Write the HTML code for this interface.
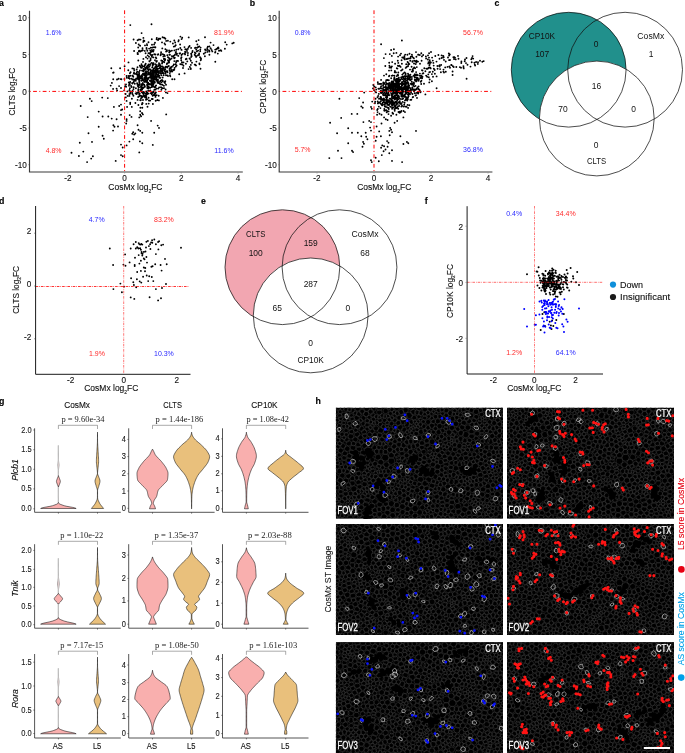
<!DOCTYPE html>
<html lang="en"><head><meta charset="utf-8"><title>Figure</title>
<style>html,body{margin:0;padding:0;background:#fff}svg{display:block}text{font-family:"Liberation Sans", Arial, Helvetica, sans-serif}text.sf{font-family:"Liberation Serif", "Times New Roman", serif}</style>
</head><body>
<svg width="685" height="753" viewBox="0 0 685 753">
<rect width="685" height="753" fill="#fff"/>
<path d="M149.1 87.3h0M166 75.2h0M164.3 70h0M142.2 89.6h0M144.9 82.1h0M142 70.6h0M156 65.1h0M148 68h0M158.2 72.9h0M125.1 86.2h0M168.7 61h0M147.5 79.9h0M157.4 70.8h0M147 66.4h0M143.9 81.1h0M154.6 79.4h0M159.2 73h0M146.1 72.5h0M146.7 73.3h0M157.4 72.3h0M137.6 75.7h0M129.4 95.9h0M153.7 81.7h0M140.1 78.1h0M138.3 90.8h0M142.7 88.3h0M133.5 89.1h0M129.7 84.4h0M149.2 84.6h0M160.1 70.7h0M145.7 63.8h0M139.2 80.9h0M153.6 64.5h0M157.8 71.1h0M144.9 86.8h0M155.6 76.2h0M162 80h0M146.1 71.2h0M138.3 89.3h0M153.1 64.3h0M151.9 70.8h0M162.7 88.1h0M132.3 75.7h0M140.3 66.8h0M138 86.5h0M126.6 76h0M150.3 90.5h0M155.4 72.2h0M139.3 93.1h0M166.4 66.6h0M159.2 87.4h0M156.7 95.1h0M153.8 71.6h0M160.9 53.9h0M131.7 87h0M156.5 67.1h0M156.4 73h0M126.1 86.7h0M153.1 70h0M145.5 64.3h0M158.7 83.1h0M143.1 73.8h0M148.5 73.8h0M153.1 86.5h0M137.5 67.2h0M156.3 58.2h0M147.4 84.7h0M155 60.3h0M142 78.3h0M162.6 73.1h0M156.4 61.7h0M146.4 75.4h0M156.8 71.2h0M164.8 58.8h0M171.5 58.4h0M128.6 76h0M160 84h0M154.6 87.2h0M147.5 67.8h0M135.9 88.3h0M164.7 69.9h0M132.6 90.6h0M155.9 75.5h0M165.3 81.2h0M128.3 70.2h0M144.8 86h0M132 83.1h0M151.8 77h0M168 60.2h0M174.5 79.3h0M126 84.4h0M141.4 80.7h0M157.7 69.2h0M168.8 65.9h0M154.1 78.4h0M139.2 77.8h0M152.5 78.3h0M148.5 72.8h0M146.1 78.2h0M139.3 85h0M153.6 75.1h0M152.6 72.2h0M147.5 58.6h0M145.9 81.4h0M132.3 79.5h0M142.5 66.8h0M164.1 88.1h0M146.3 91.4h0M130.3 92.3h0M165.7 71.7h0M155.5 54.5h0M175.6 64.3h0M149.5 66.5h0M142.8 80.3h0M130.2 102.6h0M165.6 89.5h0M181.5 57.2h0M138.2 78.5h0M140.4 89.8h0M156.3 64.9h0M138.1 92.5h0M145.2 68.5h0M144.2 66.3h0M151.1 81.9h0M162.7 80.8h0M149 69.6h0M160.4 81.4h0M143.3 71.3h0M152.9 84.8h0M121.4 79.2h0M130.2 82h0M158.9 76.6h0M141.2 86.3h0M156.1 72.1h0M155.6 89.5h0M165.6 73h0M159.1 76.2h0M161.7 66.6h0M147.3 87.1h0M139.8 65.6h0M139.4 82.2h0M142.5 87.8h0M134.3 70.2h0M141.7 65.4h0M147.5 78.4h0M151.9 82.6h0M144.4 77.8h0M124.2 90.4h0M147.8 79.3h0M151.6 62.9h0M162.5 68.7h0M156.1 72.8h0M140.5 76.5h0M139.5 80.1h0M174.3 61.1h0M158.4 66.1h0M172.1 71.6h0M175.9 66.5h0M138.3 60.5h0M153.6 71.4h0M154.5 76h0M155.8 57.5h0M155.6 74.1h0M151.3 84.5h0M150.9 70.3h0M129.5 90.2h0M146.6 81.2h0M139.2 77.1h0M150.3 77h0M142.7 84.7h0M156.6 78.3h0M159.1 77.8h0M152.6 65.7h0M152.7 81h0M149.9 80.7h0M143 61.9h0M146.6 81.7h0M142.4 66.6h0M153.6 64.2h0M148.9 77.7h0M156.1 85.5h0M131.7 78.6h0M160 67.2h0M139 72h0M139.3 79.1h0M146.2 67.6h0M141.5 67.7h0M152.4 83.8h0M141.4 67.4h0M135.1 79.7h0M137.9 84.7h0M165.4 73.4h0M149.3 61.1h0M133.8 73.6h0M148.8 90.9h0M128.8 82.5h0M171.5 69.9h0M129.2 84.5h0M154.8 78.6h0M155.6 85.9h0M130.2 75.8h0M152.5 82.8h0M161.4 75.2h0M154.7 79.4h0M152 81.3h0M160.8 66.4h0M150.8 72.7h0M153 80.5h0M147.1 84.7h0M156.8 77.6h0M136.7 72.7h0M158.8 72.1h0M142.3 76.8h0M134.8 83.8h0M153.4 77h0M170.3 67.5h0M161 87.3h0M142.1 65.7h0M157.6 79.9h0M142.9 83h0M147.1 66.2h0M149.8 74.3h0M119.1 86.1h0M151.1 80.4h0M135.6 93.5h0M139.8 78h0M129.9 73.2h0M129.4 90.3h0M136.7 69.5h0M159.2 82.1h0M170 75.3h0M148.4 72.5h0M162.6 71.8h0M145.3 72h0M150.6 84.2h0M154.4 89.7h0M143.2 88.1h0M152.6 83.9h0M156 85.6h0M137.7 77.7h0M129.9 88.2h0M145.9 93.5h0M146 57.3h0M144.2 84.8h0M161.3 82.4h0M170.7 59.1h0M143.4 68.9h0M157.6 82.8h0M160.7 84.4h0M157.8 81.5h0M162.1 62.9h0M143.7 80.7h0M158.1 79.9h0M174.5 68h0M159 63.3h0M140.8 90.4h0M156.5 77h0M164.8 82.3h0M153.4 57.4h0M141.5 64.2h0M168.4 62.2h0M132.8 83h0M155.1 69h0M148.5 93.6h0M133.5 79.4h0M164.3 82.1h0M153.1 85.7h0M133.8 87.2h0M156.4 76.7h0M143.2 73.7h0M124.4 79h0M139.9 77.3h0M152.1 83h0M156.8 68.3h0M150.8 76.8h0M149.3 66.8h0M154.7 81.9h0M146 99.7h0M163.7 75.3h0M150.6 58.5h0M152.4 71.4h0M155.6 75.7h0M135.2 73.9h0M139.6 75.5h0M168.2 66.2h0M153 79.2h0M145.1 77.1h0M153.1 73.4h0M142.6 83.8h0M152.3 84.3h0M140.2 78.2h0M152.2 67.5h0M128.6 78.1h0M165.7 66.8h0M142.2 74.6h0M128.5 62.4h0M145.8 75.4h0M144 69.7h0M150.6 60h0M134.1 81h0M153.8 72.7h0M194.9 52.5h0M132.4 68.4h0M153 72.5h0M144.7 74.9h0M151.2 74.9h0M125.6 94h0M134 72.4h0M154.6 76.6h0M148.2 90.6h0M169.6 70.6h0M139.7 93.5h0M150.9 83.9h0M185.9 63.8h0M138.9 87.2h0M137.2 71.7h0M148.2 88.5h0M148.1 74.5h0M159.5 68.3h0M150.4 64.1h0M139 72.2h0M151.4 73.6h0M182.4 64.4h0M164.9 71.4h0M113.2 79.2h0M146.9 82.3h0M137.5 76h0M156.6 74.5h0M146.5 75.2h0M173.4 70.2h0M160.6 55.2h0M160.1 77.9h0M151.1 73.6h0M148.2 74.4h0M153 70h0M165.2 67.2h0M155.5 70.7h0M144.2 70h0M165 83.1h0M151.1 75.5h0M147.7 86.7h0M138.6 77.9h0M141.5 88.4h0M140.6 86.9h0M113.1 88.9h0M161.7 60.7h0M155.9 69.3h0M146 74.9h0M162 60.6h0M154.3 82.2h0M153.4 91.7h0M117.1 90.5h0M145.7 79.6h0M155.5 64.1h0M169.2 52.2h0M172.2 79.2h0M166.9 50.2h0M133.9 68.7h0M120.7 79.1h0M156 71h0M149 56.7h0M161 71.6h0M147.1 80.8h0M151.5 74.3h0M129.6 93.9h0M154.4 70.6h0M143 79.2h0M153.2 72.2h0M154.6 71.5h0M147.2 85.5h0M152.7 64.4h0M148.5 84.6h0M158.4 65.9h0M155.1 87.1h0M141.7 75.7h0M141.2 85.5h0M170.9 68.5h0M147.4 82.1h0M161.4 89.8h0M153.7 83.7h0M141.5 78.2h0M139.1 74.6h0M150.2 87.7h0M152 92.5h0M156.5 80.8h0M132.5 83.5h0M141.1 84.1h0M147.5 83.3h0M169.1 62.6h0M118.6 78.7h0M154.3 68.5h0M141.8 86.3h0M154.2 73.9h0M142.4 80.1h0M153.3 86.3h0M168.7 62.5h0M153.2 74.1h0M154.2 78.4h0M153.5 63.3h0M139.1 73.4h0M155.6 67.1h0M146 67.6h0M138.3 74.1h0M148.2 86.8h0M145.8 80.5h0M158.3 65h0M148.2 82.8h0M141.9 78.4h0M167.3 66.9h0M161.3 60.5h0M164.9 60.4h0M156.4 66.5h0M147.3 78.4h0M143.4 70.8h0M145.1 73.3h0M160.8 73.6h0M150.1 64.9h0M129.8 78.8h0M148.2 82.7h0M130.6 72.2h0M150.8 77.7h0M133.3 76.8h0M132.6 94.2h0M150.2 76h0M147.7 84.4h0M127.5 91.4h0M158.2 88.6h0M176.3 49.8h0M129.8 84h0M171.9 66.7h0M139.9 70.4h0M142.4 79.5h0M146.4 73h0M130.3 93.6h0M165.3 69.2h0M155 77.7h0M139.1 75.6h0M145.2 76.2h0M129.4 94.1h0M144.3 92.9h0M160.6 80.6h0M126.8 77.8h0M143.1 74.9h0M150.6 72.5h0M162.1 88.3h0M165.9 92.4h0M142.9 83.4h0M139.3 82.3h0M154.4 79.4h0M144.1 75.1h0M144.7 79.2h0M162.5 81.4h0M170.3 76.3h0M152.1 74.2h0M146.2 76.7h0M156 74.6h0M124.6 66.3h0M148.5 78.7h0M135.2 80.1h0M179.2 74.3h0M157.9 76.3h0M150.5 71.6h0M146.2 72.7h0M116.6 88.6h0M157.8 70.2h0M169.5 69h0M139.4 94.8h0M157.4 100h0M157.9 54.7h0M128.9 76.4h0M160.6 72.9h0M166 84.7h0M151.6 85.8h0M147.9 65.8h0M158.7 95.7h0M129 85.7h0M149.9 69.1h0M162.1 70.8h0M132.8 75.7h0M161.4 73.3h0M143.4 58.9h0M147.3 88h0M136.3 78.5h0M152.8 63.6h0M133.7 82h0M162.1 63.5h0M139.3 84h0M153.2 84.6h0M141.1 67.7h0M144.6 65.2h0M163.9 59h0M151.4 79.1h0M143.7 87.5h0M132.7 91.3h0M163.5 73.3h0M158 68.6h0M144.5 73.8h0M151.8 87.1h0M135.6 79.3h0M135.8 80.7h0M138.2 79.3h0M153.2 75.2h0M152.5 76.9h0M139.2 74.9h0M158.1 72.3h0M158.7 71.3h0M150.9 81.3h0M161.9 68.8h0M145 78.7h0M147.3 94.1h0M154.7 70.6h0M148.3 78.8h0M158.8 65.6h0M132.7 83.2h0M166.9 71.1h0M138.7 78.1h0M146.6 77.3h0M131.1 86h0M156.4 88.4h0M164.9 56.1h0M162.4 84.7h0M159.3 75.7h0M128.8 77.9h0M138.7 76.8h0M142.8 73.9h0M136.8 74.3h0M163 61.5h0M151.1 73.3h0M148.4 53.1h0M154.9 82.6h0M136.6 78.8h0M137.1 83.3h0M137.5 84.7h0M155 72h0M153.1 63.2h0M156.1 79.8h0M162.5 77.6h0M175.2 42.5h0M162.6 37.3h0M162.3 48.4h0M138.7 44.5h0M154.3 54.2h0M150 53.8h0M174.4 50.4h0M147.3 50.8h0M152.4 47.6h0M151.3 51.6h0M182.2 37.7h0M142.5 48.2h0M146.6 48.9h0M140.5 39.6h0M174.3 40.5h0M143.3 41.9h0M160.3 38.7h0M178.4 41.4h0M139.2 50.6h0M164.1 37.8h0M164.3 54.9h0M151.8 39.3h0M184.5 47.1h0M165.4 49.2h0M174.8 46.4h0M198.2 47h0M181.6 39.1h0M178.7 40.2h0M148.5 42.2h0M167 51.1h0M155.3 47.6h0M162.6 54.1h0M170.3 41.6h0M152.4 55h0M149.1 48.6h0M145.6 53.2h0M158.1 40h0M159.1 38.7h0M141.2 50.8h0M137.6 40.2h0M161.1 52.2h0M162 42.4h0M140.3 51.6h0M150.8 47.7h0M154.1 44.5h0M195 48h0M209.1 50.4h0M147.1 45.2h0M167.9 40.7h0M180.4 36.6h0M210.5 48.1h0M139.8 51.4h0M150.6 54.4h0M166.1 51.6h0M151.2 55.3h0M152.4 51.2h0M135.9 43h0M138 54.1h0M146.9 44.1h0M141.8 50.7h0M153.3 51.6h0M226.7 44.6h0M146.5 48h0M152.7 47.6h0M137.6 54.1h0M140.1 45.8h0M165.4 38.8h0M167.3 55.2h0M179.5 53.5h0M165.2 44.6h0M151.9 50h0M171.9 50.6h0M143.4 37.9h0M178.3 49.3h0M133.6 39.5h0M225.2 42.2h0M147.7 55.4h0M169.1 50.4h0M158.2 54.2h0M175.7 45.2h0M139 39.5h0M163.2 54.5h0M169.4 54.7h0M169.9 54.7h0M138.8 51.2h0M196.9 51.4h0M156.8 37.9h0M198.6 40.1h0M164.9 38.1h0M145 45.4h0M144.2 41h0M155 42.7h0M134.1 51h0M164.6 43.4h0M150.3 50.5h0M173.8 46.6h0M144.4 40.9h0M151.3 51.8h0M137.6 53h0M143.6 40.4h0M155.4 47.2h0M150.2 52.7h0M142.8 50.2h0M144.8 50.9h0M156.6 39.2h0M138.2 47.5h0M205 37.2h0M154 47.1h0M188.7 37.4h0M158.9 38.7h0M180.1 44.5h0M166.2 40.9h0M186.6 49.4h0M185.7 52.6h0M152 44.7h0M173.1 56.8h0M196.5 56.1h0M205.1 49.4h0M213.5 45.1h0M220.8 50.2h0M181.5 55h0M219 50.8h0M198.1 50.6h0M205.3 52.5h0M196.2 49.6h0M218 47.6h0M187 51h0M170.4 51.3h0M217 48.8h0M207.5 49.5h0M210.6 42.6h0M177 53.8h0M181.6 49.9h0M205.4 50.1h0M212.3 51.4h0M207.4 51.9h0M203.8 53.8h0M207.1 50.1h0M178.3 55.9h0M195.5 53.2h0M188.6 47.3h0M211.7 50.1h0M199.3 46.4h0M210.8 48.6h0M209.4 46.4h0M221.3 50.9h0M218.5 48.2h0M172.9 43.5h0M207.8 46.7h0M191.1 47.9h0M175.7 52.9h0M197.1 47.8h0M217.8 53.6h0M215.1 52.6h0M176 52h0M181.4 49.8h0M209.4 51.5h0M224.9 48.8h0M174.3 55.4h0M175 54.7h0M209.4 54.7h0M204.9 56.2h0M215.9 49.5h0M181.2 60.2h0M198 55.2h0M215.4 51.9h0M191.6 56.2h0M192.6 50.9h0M171.8 56.1h0M215.2 49.6h0M195.3 55.6h0M191.4 55h0M207.1 48.1h0M218.3 47.4h0M219.1 50.7h0M190.8 64.9h0M187.8 55.3h0M145.6 80.7h0M156.9 60.9h0M196.1 56.9h0M162.7 77.6h0M167.3 67.6h0M197.4 44.5h0M150.7 77.2h0M199.5 64.3h0M181.1 58.2h0M180.1 53.3h0M144.5 66.7h0M180.2 64.1h0M191.1 57.1h0M166.8 64.1h0M148.6 64.4h0M151.9 56.8h0M148.8 72.8h0M168 57.3h0M190.8 60.7h0M147.8 68.5h0M167.5 72.2h0M167.2 71.2h0M167 63.4h0M174.3 69.7h0M174.8 57.8h0M156 73.4h0M189.5 58.4h0M173.8 64.5h0M164.4 69.2h0M199.1 54.9h0M184.5 53.4h0M153.7 49.9h0M199.4 63.5h0M177.2 60.9h0M163.7 68.4h0M157.9 75.2h0M148.3 70.3h0M158.3 74.8h0M160.8 68.7h0M164 59h0M200.5 68.7h0M178 61h0M155.3 67h0M165.5 73h0M169 62.1h0M149.2 69.6h0M171 67.2h0M173.3 56.1h0M196 65.4h0M169 61.3h0M183.5 62.4h0M183 68h0M154.4 71.4h0M176.6 65.4h0M169.9 59.8h0M153.7 80.4h0M145.8 74.3h0M200.9 58.2h0M149.6 61.4h0M194.7 64.6h0M165.2 59.7h0M149.1 83.6h0M199.1 53.5h0M181.9 62.3h0M167.4 63.6h0M192 62.8h0M184.6 73.4h0M168 76.1h0M185.1 51.7h0M186.3 58.6h0M154.2 76.1h0M185.1 54.4h0M196.4 61.6h0M183.4 65.8h0M189.8 66.9h0M200.6 47.6h0M189.6 46h0M171.1 71.3h0M176.3 61.3h0M187.9 53h0M180.3 48h0M148.5 88.2h0M147.9 71.6h0M159.9 64.3h0M190.8 68.4h0M157 66.8h0M162.5 66.4h0M191.1 53.7h0M151.8 75.1h0M160.3 65.7h0M159 72.9h0M147.1 68.8h0M186.6 58.9h0M162.6 70.2h0M167.6 75.5h0M163.3 56.6h0M148.2 65.1h0M192.3 52.3h0M152.1 75.6h0M160.6 70.7h0M185.3 49.3h0M164.2 62.3h0M173.2 70h0M163.2 67.3h0M176.2 62.4h0M162.4 69.1h0M170.3 71.5h0M144.9 65.2h0M145.3 69.4h0M173.2 65.6h0M190.8 69h0M201.1 59.1h0M190 58.9h0M174.2 58.2h0M181 64.2h0M182.5 53.9h0M185.8 59.2h0M200.7 60.3h0M163.9 85.7h0M169.8 73.1h0M188.6 69.1h0M156.7 70.6h0M149.9 69.6h0M195.4 47.8h0M145.3 73.3h0M195.1 64.8h0M196.3 41.2h0M153.8 68.4h0M187.3 61.4h0M160.8 69.9h0M159.8 77.5h0M200.2 51.2h0M194.7 54.7h0M187.8 48.9h0M169.2 58.2h0M200.3 49.6h0M176.8 54.7h0M200 57.3h0M138.2 97h0M141.9 92.3h0M141.1 96h0M139.3 96.3h0M148.7 103.6h0M142.3 107.7h0M142.7 93.1h0M155.7 100.8h0M135.4 103h0M142.6 103.2h0M137.4 92.7h0M143 100h0M130.2 104h0M145.3 95.1h0M146.4 94.5h0M130.7 91.8h0M142.8 92.3h0M152.7 95.8h0M140.9 100.1h0M146.7 92.2h0M148.6 97.7h0M140.4 107.8h0M151.8 99h0M146.2 99.2h0M133.4 95.8h0M147.5 106.7h0M150.7 93.1h0M150.2 100.6h0M136.6 93.2h0M147 99.2h0M155.5 95.7h0M144.9 97.2h0M153.8 95h0M154.9 95h0M142.4 103h0M148.9 100.5h0M140 95.4h0M152.7 99h0M141.9 104.2h0M137.6 99.9h0M142.1 96.3h0M146.4 96.1h0M147.1 92.5h0M131.9 98.8h0M136.7 94h0M146.2 97.5h0M147.3 92.5h0M143.6 93.7h0M167.5 93.1h0M153.3 91.7h0M142.1 104.3h0M155.4 93.3h0M146.3 103.9h0M126.6 100.9h0M143.8 92h0M143.4 93.9h0M162.9 97.9h0M125.8 97.4h0M141.5 91.4h0M151.7 94.2h0M140.3 100.3h0M144.7 96.3h0M153.6 92.3h0M143.8 95.4h0M152.9 92.7h0M142.3 92.2h0M139.2 94.3h0M141 98.2h0M138.4 105h0M142 97.6h0M155.9 92.5h0M132.2 92.9h0M127.6 95.9h0M143 96.5h0M158.9 100.4h0M152.9 104h0M155.5 96.9h0M154.9 93.8h0M113.6 72.5h0M120.1 68.2h0M110.7 85.6h0M113.1 72.8h0M111.3 68.3h0M111.9 82.9h0M121 88h0M117 79.5h0M89.9 98.7h0M91.7 101.1h0M102.2 97.6h0M107.8 98.1h0M80.7 106h0M113.9 106.9h0M119.2 106h0M121 104.6h0M121 110.1h0M122.2 109.5h0M98.7 111.6h0M87.7 117.1h0M102.6 116.5h0M108.3 116.5h0M111.7 118.6h0M116.6 119.2h0M121 114.8h0M98.7 126.7h0M113.4 125.3h0M114.5 126.7h0M118 126.5h0M113.1 130.6h0M88.5 133.2h0M102.6 135.8h0M103.8 138.8h0M79.8 142.8h0M92 141.9h0M121 144.6h0M122.7 147.5h0M71.5 152.8h0M83.3 151.6h0M78.9 156h0M92.9 156.3h0M91.2 158.6h0M87.1 162.1h0M115.7 160.9h0M121 155.1h0M122.7 156.3h0M127.1 106.9h0M131.8 106.9h0M129.7 115.1h0M131.5 116.9h0M126.6 119.2h0M126.6 120.9h0M126.2 123.5h0M140.2 111.3h0M142 113h0M140.2 114.8h0M141.1 116.2h0M142.9 114.4h0M139.3 117.4h0M151.1 120.9h0M166.2 114.4h0M137.6 125.3h0M138.5 129.7h0M140.2 130.9h0M142.3 132.7h0M133.2 132.3h0M134.1 134.6h0M135.3 133.5h0M132.3 133.7h0M157.7 125.6h0M159 127.9h0M154.2 132.7h0M129.4 141.6h0M133.2 139.3h0M139.9 141.4h0M142.3 143.3h0M152.8 144.9h0M126.6 145.4h0M139.3 152.4h0M130.3 25.1h0M151.5 24.3h0M141.6 33.1h0M232.3 43.4h0M233.7 42.7h0M215.3 61.8h0" stroke="#000" stroke-width="1.9" stroke-linecap="round" fill="none"/>
<line x1="124.6" y1="10.3" x2="124.6" y2="172" stroke="#ff0000" stroke-width="1" stroke-dasharray="3.8 2.4 1 2.4"/>
<line x1="29.5" y1="91.4" x2="242.8" y2="91.4" stroke="#ff0000" stroke-width="1" stroke-dasharray="3.8 2.4 1 2.4" stroke-dashoffset="6"/>
<path d="M29.5 10.7V172H242.8" fill="none" stroke="#3a3a3a" stroke-width="1.15"/>
<text font-size="9.65" text-anchor="end" fill="#111" transform="translate(26.8 21) scale(0.85 1)" stroke="#111" stroke-width="0.12">10</text>
<line x1="28" y1="17.7" x2="29" y2="17.7" stroke="#777" stroke-width="0.5" />
<text font-size="9.65" text-anchor="end" fill="#111" transform="translate(26.8 57.7) scale(0.85 1)" stroke="#111" stroke-width="0.12">5</text>
<line x1="28" y1="54.4" x2="29" y2="54.4" stroke="#777" stroke-width="0.5" />
<text font-size="9.65" text-anchor="end" fill="#111" transform="translate(26.8 94.5) scale(0.85 1)" stroke="#111" stroke-width="0.12">0</text>
<line x1="28" y1="91.2" x2="29" y2="91.2" stroke="#777" stroke-width="0.5" />
<text font-size="9.65" text-anchor="end" fill="#111" transform="translate(26.8 131.3) scale(0.85 1)" stroke="#111" stroke-width="0.12">-5</text>
<line x1="28" y1="128" x2="29" y2="128" stroke="#777" stroke-width="0.5" />
<text font-size="9.65" text-anchor="end" fill="#111" transform="translate(26.8 168) scale(0.85 1)" stroke="#111" stroke-width="0.12">-10</text>
<line x1="28" y1="164.7" x2="29" y2="164.7" stroke="#777" stroke-width="0.5" />
<text font-size="9.65" text-anchor="middle" fill="#111" transform="translate(67.9 180.5) scale(0.85 1)" stroke="#111" stroke-width="0.12">-2</text>
<line x1="67.9" y1="172.5" x2="67.9" y2="173.6" stroke="#777" stroke-width="0.5" />
<text font-size="9.65" text-anchor="middle" fill="#111" transform="translate(124.6 180.5) scale(0.85 1)" stroke="#111" stroke-width="0.12">0</text>
<line x1="124.6" y1="172.5" x2="124.6" y2="173.6" stroke="#777" stroke-width="0.5" />
<text font-size="9.65" text-anchor="middle" fill="#111" transform="translate(181.3 180.5) scale(0.85 1)" stroke="#111" stroke-width="0.12">2</text>
<line x1="181.3" y1="172.5" x2="181.3" y2="173.6" stroke="#777" stroke-width="0.5" />
<text font-size="9.65" text-anchor="middle" fill="#111" transform="translate(238 180.5) scale(0.85 1)" stroke="#111" stroke-width="0.12">4</text>
<line x1="238" y1="172.5" x2="238" y2="173.6" stroke="#777" stroke-width="0.5" />
<text font-size="9.22" text-anchor="middle" fill="#111" transform="translate(14.9 91.6) rotate(-90) scale(0.9 1)" stroke="#111" stroke-width="0.12">CLTS log<tspan font-size="58%" dy="2.3">2</tspan><tspan dy="-2.3">FC</tspan></text>
<text font-size="9.44" text-anchor="middle" fill="#111" transform="translate(135.4 190.3) scale(0.9 1)" stroke="#111" stroke-width="0.12">CosMx log<tspan font-size="58%" dy="2.3">2</tspan><tspan dy="-2.3">FC</tspan></text>
<text font-size="7.29" text-anchor="middle" fill="#2a2aff" transform="translate(53.6 35) scale(0.96 1)">1.6%</text>
<text font-size="7.29" text-anchor="middle" fill="#ff2a2a" transform="translate(224 35) scale(0.96 1)">81.9%</text>
<text font-size="7.29" text-anchor="middle" fill="#ff2a2a" transform="translate(53.6 152.9) scale(0.96 1)">4.8%</text>
<text font-size="7.29" text-anchor="middle" fill="#2a2aff" transform="translate(224 152.9) scale(0.96 1)">11.6%</text>
<path d="M404.8 86.4h0M400.8 92.1h0M397.5 103.9h0M403.4 73.4h0M409.1 91.6h0M405.5 89.7h0M408.2 84.2h0M408.1 97.2h0M401.8 83.6h0M391.8 86.9h0M394.5 90.3h0M416.3 88.9h0M391.3 95.1h0M395.5 106.9h0M389.6 87.3h0M392 96.2h0M394.6 102.5h0M401.3 89h0M394.7 86.8h0M394 88.2h0M390.8 87h0M399.3 79.6h0M382.1 99.6h0M398.8 88h0M413.9 82.4h0M389 105.2h0M397.7 80.9h0M431.9 81.3h0M386.3 91.8h0M378.8 93.9h0M393.1 98.5h0M419.9 75.8h0M422.6 73.6h0M383.7 93.4h0M405 112.1h0M398.3 78.4h0M391.2 93.6h0M374.9 103.2h0M410.5 90.8h0M387.9 102.5h0M401.8 91.9h0M399.2 84.4h0M420.6 91.8h0M412.3 83.5h0M384.4 99.6h0M395.1 93.2h0M410.6 88.9h0M382.3 92.7h0M393.5 83h0M400.9 89.1h0M378.9 88.9h0M383.4 82.4h0M377.8 109h0M401.7 82.2h0M391.5 94.7h0M409.3 87.8h0M399.6 81.3h0M405.1 89.6h0M397.2 95.6h0M407.2 76.2h0M397 81.4h0M386.5 90.3h0M412.4 61.3h0M410 94.2h0M425.4 94.4h0M396.5 92.2h0M391.3 101.7h0M380.9 92.4h0M382.6 100.1h0M404.1 87.7h0M387.6 100.4h0M405.5 93.4h0M391.1 86.2h0M393.9 89.2h0M393.1 83.6h0M396.6 76.1h0M403.9 80.4h0M377.5 97.2h0M395.5 97h0M392.1 87.9h0M411.8 71.6h0M385.8 81.9h0M417.8 75.3h0M405.5 94.1h0M417.7 78.3h0M389.8 86.6h0M407.9 76.2h0M402.6 99h0M380.3 101.6h0M395.1 89.6h0M392.8 90.5h0M386.7 98.7h0M389 88.6h0M381 98h0M392.6 82.3h0M402.2 92.5h0M388.9 91.2h0M379.5 113.7h0M410.7 83.8h0M393.8 96.8h0M398.6 83.6h0M395.4 92.1h0M391.8 81.5h0M405.4 91.8h0M391.9 104h0M398.6 87.6h0M380.9 90.6h0M378.6 102.6h0M393.6 102.2h0M421.1 75.7h0M400.4 80.1h0M421.4 75.8h0M403.6 87.1h0M403.7 87.9h0M391.2 78.3h0M398 83h0M419.7 90.2h0M412.4 94h0M390.7 87h0M392.6 85.4h0M414.2 89.5h0M392.1 98.2h0M409.2 77.9h0M387.3 96h0M405.7 80.1h0M416.5 92.9h0M408.2 94.7h0M401.1 103.1h0M399.9 89.4h0M397.2 93.4h0M397.9 103.9h0M412.3 83.7h0M412 89.5h0M403.1 89.9h0M383.2 83h0M392 83.6h0M401.8 84.4h0M398.8 92.3h0M382 105.2h0M406.2 92.6h0M429.3 82.4h0M383.5 84h0M399 97.3h0M417.6 87.8h0M393.2 91.5h0M393.3 88.1h0M400.3 79.9h0M405 76.3h0M393.3 92.6h0M410 69.6h0M375.4 91.7h0M406.1 93.7h0M402.6 96.5h0M396.3 93.9h0M402.9 90.3h0M398.8 82.9h0M414.1 91.3h0M392.7 96.4h0M397.7 97.1h0M381.6 93.1h0M384.8 106.5h0M395.3 86.1h0M379.6 102.7h0M388.1 95h0M382.4 91.4h0M392.3 89.2h0M399.6 65.8h0M409.5 93.6h0M395.8 101.6h0M408.6 79.3h0M414.7 93.2h0M415.1 75.5h0M381.1 97.3h0M392.1 85.6h0M405 100.4h0M409.5 77.2h0M401.6 78.9h0M401.4 96.5h0M401.1 77.7h0M389 70.6h0M400.2 89.1h0M407.9 94.4h0M394.2 96.2h0M412.3 87.5h0M364.2 92.6h0M394.3 75.6h0M418.6 86.4h0M408.7 88.1h0M415.5 95.6h0M400 93.6h0M384.1 90.5h0M392.1 108.7h0M416.4 77.8h0M376.2 89.6h0M386.8 83.4h0M377.7 101.4h0M391.8 105.1h0M393.2 93.8h0M405.2 96.1h0M388.4 107.9h0M418.7 89.3h0M406 98.9h0M392.6 75.4h0M386.4 87.4h0M380.3 88.3h0M399.7 98.6h0M422 70.2h0M396.3 93.5h0M385.9 86.7h0M397.6 98.6h0M392.1 86.5h0M387.4 107.5h0M375.6 98.8h0M397.6 92h0M416 95.3h0M413 84.6h0M410 90.6h0M400.8 92.2h0M403.9 81.6h0M410.4 74.7h0M397.7 91.6h0M401.7 77.7h0M393.5 82.9h0M411.9 78.9h0M387.2 80h0M406.5 99.7h0M408.6 75h0M408.4 83.2h0M406.9 90.1h0M392.8 93h0M391.6 83.4h0M393.4 81.2h0M393.9 85.1h0M384.9 104h0M393 103.8h0M390.7 91.8h0M387 88.1h0M402.7 94h0M389.3 85.2h0M401.4 83.5h0M416 79.6h0M418.6 89.2h0M398.6 79h0M410.7 77.3h0M401.4 77.1h0M427.1 76.7h0M418.2 93.6h0M411.8 81.8h0M396.6 82.8h0M395.4 91.7h0M405 97h0M398.1 84.9h0M395.5 85.1h0M406.8 97.3h0M383.5 100.7h0M386.2 90.9h0M384.5 92.7h0M397.4 75.3h0M387.9 100.8h0M396 79.2h0M416.1 81.4h0M403.1 98.5h0M388 92.9h0M402.2 92.9h0M413.2 85.6h0M408.5 84.7h0M397.3 85.9h0M405.8 80.2h0M409 86.3h0M383.8 102.1h0M381 86.8h0M391.2 91.4h0M410.2 90.8h0M416.1 72.1h0M400 86.7h0M416.5 77.5h0M410.4 99.9h0M397.5 95.2h0M389.4 75.7h0M390.6 88h0M399.3 85.2h0M415.3 89.9h0M408.5 87.4h0M382.7 91.8h0M383.6 95.2h0M408.2 87.3h0M400.7 103.7h0M387 100.2h0M406.5 90.7h0M414.8 79.4h0M408 82.1h0M399.7 89.4h0M414.5 90.4h0M393.8 97.4h0M391.3 90h0M387.3 104.9h0M421.2 84h0M424 83.8h0M397.9 92.1h0M405.6 73.4h0M403.9 89.2h0M409.7 78.7h0M412.8 71.5h0M406.7 82.7h0M397.4 90.1h0M392.2 102.4h0M386.2 80.3h0M397.3 107.4h0M388.4 84.2h0M398.8 102.1h0M397.2 100.4h0M386.1 100h0M392.4 101.9h0M403.5 106.6h0M400.5 87.7h0M387.9 89.5h0M389.4 86.7h0M405.3 88h0M401.3 92.5h0M402.2 93.3h0M396.5 80.5h0M407.4 80h0M399.6 93.4h0M428.8 77.3h0M392.8 101.9h0M390 88.7h0M418.3 92.5h0M397.6 91.7h0M389.1 95.3h0M403.6 111h0M403.8 88.6h0M398.7 96.7h0M401.6 95.2h0M388.8 94.3h0M414.2 86.4h0M402.2 85.2h0M398.2 89.1h0M402.8 83.7h0M388.4 91.6h0M396.9 102.5h0M380.4 108.1h0M385.1 90.8h0M401.9 85.8h0M399.8 89.8h0M407.3 98.2h0M390.4 98.8h0M397 97.5h0M390.1 87.4h0M401.4 96h0M407.7 98.4h0M411.1 92.6h0M405.1 85.3h0M388.8 80.2h0M400.8 93.5h0M385.8 85h0M375.2 101.7h0M400.3 93.1h0M399.2 97h0M407.1 80.6h0M408.1 90.9h0M383.4 87.2h0M387.3 97.2h0M398.1 75.6h0M399 88h0M403 88h0M382.5 105.3h0M395.1 80.2h0M405.8 84.9h0M420.8 81.7h0M383 94.8h0M417.4 87.6h0M394.6 95.4h0M380.7 92.8h0M413.9 91.3h0M385.2 95.4h0M384 75.6h0M406.6 88h0M410.4 88.1h0M398.8 82.1h0M389.3 100.9h0M380.1 84.1h0M399.2 89.4h0M380.5 96.9h0M410.6 91.4h0M405.3 81.6h0M412.5 88.8h0M402.7 82.2h0M384.2 110.6h0M403.5 91.7h0M376.1 92.4h0M406.1 82.9h0M414.1 83.9h0M385.8 87.6h0M410 79.3h0M398.2 89.8h0M395.8 88.8h0M374.1 90.3h0M395.8 89.1h0M408.1 107.9h0M377.2 110h0M391.9 97.3h0M389.2 87h0M378.2 95.9h0M410.2 80.3h0M397.9 81.4h0M398.2 85.2h0M409.4 93.9h0M388.7 85.9h0M436.6 88.2h0M392.2 102.6h0M383.8 98.4h0M405.3 106.6h0M402.3 74.6h0M386.3 74.2h0M387 95.2h0M407.8 90.1h0M401.4 106.6h0M402.9 84.2h0M408.4 92.7h0M390.8 102.9h0M413.1 96.9h0M398.4 91.3h0M406.7 89.3h0M387.2 95.2h0M407.2 92.6h0M401.5 103.8h0M427.9 68.5h0M396.4 84.2h0M416.6 89.3h0M405.9 99.2h0M417.1 92.6h0M401.2 83.7h0M404.1 84.2h0M383.1 85.5h0M410.9 90.9h0M403.5 76.7h0M407.7 85.9h0M395.3 97.7h0M407.8 82.9h0M394.2 89.1h0M397.8 96.5h0M413 70.4h0M411.3 99.8h0M393.2 89.9h0M399.1 86.7h0M401.3 95.3h0M396.8 90.4h0M397.2 79.7h0M387.2 103.4h0M405.2 97.1h0M385.9 97.3h0M386.9 89.8h0M413.6 75.7h0M420.3 78h0M420.5 92.2h0M402.7 79.4h0M392 86.4h0M407.3 78.6h0M417 97.9h0M381.8 88.6h0M390.4 90.6h0M392.2 94.4h0M395.9 88.1h0M386.6 88.3h0M386.8 89.9h0M399.5 79.8h0M377.8 82.3h0M385.8 89.2h0M396 92.5h0M402.2 91.7h0M398.2 87.2h0M409.4 105.3h0M398.4 87.3h0M401.8 90.4h0M402.7 76.7h0M396.2 86.5h0M384.6 90h0M393.4 88.7h0M394 92.7h0M388.3 93.1h0M401.4 89.4h0M391.2 100.7h0M383 89h0M395.5 98.8h0M387 93.2h0M400 93.2h0M373.3 84.9h0M381.1 79.9h0M395.6 80.7h0M397.6 91.8h0M396.2 90.3h0M408.4 88.7h0M393.4 88h0M391.2 82.4h0M402.6 85h0M392.8 89h0M398.9 77.7h0M406.3 83.7h0M394.2 78.2h0M394.7 89.2h0M390.4 85.5h0M398.9 86.9h0M400.9 87.8h0M404.5 94.9h0M401.4 87.4h0M412.7 97.3h0M397.1 86.6h0M397 78.8h0M393.5 82.2h0M406.7 87h0M396.7 90.5h0M393.6 84.3h0M385 94.9h0M394.9 95.8h0M403.4 96.4h0M374.2 86.5h0M386.7 96.5h0M388.4 85.4h0M389.2 82.9h0M396.5 84.8h0M392.9 89.4h0M397.3 86.4h0M398.6 95.8h0M407.6 87.7h0M394.1 79.1h0M399.2 80.3h0M394.4 98.1h0M397.6 89.3h0M393.4 90.8h0M386.6 83.6h0M399.7 87.3h0M405.5 89.5h0M388.4 92.6h0M396.1 88h0M396.1 89.7h0M378.4 88.6h0M412.7 89.8h0M408.7 96.1h0M406.3 86.5h0M404.8 86.3h0M389.1 87.6h0M375.7 87.4h0M395.8 81.8h0M397.1 82.6h0M394.1 79.3h0M392.6 84.9h0M404.7 84h0M402.9 88.6h0M396.2 95h0M392.1 95.7h0M415.5 85.9h0M403.3 88.2h0M397.2 85.7h0M385.3 102.4h0M383.3 90.2h0M373 88.4h0M394.2 91.3h0M398.8 90.7h0M394.8 99.6h0M396.3 89.8h0M398.4 81.9h0M403.4 95.9h0M381.3 86.1h0M385.8 93.5h0M403.8 88.2h0M398.7 81h0M400.6 89h0M387.9 87.1h0M409.1 85.5h0M384.4 83.9h0M380.2 83.9h0M387.6 83.9h0M405.8 83.9h0M388.1 83.9h0M390.5 83.9h0M400.3 83.9h0M378.3 83.9h0M396.9 83.9h0M398.2 83.9h0M381.4 83.9h0M380.2 83.9h0M380.4 83.9h0M378.2 83.9h0M384.6 83.9h0M391.6 83.9h0M386.7 83.9h0M388.3 83.9h0M387.7 83.9h0M400.5 83.9h0M405.7 83.9h0M378 83.9h0M384.3 83.9h0M387.8 83.9h0M395 83.9h0M387.5 83.9h0M402.8 83.9h0M379.2 83.9h0M398.5 83.9h0M391 83.9h0M386.7 83.9h0M395.4 83.9h0M401.4 83.9h0M395.6 83.9h0M403.6 83.9h0M391.8 83.9h0M401.5 83.9h0M388.7 83.9h0M387 83.9h0M394.8 83.9h0M400.6 83.9h0M383.7 83.9h0M404.5 83.9h0M403.4 83.9h0M394.7 83.9h0M427.9 59.5h0M429.1 53.2h0M431 52h0M420 63.8h0M409.7 77.6h0M421.4 77.8h0M463.5 67.3h0M471.3 59.3h0M397.5 87.9h0M402.5 69.4h0M419.8 55h0M461.3 63h0M407.6 62h0M416.3 62.3h0M464.7 61.3h0M444 59.9h0M429.7 60.2h0M415.4 61.1h0M453.7 67h0M428 55.4h0M443.3 57.5h0M388 80.1h0M402.3 69.7h0M393.7 53.3h0M465 59.5h0M391.1 67.8h0M411.9 76.9h0M416.4 56.8h0M391.9 75.7h0M441.6 58h0M416.7 79.7h0M391.9 66.4h0M432.1 57.6h0M396.4 52.9h0M449.8 54.5h0M478 62.2h0M389.4 65.8h0M422.5 76.7h0M433.7 65.6h0M437.4 66h0M405.6 74.2h0M467.5 64.8h0M428.9 67.7h0M413.1 57.6h0M419.9 73.6h0M449.4 66.4h0M422.5 70.5h0M439.6 65.3h0M397.9 74.7h0M396.8 68.2h0M401 53.6h0M385.6 54.1h0M463.7 68.4h0M392.2 62.1h0M448 57.5h0M404.4 56.3h0M423.4 73.2h0M404.4 59.1h0M400.6 66.9h0M404.7 58.1h0M391.6 86h0M406.7 59h0M405.7 67.9h0M425.4 71.3h0M443.3 55.9h0M445.2 67.4h0M452.6 75h0M461.4 61.4h0M439.7 66.6h0M423.2 55h0M439.2 65.9h0M417.1 75.1h0M409.3 63.9h0M383.9 58.1h0M406.5 67h0M463.4 66.1h0M394.4 84.3h0M390.7 88.3h0M416 52.1h0M454 59.1h0M430.7 68.4h0M429.4 65.6h0M414.2 67.5h0M434.1 69.1h0M433.4 62.9h0M412.9 83.4h0M407.8 58.8h0M414 63.5h0M445.7 61.5h0M408.3 64.7h0M412.5 69.7h0M397.8 60.7h0M452.9 66.3h0M476.1 62h0M407.9 82.1h0M400 55.2h0M458.5 58.8h0M416.8 67.1h0M418.1 54.8h0M391.1 84h0M396 72.4h0M409.5 53.7h0M418 61.6h0M429.8 63.9h0M437.6 68.7h0M421.9 56.4h0M470.5 66.6h0M390.6 67.3h0M409.2 64.1h0M402.3 82h0M433.8 68.8h0M395.1 63.7h0M440.9 72.3h0M472 57.9h0M480 60.7h0M453.4 57.2h0M433 76.8h0M417 61.5h0M403 83.9h0M397.9 65.7h0M404.6 72.4h0M429.7 79.5h0M398.1 56.6h0M413.2 68.6h0M426.3 68.6h0M418.6 80.7h0M408 73.7h0M407.7 77.9h0M406 76.2h0M421.6 60.7h0M452.6 71.5h0M426.1 58.5h0M428.5 62.3h0M415 80.4h0M404.8 59.4h0M397.4 68.6h0M436.5 61.6h0M429.3 72.2h0M415.7 64h0M438.4 55h0M454.2 57.3h0M421.3 53.3h0M458 55.9h0M430.9 62.5h0M449.1 55.5h0M432.8 60.6h0M456.3 67h0M474.4 62.8h0M471.7 62.2h0M404.9 83.3h0M403.7 78.1h0M384.8 87.3h0M401.1 70.6h0M444 72.5h0M459.8 67.1h0M416.5 60.8h0M466 63.1h0M411.4 84.5h0M408 66.3h0M411.2 79.6h0M472.6 56.1h0M405.1 82.5h0M389.2 62.7h0M394.7 72.3h0M393.1 86.6h0M405.5 78.3h0M429 57.6h0M410.2 60.7h0M401.6 60.3h0M410.5 58.2h0M428.3 74.4h0M414.2 60.8h0M435.3 56h0M426.1 75.6h0M436.6 76.4h0M402.3 57.5h0M414.7 77.3h0M407.3 82h0M409.1 58.4h0M397 83.3h0M461 67.8h0M441.6 55.4h0M455.7 59.4h0M451.2 65h0M394.1 85.3h0M451.5 65h0M411.9 54.6h0M385.4 87.4h0M416.6 80.9h0M434.7 70h0M447.5 66.9h0M427 68.9h0M473.2 58.6h0M466.5 58h0M413.9 58.2h0M404.6 76.3h0M424.3 68.2h0M425.9 56.4h0M410.8 56.8h0M415.1 68.2h0M398.9 66.1h0M389.5 67.6h0M407.8 79h0M432.8 71.7h0M418.3 54.7h0M406.2 64.3h0M412.4 61.8h0M430 71.9h0M477.8 63.9h0M416.7 74.4h0M441.2 64.9h0M422.1 78.3h0M403.5 57.8h0M409.7 76.2h0M416.1 75h0M431.9 74.1h0M428.2 63.6h0M408.4 62.9h0M389 76.2h0M401.9 63.7h0M417.8 79.6h0M443.4 71.6h0M404.7 79h0M391.8 55.9h0M439.5 58.8h0M455 57.6h0M405.2 54.6h0M398.3 72.5h0M434.9 73.8h0M475.1 65.5h0M421.4 80.8h0M448.8 53.5h0M407.4 54.7h0M398.7 80.8h0M449 60.1h0M430 62h0M401.6 86.9h0M445.8 71.8h0M443.5 69.6h0M398.3 62.9h0M417.8 78.2h0M394.4 77.5h0M414.9 74.3h0M385.3 66h0M413.9 75.8h0M391.3 70.4h0M412.2 56.2h0M384.5 83.1h0M407.3 82h0M440.1 69.1h0M411.6 66.7h0M389.8 54.1h0M474.8 64.8h0M450 60h0M450 67.8h0M421.5 77.3h0M443.7 57.3h0M430.3 67.6h0M402.4 84.8h0M418.9 79.4h0M394.9 70.9h0M389.1 105h0M404.6 102.7h0M396.8 98.8h0M394.6 106.8h0M397 103.6h0M381 101.1h0M389.7 98.7h0M407.3 100.5h0M398.5 112h0M406.2 99.5h0M384.5 99.3h0M388.8 109h0M399.3 105.9h0M399.8 101.2h0M392.6 100.6h0M389.9 103.9h0M386.7 112.2h0M395.2 105.9h0M384.1 100.4h0M394.4 105.9h0M396.1 102.9h0M385.9 106.8h0M390.7 102.1h0M394.3 104h0M389.9 102.6h0M388.7 104.8h0M407.8 99.2h0M391.3 99.3h0M380.2 98.6h0M387.3 111.3h0M384.3 104.5h0M382.7 102.7h0M390.6 102h0M399.7 102.1h0M387.2 99.9h0M406.5 106.8h0M389.2 101.9h0M392.1 100.7h0M388.3 100.2h0M381 99.4h0M384.1 100.8h0M402.7 101.9h0M388.6 111.4h0M377.6 112.1h0M392.6 105h0M392.7 113.5h0M380.8 103.8h0M393.6 102.7h0M391.8 100.5h0M379 98.8h0M398 106.3h0M378.3 102.5h0M382.9 99.3h0M395.7 106.1h0M384.8 110.7h0M391.5 103h0M390.3 106.7h0M386.4 101.7h0M378.8 106.6h0M399.6 112.7h0M398.2 108.8h0M391.8 107.1h0M394.5 109.3h0M396.2 104.8h0M402 105.5h0M397.4 103.5h0M392.1 105.6h0M386.1 100.5h0M392.5 112.7h0M382.6 104.1h0M377.9 103.4h0M387.3 100.6h0M383.1 99.8h0M401 99.1h0M387.5 104.3h0M389.6 102h0M381.8 105h0M393.2 107.6h0M404.2 104.7h0M387.5 100.8h0M399.3 112.5h0M386.2 100.7h0M386.5 103.3h0M386.3 110.1h0M384.3 109h0M397 101.1h0M388.5 114.1h0M384.9 110.3h0M384.8 104.6h0M398.3 99.3h0M387.6 100.2h0M393.2 113.7h0M385.3 103h0M382.8 102.4h0M395.4 108.6h0M393.1 104.4h0M407.6 104.9h0M385.7 106.8h0M394.7 110.8h0M382.5 99.2h0M401.4 111h0M399.7 111.7h0M396.5 108h0M400 103.8h0M339.4 98.7h0M359.2 98.1h0M363.1 102.5h0M361.3 106.4h0M362.7 107.8h0M371 106.9h0M371.8 108.7h0M372.2 101.6h0M351.7 113.9h0M357.3 113.9h0M341.2 117.9h0M330.1 122.7h0M363.4 122.1h0M369.2 120.9h0M371 122.1h0M348.2 128.3h0M370.1 127.6h0M371 130.6h0M337.1 133.2h0M352 132.7h0M357.8 132.7h0M365.7 132.7h0M361.3 136.2h0M366.2 136.7h0M367.4 139.3h0M348.2 143.2h0M363.1 141.9h0M363.9 143.7h0M362.5 146.7h0M338 150.7h0M352 150.7h0M353.1 152.1h0M329.3 158.1h0M341.5 158.1h0M371 160.3h0M371.8 162.1h0M377.1 114.8h0M381.5 114.8h0M384.1 117.4h0M385.8 119.2h0M387.6 120h0M391.1 115.7h0M396.4 114.8h0M400.7 112.2h0M403.4 117.4h0M397.2 120.9h0M394.6 122.7h0M381.5 123.5h0M376.6 126.5h0M390.2 127.9h0M391.1 129.7h0M389.3 130.9h0M392 132.3h0M379.2 131.4h0M416 130.9h0M376.6 136.7h0M380.9 136.2h0M389.7 135.3h0M400.4 136.3h0M375.7 140.7h0M387.1 141.1h0M388.5 142.8h0M406.9 141.9h0M408.3 143.3h0M403.4 144h0M382.3 145.4h0M384.1 146.3h0M381.1 147.7h0M387.6 146.7h0M385.5 149.5h0M383.6 151.2h0M392 150.2h0M389.3 153.3h0M381.8 155.1h0M375.7 157.7h0M378.8 161.2h0M392 160.9h0M402.1 162.1h0M381.1 44.2h0M401.9 40.5h0M391.1 50h0M393.9 49.3h0M482.3 61.8h0M483.7 61.1h0M466.6 78.7h0" stroke="#000" stroke-width="1.9" stroke-linecap="round" fill="none"/>
<line x1="374" y1="10.3" x2="374" y2="172" stroke="#ff0000" stroke-width="1" stroke-dasharray="3.8 2.4 1 2.4"/>
<line x1="279.2" y1="91.4" x2="492.4" y2="91.4" stroke="#ff0000" stroke-width="1" stroke-dasharray="3.8 2.4 1 2.4" stroke-dashoffset="6.3"/>
<path d="M279.2 10.7V172H492.4" fill="none" stroke="#3a3a3a" stroke-width="1.15"/>
<text font-size="9.65" text-anchor="end" fill="#111" transform="translate(276.8 21) scale(0.85 1)" stroke="#111" stroke-width="0.12">10</text>
<line x1="278" y1="17.7" x2="279" y2="17.7" stroke="#777" stroke-width="0.5" />
<text font-size="9.65" text-anchor="end" fill="#111" transform="translate(276.8 57.7) scale(0.85 1)" stroke="#111" stroke-width="0.12">5</text>
<line x1="278" y1="54.4" x2="279" y2="54.4" stroke="#777" stroke-width="0.5" />
<text font-size="9.65" text-anchor="end" fill="#111" transform="translate(276.8 94.5) scale(0.85 1)" stroke="#111" stroke-width="0.12">0</text>
<line x1="278" y1="91.2" x2="279" y2="91.2" stroke="#777" stroke-width="0.5" />
<text font-size="9.65" text-anchor="end" fill="#111" transform="translate(276.8 131.3) scale(0.85 1)" stroke="#111" stroke-width="0.12">-5</text>
<line x1="278" y1="128" x2="279" y2="128" stroke="#777" stroke-width="0.5" />
<text font-size="9.65" text-anchor="end" fill="#111" transform="translate(276.8 168) scale(0.85 1)" stroke="#111" stroke-width="0.12">-10</text>
<line x1="278" y1="164.7" x2="279" y2="164.7" stroke="#777" stroke-width="0.5" />
<text font-size="9.65" text-anchor="middle" fill="#111" transform="translate(317 180.5) scale(0.85 1)" stroke="#111" stroke-width="0.12">-2</text>
<line x1="317" y1="172.5" x2="317" y2="173.6" stroke="#777" stroke-width="0.5" />
<text font-size="9.65" text-anchor="middle" fill="#111" transform="translate(374 180.5) scale(0.85 1)" stroke="#111" stroke-width="0.12">0</text>
<line x1="374" y1="172.5" x2="374" y2="173.6" stroke="#777" stroke-width="0.5" />
<text font-size="9.65" text-anchor="middle" fill="#111" transform="translate(431 180.5) scale(0.85 1)" stroke="#111" stroke-width="0.12">2</text>
<line x1="431" y1="172.5" x2="431" y2="173.6" stroke="#777" stroke-width="0.5" />
<text font-size="9.65" text-anchor="middle" fill="#111" transform="translate(488 180.5) scale(0.85 1)" stroke="#111" stroke-width="0.12">4</text>
<line x1="488" y1="172.5" x2="488" y2="173.6" stroke="#777" stroke-width="0.5" />
<text font-size="9.33" text-anchor="middle" fill="#111" transform="translate(266 86.7) rotate(-90) scale(0.9 1)" stroke="#111" stroke-width="0.12">CP10K log<tspan font-size="58%" dy="2.3">2</tspan><tspan dy="-2.3">FC</tspan></text>
<text font-size="9.44" text-anchor="middle" fill="#111" transform="translate(384.2 190.3) scale(0.9 1)" stroke="#111" stroke-width="0.12">CosMx log<tspan font-size="58%" dy="2.3">2</tspan><tspan dy="-2.3">FC</tspan></text>
<text font-size="7.29" text-anchor="middle" fill="#2a2aff" transform="translate(302.6 34.8) scale(0.96 1)">0.8%</text>
<text font-size="7.29" text-anchor="middle" fill="#ff2a2a" transform="translate(473 34.8) scale(0.96 1)">56.7%</text>
<text font-size="7.29" text-anchor="middle" fill="#ff2a2a" transform="translate(302.6 152.4) scale(0.96 1)">5.7%</text>
<text font-size="7.29" text-anchor="middle" fill="#2a2aff" transform="translate(473 152.4) scale(0.96 1)">36.8%</text>
<circle cx="568.7" cy="69.7" r="57.4" fill="#21908c"/>
<circle cx="596.8" cy="118.5" r="57.4" fill="#fff"/>
<circle cx="568.7" cy="69.7" r="57.4" fill="none" stroke="#111" stroke-width="0.75"/>
<circle cx="625.1" cy="69.7" r="57.4" fill="none" stroke="#111" stroke-width="0.75"/>
<circle cx="596.8" cy="118.5" r="57.4" fill="none" stroke="#111" stroke-width="0.75"/>
<text font-size="9.7" text-anchor="middle" fill="#111" transform="translate(541.9 38.9) scale(0.856 1)" stroke="none">CP10K</text>
<text font-size="9.71" text-anchor="middle" fill="#111" transform="translate(542.2 57) scale(0.87 1)" stroke="none">107</text>
<text font-size="9.71" text-anchor="middle" fill="#111" transform="translate(596.2 46.8) scale(0.87 1)" stroke="none">0</text>
<text font-size="9.7" text-anchor="middle" fill="#111" transform="translate(650.8 38.9) scale(0.892 1)" stroke="none">CosMx</text>
<text font-size="9.71" text-anchor="middle" fill="#111" transform="translate(651.1 57) scale(0.87 1)" stroke="none">1</text>
<text font-size="9.71" text-anchor="middle" fill="#111" transform="translate(596.5 88.5) scale(0.87 1)" stroke="none">16</text>
<text font-size="9.71" text-anchor="middle" fill="#111" transform="translate(563 111.9) scale(0.87 1)" stroke="none">70</text>
<text font-size="9.71" text-anchor="middle" fill="#111" transform="translate(633.6 111.9) scale(0.87 1)" stroke="none">0</text>
<text font-size="9.71" text-anchor="middle" fill="#111" transform="translate(596.2 147.5) scale(0.87 1)" stroke="none">0</text>
<text font-size="9.7" text-anchor="middle" fill="#111" transform="translate(596.5 163.6) scale(0.799 1)" stroke="none">CLTS</text>
<path d="M109.8 248.5h0M181 247.8h0M113.1 265h0M113.4 289.1h0M120.4 283.6h0M121.9 292.3h0M123.4 264.6h0M124.1 286.6h0M125.1 254.4h0M125.5 265.8h0M129.6 262.4h0M130.7 248.5h0M131.1 278.2h0M130.7 297.4h0M133.3 282.3h0M133.9 285h0M134.3 298.9h0M133.6 244.2h0M135.8 242h0M135.8 248.5h0M135 257.7h0M134.7 265h0M134.7 266.1h0M136.2 287.2h0M137.2 272h0M136.9 279.2h0M137.2 247.2h0M138.4 248.5h0M138.7 243.1h0M139.4 244.2h0M138.7 255.1h0M139.4 263.6h0M139.7 281.4h0M140.9 249.7h0M141.3 243.9h0M142.3 244.6h0M141.6 251.9h0M141.6 253.4h0M140.9 260.7h0M141.3 282.6h0M140.9 270.9h0M142.3 255.5h0M143.1 276.7h0M143.8 267.5h0M143.8 251.9h0M144.5 259.2h0M145.3 268h0M145 271.2h0M145.5 251.5h0M146 247.5h0M146.4 257h0M147 262.6h0M146.7 275.5h0M146.4 241.7h0M147.9 240.9h0M148.2 281.1h0M148.9 246.1h0M149.2 276.3h0M149.6 297.2h0M150.1 244.2h0M150.4 249h0M151.4 266.8h0M152.1 240.2h0M152.3 242.8h0M151.8 277h0M152.6 266.2h0M153.3 281.1h0M154.3 239.5h0M155.2 264.3h0M155.9 254.1h0M155.9 244.2h0M155.9 289.1h0M158.1 242h0M159.1 241.2h0M158.4 249.4h0M158.1 300.4h0M160.6 265h0M161 298.2h0M161.3 245.3h0M161.6 270.6h0M162 288h0M163.1 244.6h0M165 258.9h0M166 284h0M166.7 264.3h0M138.2 248.2h0M140.1 248.2h0M142.6 253.8h0M143.8 258.5h0M140.6 244.6h0M151.1 242.4h0" stroke="#000" stroke-width="1.9" stroke-linecap="round" fill="none"/>
<line x1="123.7" y1="206" x2="123.7" y2="374" stroke="#ff2020" stroke-width="0.6" stroke-dasharray="2.6 1 0.7 1"/>
<line x1="35.6" y1="286.5" x2="189" y2="286.5" stroke="#ff1010" stroke-width="0.85" stroke-dasharray="2.6 1 0.7 1"/>
<path d="M35.6 206V374.3H190.5" fill="none" stroke="#1a1a1a" stroke-width="1"/>
<text font-size="9.65" text-anchor="end" fill="#111" transform="translate(31.3 234.1) scale(0.85 1)" stroke="#111" stroke-width="0.12">2</text>
<line x1="34" y1="233.2" x2="35.1" y2="233.2" stroke="#444" stroke-width="0.5" />
<text font-size="9.65" text-anchor="end" fill="#111" transform="translate(31.3 286.9) scale(0.85 1)" stroke="#111" stroke-width="0.12">0</text>
<line x1="34" y1="286" x2="35.1" y2="286" stroke="#444" stroke-width="0.5" />
<text font-size="9.65" text-anchor="end" fill="#111" transform="translate(31.3 339.7) scale(0.85 1)" stroke="#111" stroke-width="0.12">-2</text>
<line x1="34" y1="338.8" x2="35.1" y2="338.8" stroke="#444" stroke-width="0.5" />
<text font-size="9.65" text-anchor="middle" fill="#111" transform="translate(70.6 382.6) scale(0.85 1)" stroke="#111" stroke-width="0.12">-2</text>
<text font-size="9.65" text-anchor="middle" fill="#111" transform="translate(123.7 382.6) scale(0.85 1)" stroke="#111" stroke-width="0.12">0</text>
<text font-size="9.65" text-anchor="middle" fill="#111" transform="translate(176.8 382.6) scale(0.85 1)" stroke="#111" stroke-width="0.12">2</text>
<text font-size="9.22" text-anchor="middle" fill="#111" transform="translate(19.1 289.8) rotate(-90) scale(0.9 1)" stroke="#111" stroke-width="0.12">CLTS log<tspan font-size="58%" dy="2.3">2</tspan><tspan dy="-2.3">FC</tspan></text>
<text font-size="9.44" text-anchor="middle" fill="#111" transform="translate(111.3 391.3) scale(0.9 1)" stroke="#111" stroke-width="0.12">CosMx log<tspan font-size="58%" dy="2.3">2</tspan><tspan dy="-2.3">FC</tspan></text>
<text font-size="7.29" text-anchor="middle" fill="#2a2aff" transform="translate(96.7 221.7) scale(0.96 1)">4.7%</text>
<text font-size="7.29" text-anchor="middle" fill="#ff2a2a" transform="translate(163.9 221.7) scale(0.96 1)">83.2%</text>
<text font-size="7.29" text-anchor="middle" fill="#ff2a2a" transform="translate(97 356) scale(0.96 1)">1.9%</text>
<text font-size="7.29" text-anchor="middle" fill="#2a2aff" transform="translate(163.9 356) scale(0.96 1)">10.3%</text>
<circle cx="282.4" cy="267.2" r="57.4" fill="#f2a6b1"/>
<circle cx="310.7" cy="315.4" r="57.4" fill="#fff"/>
<circle cx="282.4" cy="267.2" r="57.4" fill="none" stroke="#111" stroke-width="0.75"/>
<circle cx="339.5" cy="267.2" r="57.4" fill="none" stroke="#111" stroke-width="0.75"/>
<circle cx="310.7" cy="315.4" r="57.4" fill="none" stroke="#111" stroke-width="0.75"/>
<text font-size="9.7" text-anchor="middle" fill="#111" transform="translate(255.7 237.3) scale(0.799 1)" stroke="none">CLTS</text>
<text font-size="9.71" text-anchor="middle" fill="#111" transform="translate(255.7 255.6) scale(0.87 1)" stroke="none">100</text>
<text font-size="9.71" text-anchor="middle" fill="#111" transform="translate(310.7 245.7) scale(0.87 1)" stroke="none">159</text>
<text font-size="9.7" text-anchor="middle" fill="#111" transform="translate(365 237.3) scale(0.892 1)" stroke="none">CosMx</text>
<text font-size="9.71" text-anchor="middle" fill="#111" transform="translate(365 255.6) scale(0.87 1)" stroke="none">68</text>
<text font-size="9.71" text-anchor="middle" fill="#111" transform="translate(310.7 287.4) scale(0.87 1)" stroke="none">287</text>
<text font-size="9.71" text-anchor="middle" fill="#111" transform="translate(277.3 310.6) scale(0.87 1)" stroke="none">65</text>
<text font-size="9.71" text-anchor="middle" fill="#111" transform="translate(347.9 310.6) scale(0.87 1)" stroke="none">0</text>
<text font-size="9.71" text-anchor="middle" fill="#111" transform="translate(310.7 345.5) scale(0.87 1)" stroke="none">0</text>
<text font-size="9.7" text-anchor="middle" fill="#111" transform="translate(310.7 363.3) scale(0.856 1)" stroke="none">CP10K</text>
<path d="M546.5 287.9h0M542.5 287.4h0M550.8 281.5h0M555.9 289.8h0M561.4 279.7h0M553.5 269.7h0M548.4 282h0M546.7 286.6h0M558.4 277.4h0M565.2 278.1h0M554.8 293.7h0M543.2 279.3h0M545.3 286.1h0M564.9 277.8h0M554.2 281.5h0M539.4 288h0M552 270.7h0M543.8 284.7h0M547.9 283h0M548.9 277h0M547.2 283.6h0M556.9 282.2h0M552.2 268.5h0M548.2 278.8h0M555.8 296.4h0M559 280.6h0M540.1 280.6h0M550.7 289.6h0M545.2 282.2h0M551.4 274.4h0M542.8 282.5h0M552.8 280.4h0M552.4 277.9h0M550.3 294.4h0M544.7 285.4h0M549.6 273h0M544.3 282.8h0M542.3 281.2h0M554.4 282.8h0M544.2 290.1h0M561.6 282.2h0M558.2 276.5h0M537.4 271.8h0M554.8 275.7h0M544.2 288.4h0M552.9 291h0M553 273.5h0M537.5 285.5h0M550.9 277.7h0M550.7 281.8h0M560 288.7h0M543.6 281.1h0M558.3 280.3h0M544.3 287.1h0M550.1 273.6h0M546.2 285.3h0M563.8 289.6h0M557 288.9h0M571.3 281.8h0M557.6 288.5h0M559.1 277.2h0M559.1 284.5h0M548 274.4h0M552.1 279h0M563 287.2h0M549.6 278.8h0M554.1 289.6h0M552.5 280h0M557.3 287.6h0M549.9 278.6h0M551.5 285.3h0M554.5 291.4h0M553.5 276.1h0M546.1 282.1h0M559.5 274.7h0M542.7 285.5h0M543.5 285h0M542.9 278.4h0M560.1 292.6h0M549.9 270.7h0M545.2 289.3h0M544 288.9h0M555.9 285h0M544.6 280.2h0M542.9 283.1h0M557.4 281.1h0M543.5 274.2h0M550.2 280.7h0M552.6 275.2h0M549.3 277.1h0M552.3 277.5h0M562.9 284.3h0M548.7 283.8h0M543 286.6h0M538.6 267.2h0M551.1 273.3h0M550 275.3h0M554.7 287.8h0M549.1 281.4h0M549 279.3h0M547.2 284.8h0M548.7 282.3h0M553.9 278.5h0M549.8 283.5h0M553.4 281.2h0M567.2 284.5h0M556.3 280.8h0M540.6 282.8h0M566 282.4h0M555.3 272.7h0M545.5 278.6h0M559.6 292.4h0M552.8 283.1h0M548 273.8h0M547.8 281.4h0M545.1 282.7h0M553 284.9h0M560.9 289.1h0M550.2 283.3h0M555.9 273h0M567 280.4h0M543.4 275.6h0M554.7 288.1h0M550.3 279.2h0M544.6 283.8h0M544.8 291.6h0M552.6 277.5h0M556 286.2h0M548.6 285.9h0M553.1 294.6h0M558.2 285.4h0M554.9 292.5h0M559.3 287.7h0M556.2 281.3h0M556.4 283.4h0M566.7 270h0M557.5 288.8h0M553.7 284.8h0M558.1 279h0M545.6 290.4h0M550.1 276.7h0M558.8 284.9h0M557.5 296.8h0M564.5 274.4h0M552.8 275.7h0M541.5 280.8h0M567.6 273.6h0M561 278h0M544.6 280.8h0M563.2 284.4h0M552.9 276h0M538.8 275.4h0M549.5 280h0M548.8 285.5h0M564.9 282.3h0M546.6 283.1h0M550.7 277.3h0M550.6 275.6h0M549.8 287.6h0M545.7 281h0M554.4 287h0M560.9 288.1h0M557.5 284.6h0M545.6 286.6h0M543.9 277.9h0M553.6 289.2h0M547.3 283.1h0M547.9 273.7h0M539.8 278.1h0M567.6 287.8h0M559.7 286.5h0M545.2 291.6h0M559.6 277.7h0M563 277h0M548.5 284h0M549.7 292.8h0M557.6 276.6h0M551.7 282.2h0M550.9 281.4h0M552.2 284.3h0M566.9 277.8h0M569.2 290.4h0M548.7 272.4h0M545.6 271h0M573.3 278.5h0M545.2 275.8h0M548.3 282.1h0M553 284.5h0M556.4 281.1h0M560.6 294.2h0M555.7 270.8h0M546 294h0M556.6 276.7h0M554.6 284.2h0M567 287.6h0M552.6 286.6h0M542.4 273.8h0M544.7 291.2h0M563.8 282.1h0M548.5 282.4h0M536.6 271.4h0M548.2 279.9h0M552.7 272.4h0M561.8 291.8h0M544.9 285.1h0M557.8 288.4h0M558.8 277.5h0M547.3 285.1h0M551.2 287.1h0M566.2 283.5h0M565.9 276.5h0M559.2 278h0M555.2 291.8h0M561.4 276.1h0M558.7 286.5h0M561 282.9h0M547.5 278.4h0M548 285.7h0M565.8 280.1h0M551.4 283.9h0M541.4 290.4h0M548 286h0M560.5 284.3h0M554 284.3h0M554.5 286.7h0M556.7 287.4h0M527 274.3h0M577.2 271.9h0M579 285h0M540.7 329.9h0M551.5 328.9h0M544.9 326h0M556.3 320h0M563.8 314h0M550.9 325.4h0M553.3 326h0M549.7 321.8h0M552.1 320.6h0M544.3 312.2h0M542.5 314h0M570.6 267.9h0M573 276.3h0M576 282.3h0" stroke="#000" stroke-width="2.0" stroke-linecap="round" fill="none"/>
<path d="M542.2 307.1h0M552.1 304.4h0M562.2 324.3h0M555.8 306.9h0M545.9 301.4h0M546.4 308.2h0M545.7 311.9h0M561.5 307.3h0M550.4 310.6h0M545.3 326.8h0M547.1 302.9h0M550.2 311.4h0M550.2 304.8h0M548.6 300h0M545.8 314h0M555.1 309.8h0M561 311.5h0M547.1 301.5h0M547.3 316.6h0M558.7 306h0M541.3 300.7h0M547 304.2h0M548.4 306.2h0M552 315.1h0M545.1 312.1h0M552.9 318.6h0M543.1 306h0M539.4 314.6h0M555.8 306h0M539.5 301.4h0M553.8 299.8h0M555.3 323h0M556.2 304.3h0M549.7 303.1h0M547.3 317.6h0M551.4 313.1h0M547 320.3h0M542.4 318.3h0M559.1 304.9h0M545 308.6h0M562.7 309.1h0M554.3 312.8h0M547.9 304.2h0M553.8 299.4h0M559 312.9h0M541.8 302.4h0M544.8 303.7h0M544 303.8h0M552 309.7h0M551.1 313.3h0M546.1 312h0M547.4 313.6h0M558.7 315.4h0M558.2 308.4h0M551.7 317.2h0M542.3 309.8h0M555 299.1h0M552.8 301.9h0M552.5 304.3h0M562.3 313.8h0M556.3 313.1h0M544.5 332.5h0M544.5 301.9h0M560 309.6h0M552.2 302.9h0M556.7 311.9h0M550.2 303h0M544.6 305.1h0M553 315.1h0M561.5 307.5h0M553.5 304.5h0M543.9 321.4h0M549.3 311.8h0M548.1 313.4h0M552.5 303.6h0M558.1 301.6h0M564.4 299.2h0M553 301.7h0M548.7 311.3h0M552 303.4h0M551.6 307.3h0M548.7 324.4h0M551.7 302.7h0M551.5 321.2h0M543.8 300.5h0M555.1 304h0M549.1 316.9h0M545 300.6h0M524.2 308.9h0M579 308.6h0M527 326.6h0M534.7 324.8h0M535.9 315.2h0M564 331.9h0M535.9 324.8h0M567.6 321.8h0M566.4 319.4h0M563.4 326.6h0M556.3 327.8h0M557.5 328.3h0M543.1 326.6h0M543.7 325.4h0M549.7 327.8h0M550.9 328.3h0" stroke="#0000ff" stroke-width="2.0" stroke-linecap="round" fill="none"/>
<line x1="534.5" y1="206" x2="534.5" y2="374" stroke="#ff2020" stroke-width="0.6" stroke-dasharray="2.6 1 0.7 1"/>
<line x1="467.1" y1="282.3" x2="603" y2="282.3" stroke="#ff2020" stroke-width="0.65" stroke-dasharray="2.6 1 0.7 1"/>
<path d="M467.1 206.2V374H603" fill="none" stroke="#1a1a1a" stroke-width="1"/>
<text font-size="9.65" text-anchor="end" fill="#111" transform="translate(463 229.5) scale(0.85 1)" stroke="#111" stroke-width="0.12">2</text>
<line x1="465.5" y1="226.2" x2="466.6" y2="226.2" stroke="#444" stroke-width="0.5" />
<text font-size="9.65" text-anchor="end" fill="#111" transform="translate(463 285.7) scale(0.85 1)" stroke="#111" stroke-width="0.12">0</text>
<line x1="465.5" y1="282.4" x2="466.6" y2="282.4" stroke="#444" stroke-width="0.5" />
<text font-size="9.65" text-anchor="end" fill="#111" transform="translate(463 341.6) scale(0.85 1)" stroke="#111" stroke-width="0.12">-2</text>
<line x1="465.5" y1="338.3" x2="466.6" y2="338.3" stroke="#444" stroke-width="0.5" />
<text font-size="9.65" text-anchor="middle" fill="#111" transform="translate(493.4 382.6) scale(0.85 1)" stroke="#111" stroke-width="0.12">-2</text>
<text font-size="9.65" text-anchor="middle" fill="#111" transform="translate(534.3 382.6) scale(0.85 1)" stroke="#111" stroke-width="0.12">0</text>
<text font-size="9.65" text-anchor="middle" fill="#111" transform="translate(575.5 382.6) scale(0.85 1)" stroke="#111" stroke-width="0.12">2</text>
<text font-size="9.33" text-anchor="middle" fill="#111" transform="translate(453.1 291) rotate(-90) scale(0.9 1)" stroke="#111" stroke-width="0.12">CP10K log<tspan font-size="58%" dy="2.3">2</tspan><tspan dy="-2.3">FC</tspan></text>
<text font-size="9.44" text-anchor="middle" fill="#111" transform="translate(534.3 391.3) scale(0.9 1)" stroke="#111" stroke-width="0.12">CosMx log<tspan font-size="58%" dy="2.3">2</tspan><tspan dy="-2.3">FC</tspan></text>
<text font-size="7.29" text-anchor="middle" fill="#2a2aff" transform="translate(514.2 215.6) scale(0.96 1)">0.4%</text>
<text font-size="7.29" text-anchor="middle" fill="#ff2a2a" transform="translate(565.7 215.6) scale(0.96 1)">34.4%</text>
<text font-size="7.29" text-anchor="middle" fill="#ff2a2a" transform="translate(514.2 354.7) scale(0.96 1)">1.2%</text>
<text font-size="7.29" text-anchor="middle" fill="#2a2aff" transform="translate(565.7 354.7) scale(0.96 1)">64.1%</text>
<circle cx="613" cy="284.6" r="3.1" fill="#0f8fda"/>
<circle cx="613" cy="297" r="3.1" fill="#1a1a1a"/>
<text font-size="9.28" text-anchor="start" fill="#111" transform="translate(620.1 287.9) scale(0.97 1)" stroke="#111" stroke-width="0.12">Down</text>
<text font-size="9.3" text-anchor="start" fill="#111" transform="translate(620.1 300.3)" stroke="#111" stroke-width="0.12" textLength="50" lengthAdjust="spacingAndGlyphs">Insignificant</text>
<text font-size="9.4" text-anchor="middle" fill="#111" transform="translate(77.1 408.1) scale(0.883 1)" stroke="#111" stroke-width="0.12">CosMx</text>
<text font-size="9.4" text-anchor="middle" fill="#111" transform="translate(172.6 408.1) scale(0.798 1)" stroke="#111" stroke-width="0.12">CLTS</text>
<text font-size="9.4" text-anchor="middle" fill="#111" transform="translate(264.5 408.1) scale(0.883 1)" stroke="#111" stroke-width="0.12">CP10K</text>
<text font-size="9.67" text-anchor="middle" fill="#111" font-style="italic" transform="translate(18.2 470) rotate(-90) scale(0.9 1)" stroke="#111" stroke-width="0.12">Plcb1</text>
<path d="M58.4 445.38 58.4 446.45 58.4 447.52 58.4 448.59 58.4 449.66 58.39 450.73 58.39 451.8 58.39 452.87 58.38 453.94 58.38 455.01 58.37 456.08 58.36 457.15 58.36 458.22 58.35 459.29 58.34 459.53 58.31 460.36 58.21 461.43 58.13 462.3 58.12 462.5 58.01 463.56 57.92 464.63 57.91 465.08 57.93 465.7 58.03 466.77 58.13 467.84 58.13 467.85 58.23 468.91 58.32 469.98 58.34 470.62 58.34 471.05 58.34 472.12 58.34 473.19 58.34 474.26 58.34 475.33 58.34 475.48 58.18 476.4 57.73 477.47 57.33 478.46 57.31 478.54 56.91 479.61 56.56 480.68 56.46 481.44 56.48 481.75 56.75 482.82 57.17 483.89 57.33 484.36 57.57 484.96 58.05 486.03 58.34 487.1 58.34 487.27 58.34 488.17 58.34 489.24 58.34 490.3 58.34 491.37 58.34 492.44 58.34 493.51 58.34 494.58 58.34 495.65 58.34 496.72 58.33 497.79 58.33 498.86 58.33 499.93 58.32 501 58.32 502.07 58.32 502.94 58.27 503.14 56.72 504.21 53.83 505.28 52.54 505.71 49.84 506.35 43.94 507.42 41.89 507.93 40.65 508.49 76.15 508.49 74.91 507.93 72.86 507.42 66.96 506.35 64.26 505.71 62.97 505.28 60.08 504.21 58.53 503.14 58.48 502.94 58.48 502.07 58.48 501 58.47 499.93 58.47 498.86 58.47 497.79 58.46 496.72 58.46 495.65 58.46 494.58 58.46 493.51 58.46 492.44 58.46 491.37 58.46 490.3 58.46 489.24 58.46 488.17 58.46 487.27 58.46 487.1 58.75 486.03 59.23 484.96 59.47 484.36 59.63 483.89 60.05 482.82 60.32 481.75 60.34 481.44 60.24 480.68 59.89 479.61 59.49 478.54 59.47 478.46 59.07 477.47 58.62 476.4 58.46 475.48 58.46 475.33 58.46 474.26 58.46 473.19 58.46 472.12 58.46 471.05 58.46 470.62 58.48 469.98 58.57 468.91 58.67 467.85 58.67 467.84 58.77 466.77 58.87 465.7 58.89 465.08 58.88 464.63 58.79 463.56 58.68 462.5 58.67 462.3 58.59 461.43 58.49 460.36 58.46 459.53 58.45 459.29 58.44 458.22 58.44 457.15 58.43 456.08 58.42 455.01 58.42 453.94 58.41 452.87 58.41 451.8 58.41 450.73 58.4 449.66 58.4 448.59 58.4 447.52 58.4 446.45 58.4 445.38Z" fill="#f9afae" stroke="#0d0d0d" stroke-width="0.55" stroke-linejoin="round"/>
<path d="M97.5 432.21 97.5 433.5 97.49 434.79 97.49 436.08 97.48 437.38 97.47 438.67 97.45 439.96 97.44 440.8 97.44 441.26 97.4 442.55 97.34 443.84 97.27 445.13 97.19 446.43 97.1 447.72 97.02 449.01 96.94 450.31 96.89 451.21 96.87 451.6 96.79 452.89 96.71 454.19 96.63 455.48 96.55 456.77 96.48 458.06 96.43 459.36 96.4 460.65 96.39 461.61 96.39 461.94 96.46 463.24 96.58 464.53 96.72 465.82 96.86 467.11 96.89 467.43 96.99 468.41 97.15 469.7 97.31 470.99 97.42 472.29 97.44 473.26 97.44 473.4 97.44 473.58 97.12 474.87 96.55 476.16 96.13 477.21 96.05 477.46 95.55 478.75 95.13 480.04 95 481.03 95.01 481.34 95.2 482.63 95.55 483.92 95.95 485.22 96.13 485.88 96.31 486.51 96.76 487.8 97.19 489.09 97.43 490.39 97.44 490.74 97.44 491.68 97.44 492.97 97.44 494.27 97.43 495.56 97.42 496.85 97.42 497.67 97.39 498.14 97.12 499.44 96.62 500.73 96.01 502.02 95.49 503.08 95.36 503.32 94.53 504.61 93.5 505.9 92.41 507.2 91.82 507.93 91.4 508.49 103.6 508.49 103.18 507.93 102.59 507.2 101.5 505.9 100.47 504.61 99.64 503.32 99.51 503.08 98.99 502.02 98.38 500.73 97.88 499.44 97.61 498.14 97.58 497.67 97.58 496.85 97.57 495.56 97.56 494.27 97.56 492.97 97.56 491.68 97.56 490.74 97.57 490.39 97.81 489.09 98.24 487.8 98.69 486.51 98.87 485.88 99.05 485.22 99.45 483.92 99.8 482.63 99.99 481.34 100 481.03 99.87 480.04 99.45 478.75 98.95 477.46 98.87 477.21 98.45 476.16 97.88 474.87 97.56 473.58 97.56 473.4 97.56 473.26 97.58 472.29 97.69 470.99 97.85 469.7 98.01 468.41 98.11 467.43 98.14 467.11 98.28 465.82 98.42 464.53 98.54 463.24 98.61 461.94 98.61 461.61 98.6 460.65 98.57 459.36 98.52 458.06 98.45 456.77 98.37 455.48 98.29 454.19 98.21 452.89 98.13 451.6 98.11 451.21 98.06 450.31 97.98 449.01 97.9 447.72 97.81 446.43 97.73 445.13 97.66 443.84 97.6 442.55 97.56 441.26 97.56 440.8 97.55 439.96 97.53 438.67 97.52 437.38 97.51 436.08 97.51 434.79 97.5 433.5 97.5 432.21Z" fill="#e9c07c" stroke="#0d0d0d" stroke-width="0.55" stroke-linejoin="round"/>
<line x1="58.4" y1="444.9" x2="58.4" y2="475.5" stroke="#fff" stroke-width="1.6" opacity="0.62"/>
<line x1="58.4" y1="487" x2="58.4" y2="502.4" stroke="#fff" stroke-width="1.6" opacity="0.62"/>
<path d="M34.6 428.3V512.3H120.8" fill="none" stroke="#2a2a2a" stroke-width="0.8"/>
<line x1="58.4" y1="512.3" x2="58.4" y2="513.7" stroke="#2a2a2a" stroke-width="0.6" />
<line x1="97.5" y1="512.3" x2="97.5" y2="513.7" stroke="#2a2a2a" stroke-width="0.6" />
<path d="M58.4 429V425.3H97.5V429" fill="none" stroke="#555" stroke-width="0.5"/>
<text font-size="8.5" text-anchor="start" fill="#222" class="sf" transform="translate(61.4 422.1)" textLength="43" lengthAdjust="spacingAndGlyphs">p = 9.60e-34</text>
<text font-size="8.82" text-anchor="end" fill="#1a1a1a" transform="translate(31.7 432.5) scale(0.85 1)" stroke="#1a1a1a" stroke-width="0.12">2.0</text>
<line x1="33.3" y1="430" x2="34.6" y2="430" stroke="#2a2a2a" stroke-width="0.6" />
<text font-size="8.82" text-anchor="end" fill="#1a1a1a" transform="translate(31.7 452.2) scale(0.85 1)" stroke="#1a1a1a" stroke-width="0.12">1.5</text>
<line x1="33.3" y1="449.7" x2="34.6" y2="449.7" stroke="#2a2a2a" stroke-width="0.6" />
<text font-size="8.82" text-anchor="end" fill="#1a1a1a" transform="translate(31.7 471.8) scale(0.85 1)" stroke="#1a1a1a" stroke-width="0.12">1.0</text>
<line x1="33.3" y1="469.3" x2="34.6" y2="469.3" stroke="#2a2a2a" stroke-width="0.6" />
<text font-size="8.82" text-anchor="end" fill="#1a1a1a" transform="translate(31.7 491.4) scale(0.85 1)" stroke="#1a1a1a" stroke-width="0.12">0.5</text>
<line x1="33.3" y1="488.9" x2="34.6" y2="488.9" stroke="#2a2a2a" stroke-width="0.6" />
<text font-size="8.82" text-anchor="end" fill="#1a1a1a" transform="translate(31.7 511.3) scale(0.85 1)" stroke="#1a1a1a" stroke-width="0.12">0.0</text>
<line x1="33.3" y1="508.8" x2="34.6" y2="508.8" stroke="#2a2a2a" stroke-width="0.6" />
<path d="M152.5 449.13 151.95 450.14 151.42 451.15 151.39 451.21 150.94 452.16 150.5 453.17 150.01 454.18 149.73 454.67 149.39 455.19 148.59 456.2 147.68 457.21 146.68 458.22 145.66 459.23 144.68 460.25 143.77 461.26 143.48 461.61 142.96 462.27 142.16 463.28 141.36 464.29 140.6 465.3 139.9 466.31 139.26 467.32 138.73 468.33 138.63 468.54 138.26 469.34 137.79 470.35 137.37 471.36 137.08 472.38 136.97 473.39 136.97 473.4 136.98 474.4 137.03 475.41 137.11 476.42 137.21 477.43 137.34 478.44 137.49 479.45 137.52 479.64 137.8 480.46 138.48 481.47 139.4 482.48 140.44 483.49 141.47 484.51 142.1 485.19 142.39 485.52 143.37 486.53 144.41 487.54 145.42 488.55 146.27 489.56 146.88 490.57 146.95 490.74 147.24 491.58 147.49 492.59 147.68 493.6 147.88 494.61 148.13 495.62 148.34 496.28 148.49 496.64 149.07 497.65 149.78 498.66 150.45 499.67 150.84 500.44 150.93 500.68 151.34 501.69 151.62 502.7 151.67 503.22 151.59 503.71 151.11 504.72 150.53 505.73 150.42 505.99 150.13 506.74 149.77 507.75 149.45 508.77 155.55 508.77 155.23 507.75 154.87 506.74 154.58 505.99 154.47 505.73 153.89 504.72 153.41 503.71 153.33 503.22 153.38 502.7 153.66 501.69 154.07 500.68 154.16 500.44 154.55 499.67 155.22 498.66 155.93 497.65 156.51 496.64 156.66 496.28 156.87 495.62 157.12 494.61 157.32 493.6 157.51 492.59 157.76 491.58 158.05 490.74 158.12 490.57 158.73 489.56 159.58 488.55 160.59 487.54 161.63 486.53 162.61 485.52 162.9 485.19 163.53 484.51 164.56 483.49 165.6 482.48 166.52 481.47 167.2 480.46 167.48 479.64 167.51 479.45 167.66 478.44 167.79 477.43 167.89 476.42 167.97 475.41 168.02 474.4 168.03 473.4 168.03 473.39 167.92 472.38 167.63 471.36 167.21 470.35 166.74 469.34 166.37 468.54 166.27 468.33 165.74 467.32 165.1 466.31 164.4 465.3 163.64 464.29 162.84 463.28 162.04 462.27 161.52 461.61 161.23 461.26 160.32 460.25 159.34 459.23 158.32 458.22 157.32 457.21 156.41 456.2 155.61 455.19 155.27 454.67 154.99 454.18 154.5 453.17 154.06 452.16 153.61 451.21 153.58 451.15 153.05 450.14 152.5 449.13Z" fill="#f9afae" stroke="#0d0d0d" stroke-width="0.55" stroke-linejoin="round"/>
<path d="M191.6 432.21 191.42 433.5 191.06 434.8 190.91 435.26 190.55 436.1 189.74 437.4 188.73 438.69 188.13 439.42 187.62 439.99 186.22 441.29 184.65 442.59 183.07 443.88 181.89 444.97 181.67 445.18 180.35 446.48 179.03 447.78 177.79 449.07 176.69 450.37 175.79 451.67 175.65 451.9 175.02 452.97 174.3 454.27 173.76 455.56 173.57 456.75 173.57 456.86 173.74 458.16 174.12 459.46 174.61 460.75 174.96 461.61 175.15 462.05 175.86 463.35 176.76 464.65 177.76 465.94 178.8 467.24 179.81 468.54 179.81 468.54 180.84 469.84 181.96 471.13 183.09 472.43 184.15 473.73 185.08 475.03 185.36 475.48 185.84 476.32 186.52 477.62 187.15 478.92 187.71 480.22 188.22 481.52 188.55 482.41 188.69 482.81 189.12 484.11 189.54 485.41 189.91 486.71 190.23 488 190.48 489.3 190.49 489.35 190.7 490.6 190.9 491.9 191.07 493.19 191.21 494.49 191.3 495.79 191.32 496.28 191.35 497.09 191.38 498.38 191.42 499.68 191.45 500.98 191.47 502.28 191.49 503.58 191.51 504.87 191.52 506.17 191.53 507.47 191.53 508.77 191.67 508.77 191.67 507.47 191.68 506.17 191.69 504.87 191.71 503.58 191.73 502.28 191.75 500.98 191.78 499.68 191.82 498.38 191.85 497.09 191.88 496.28 191.9 495.79 191.99 494.49 192.13 493.19 192.3 491.9 192.5 490.6 192.71 489.35 192.72 489.3 192.97 488 193.29 486.71 193.66 485.41 194.08 484.11 194.51 482.81 194.65 482.41 194.98 481.52 195.49 480.22 196.05 478.92 196.68 477.62 197.36 476.32 197.84 475.48 198.12 475.03 199.05 473.73 200.11 472.43 201.24 471.13 202.36 469.84 203.39 468.54 203.39 468.54 204.4 467.24 205.44 465.94 206.44 464.65 207.34 463.35 208.05 462.05 208.24 461.61 208.59 460.75 209.08 459.46 209.46 458.16 209.63 456.86 209.63 456.75 209.44 455.56 208.9 454.27 208.18 452.97 207.55 451.9 207.41 451.67 206.51 450.37 205.41 449.07 204.17 447.78 202.85 446.48 201.53 445.18 201.31 444.97 200.13 443.88 198.55 442.59 196.98 441.29 195.58 439.99 195.07 439.42 194.47 438.69 193.46 437.4 192.65 436.1 192.29 435.26 192.14 434.8 191.78 433.5 191.6 432.21Z" fill="#e9c07c" stroke="#0d0d0d" stroke-width="0.55" stroke-linejoin="round"/>
<path d="M128.7 428.3V512.3H214.6" fill="none" stroke="#2a2a2a" stroke-width="0.8"/>
<line x1="152.5" y1="512.3" x2="152.5" y2="513.7" stroke="#2a2a2a" stroke-width="0.6" />
<line x1="191.6" y1="512.3" x2="191.6" y2="513.7" stroke="#2a2a2a" stroke-width="0.6" />
<path d="M152.5 429V425.3H191.6V429" fill="none" stroke="#555" stroke-width="0.5"/>
<text font-size="8.5" text-anchor="start" fill="#222" class="sf" transform="translate(155.6 422.1)" textLength="47.6" lengthAdjust="spacingAndGlyphs">p = 1.44e-186</text>
<text font-size="8.82" text-anchor="end" fill="#1a1a1a" transform="translate(125.8 441.9) scale(0.85 1)" stroke="#1a1a1a" stroke-width="0.12">4</text>
<line x1="127.4" y1="439.4" x2="128.7" y2="439.4" stroke="#2a2a2a" stroke-width="0.6" />
<text font-size="8.82" text-anchor="end" fill="#1a1a1a" transform="translate(125.8 459.1) scale(0.85 1)" stroke="#1a1a1a" stroke-width="0.12">3</text>
<line x1="127.4" y1="456.6" x2="128.7" y2="456.6" stroke="#2a2a2a" stroke-width="0.6" />
<text font-size="8.82" text-anchor="end" fill="#1a1a1a" transform="translate(125.8 476.3) scale(0.85 1)" stroke="#1a1a1a" stroke-width="0.12">2</text>
<line x1="127.4" y1="473.8" x2="128.7" y2="473.8" stroke="#2a2a2a" stroke-width="0.6" />
<text font-size="8.82" text-anchor="end" fill="#1a1a1a" transform="translate(125.8 493.5) scale(0.85 1)" stroke="#1a1a1a" stroke-width="0.12">1</text>
<line x1="127.4" y1="491" x2="128.7" y2="491" stroke="#2a2a2a" stroke-width="0.6" />
<text font-size="8.82" text-anchor="end" fill="#1a1a1a" transform="translate(125.8 510.8) scale(0.85 1)" stroke="#1a1a1a" stroke-width="0.12">0</text>
<line x1="127.4" y1="508.3" x2="128.7" y2="508.3" stroke="#2a2a2a" stroke-width="0.6" />
<path d="M246.4 432.21 246.23 433.5 245.9 434.8 245.48 436.1 245.29 436.64 244.95 437.4 244.12 438.69 243.12 439.99 242.13 441.29 241.55 442.19 241.32 442.59 240.57 443.88 239.85 445.18 239.18 446.48 238.58 447.78 238.1 449.07 238.08 449.13 237.66 450.37 237.24 451.67 236.86 452.97 236.58 454.27 236.43 455.56 236.41 456.06 236.45 456.86 236.63 458.16 236.94 459.46 237.34 460.75 237.77 462.05 238.08 463 238.2 463.35 238.76 464.65 239.45 465.94 240.18 467.24 240.9 468.54 241.51 469.84 241.55 469.93 242.02 471.13 242.51 472.43 242.97 473.73 243.39 475.03 243.76 476.32 243.9 476.87 244.09 477.62 244.4 478.92 244.69 480.22 244.94 481.52 245.16 482.81 245.29 483.8 245.33 484.11 245.48 485.41 245.62 486.71 245.74 488 245.84 489.3 245.92 490.6 245.98 491.9 245.98 492.12 246.01 493.19 246.04 494.49 246.06 495.79 246.09 497.09 246.1 498.38 246.11 499.68 246.12 500.98 246.12 501.83 246.09 502.28 245.74 503.58 245.43 504.6 245.36 504.87 245.05 506.17 244.75 507.47 244.46 508.77 248.34 508.77 248.05 507.47 247.75 506.17 247.44 504.87 247.37 504.6 247.06 503.58 246.71 502.28 246.68 501.83 246.68 500.98 246.69 499.68 246.7 498.38 246.71 497.09 246.74 495.79 246.76 494.49 246.79 493.19 246.82 492.12 246.82 491.9 246.88 490.6 246.96 489.3 247.06 488 247.18 486.71 247.32 485.41 247.47 484.11 247.51 483.8 247.64 482.81 247.86 481.52 248.11 480.22 248.4 478.92 248.71 477.62 248.9 476.87 249.04 476.32 249.41 475.03 249.83 473.73 250.29 472.43 250.78 471.13 251.25 469.93 251.29 469.84 251.9 468.54 252.62 467.24 253.35 465.94 254.04 464.65 254.6 463.35 254.72 463 255.03 462.05 255.46 460.75 255.86 459.46 256.17 458.16 256.35 456.86 256.39 456.06 256.37 455.56 256.22 454.27 255.94 452.97 255.56 451.67 255.14 450.37 254.72 449.13 254.7 449.07 254.22 447.78 253.62 446.48 252.95 445.18 252.23 443.88 251.48 442.59 251.25 442.19 250.67 441.29 249.68 439.99 248.68 438.69 247.85 437.4 247.51 436.64 247.32 436.1 246.9 434.8 246.57 433.5 246.4 432.21Z" fill="#f9afae" stroke="#0d0d0d" stroke-width="0.55" stroke-linejoin="round"/>
<path d="M285.7 450.24 285.61 451.23 285.37 452.22 285.03 453.21 285.01 453.29 284.39 454.2 283.24 455.2 281.86 456.19 280.49 457.18 280.15 457.45 279.26 458.17 277.98 459.16 276.68 460.16 275.41 461.15 274.19 462.14 273.22 463 273.07 463.13 271.88 464.12 270.62 465.12 269.45 466.11 268.53 467.1 268.01 468.09 267.95 468.54 268.09 469.08 268.94 470.08 270.25 471.07 271.69 472.06 272.52 472.7 272.94 473.05 274.17 474.04 275.46 475.04 276.75 476.03 278.01 477.02 279.19 478.01 279.46 478.25 280.32 479 281.48 480 282.54 480.99 283.36 481.98 283.62 482.41 283.89 482.97 284.32 483.96 284.67 484.96 284.91 485.95 285.01 486.57 285.04 486.94 285.14 487.93 285.22 488.92 285.28 489.92 285.33 490.91 285.37 491.9 285.41 492.89 285.42 493.51 285.43 493.89 285.45 494.88 285.48 495.87 285.5 496.86 285.52 497.85 285.54 498.85 285.55 499.84 285.57 500.83 285.58 501.82 285.59 502.81 285.61 503.81 285.61 504.8 285.62 505.79 285.63 506.78 285.63 507.77 285.63 508.77 285.77 508.77 285.77 507.77 285.77 506.78 285.78 505.79 285.79 504.8 285.79 503.81 285.81 502.81 285.82 501.82 285.83 500.83 285.85 499.84 285.86 498.85 285.88 497.85 285.9 496.86 285.92 495.87 285.95 494.88 285.97 493.89 285.98 493.51 285.99 492.89 286.03 491.9 286.07 490.91 286.12 489.92 286.18 488.92 286.26 487.93 286.36 486.94 286.39 486.57 286.49 485.95 286.73 484.96 287.08 483.96 287.51 482.97 287.78 482.41 288.04 481.98 288.86 480.99 289.92 480 291.08 479 291.94 478.25 292.21 478.01 293.39 477.02 294.65 476.03 295.94 475.04 297.23 474.04 298.46 473.05 298.88 472.7 299.71 472.06 301.15 471.07 302.46 470.08 303.31 469.08 303.45 468.54 303.39 468.09 302.87 467.1 301.95 466.11 300.78 465.12 299.52 464.12 298.33 463.13 298.18 463 297.21 462.14 295.99 461.15 294.72 460.16 293.42 459.16 292.14 458.17 291.25 457.45 290.91 457.18 289.54 456.19 288.16 455.2 287.01 454.2 286.39 453.29 286.37 453.21 286.03 452.22 285.79 451.23 285.7 450.24Z" fill="#e9c07c" stroke="#0d0d0d" stroke-width="0.55" stroke-linejoin="round"/>
<path d="M222.5 428.3V512.3H308.5" fill="none" stroke="#2a2a2a" stroke-width="0.8"/>
<line x1="246.4" y1="512.3" x2="246.4" y2="513.7" stroke="#2a2a2a" stroke-width="0.6" />
<line x1="285.7" y1="512.3" x2="285.7" y2="513.7" stroke="#2a2a2a" stroke-width="0.6" />
<path d="M246.4 429V425.3H285.7V429" fill="none" stroke="#555" stroke-width="0.5"/>
<text font-size="8.5" text-anchor="start" fill="#222" class="sf" transform="translate(246.4 422.1)" textLength="42.4" lengthAdjust="spacingAndGlyphs">p = 1.08e-42</text>
<text font-size="8.82" text-anchor="end" fill="#1a1a1a" transform="translate(219.6 441.3) scale(0.85 1)" stroke="#1a1a1a" stroke-width="0.12">4</text>
<line x1="221.2" y1="438.8" x2="222.5" y2="438.8" stroke="#2a2a2a" stroke-width="0.6" />
<text font-size="8.82" text-anchor="end" fill="#1a1a1a" transform="translate(219.6 458.8) scale(0.85 1)" stroke="#1a1a1a" stroke-width="0.12">3</text>
<line x1="221.2" y1="456.3" x2="222.5" y2="456.3" stroke="#2a2a2a" stroke-width="0.6" />
<text font-size="8.82" text-anchor="end" fill="#1a1a1a" transform="translate(219.6 476.3) scale(0.85 1)" stroke="#1a1a1a" stroke-width="0.12">2</text>
<line x1="221.2" y1="473.8" x2="222.5" y2="473.8" stroke="#2a2a2a" stroke-width="0.6" />
<text font-size="8.82" text-anchor="end" fill="#1a1a1a" transform="translate(219.6 493.3) scale(0.85 1)" stroke="#1a1a1a" stroke-width="0.12">1</text>
<line x1="221.2" y1="490.8" x2="222.5" y2="490.8" stroke="#2a2a2a" stroke-width="0.6" />
<text font-size="8.82" text-anchor="end" fill="#1a1a1a" transform="translate(219.6 511.4) scale(0.85 1)" stroke="#1a1a1a" stroke-width="0.12">0</text>
<line x1="221.2" y1="508.9" x2="222.5" y2="508.9" stroke="#2a2a2a" stroke-width="0.6" />
<text font-size="9.67" text-anchor="middle" fill="#111" font-style="italic" transform="translate(18.2 588.5) rotate(-90) scale(0.9 1)" stroke="#111" stroke-width="0.12">Tnik</text>
<path d="M58.4 558.3 58.4 559.42 58.4 560.53 58.4 561.65 58.4 562.77 58.4 563.88 58.39 565 58.39 566.12 58.39 567.23 58.39 568.35 58.38 569.47 58.38 570.58 58.37 571.7 58.37 572.82 58.36 573.93 58.36 575.05 58.35 576.17 58.34 576.61 58.32 577.28 58.22 578.4 58.09 579.52 58.02 580.21 57.98 580.63 57.85 581.75 57.74 582.87 57.71 583.82 57.71 583.98 57.78 585.1 57.91 586.22 58.02 587.15 58.04 587.33 58.18 588.45 58.3 589.57 58.34 590.48 58.34 590.68 58.34 591.8 58.34 592.92 58.34 593.25 58.03 594.03 56.94 595.15 56.11 596.03 55.93 596.27 54.95 597.38 54.28 598.5 54.24 598.8 54.51 599.62 55.4 600.73 56.11 601.57 56.34 601.85 57.49 602.97 58.3 604.08 58.34 604.35 58.34 605.2 58.34 606.32 58.34 607.43 58.34 608.55 58.34 609.67 58.34 610.78 58.34 611.9 58.34 613.02 58.33 614.13 58.33 615.25 58.32 616.37 58.32 617.48 58.32 617.94 57.94 618.6 55.96 619.72 53.14 620.83 52.54 621.06 49.16 621.95 43.89 623.07 41.89 623.63 40.65 624.18 76.15 624.18 74.91 623.63 72.91 623.07 67.64 621.95 64.26 621.06 63.66 620.83 60.84 619.72 58.86 618.6 58.48 617.94 58.48 617.48 58.48 616.37 58.47 615.25 58.47 614.13 58.46 613.02 58.46 611.9 58.46 610.78 58.46 609.67 58.46 608.55 58.46 607.43 58.46 606.32 58.46 605.2 58.46 604.35 58.5 604.08 59.31 602.97 60.46 601.85 60.69 601.57 61.4 600.73 62.29 599.62 62.56 598.8 62.52 598.5 61.85 597.38 60.87 596.27 60.69 596.03 59.86 595.15 58.77 594.03 58.46 593.25 58.46 592.92 58.46 591.8 58.46 590.68 58.46 590.48 58.5 589.57 58.62 588.45 58.76 587.33 58.78 587.15 58.89 586.22 59.02 585.1 59.09 583.98 59.09 583.82 59.06 582.87 58.95 581.75 58.82 580.63 58.78 580.21 58.71 579.52 58.58 578.4 58.48 577.28 58.46 576.61 58.45 576.17 58.44 575.05 58.44 573.93 58.43 572.82 58.43 571.7 58.42 570.58 58.42 569.47 58.41 568.35 58.41 567.23 58.41 566.12 58.41 565 58.4 563.88 58.4 562.77 58.4 561.65 58.4 560.53 58.4 559.42 58.4 558.3Z" fill="#f9afae" stroke="#0d0d0d" stroke-width="0.55" stroke-linejoin="round"/>
<path d="M97.5 547.48 97.5 548.78 97.5 550.08 97.49 551.38 97.48 552.68 97.47 553.98 97.46 555.28 97.45 556.58 97.44 557.19 97.43 557.88 97.39 559.18 97.33 560.48 97.25 561.78 97.15 563.08 97.05 564.38 96.94 565.68 96.83 566.98 96.73 568.28 96.64 569.58 96.58 570.37 96.55 570.88 96.46 572.18 96.37 573.48 96.27 574.78 96.17 576.08 96.08 577.38 96 578.68 95.93 579.98 95.87 581.28 95.84 582.58 95.84 583.54 95.86 583.88 96.21 585.18 96.58 586.25 96.66 586.48 97.19 587.78 97.44 588.95 97.44 589.08 97.44 589.09 97.17 590.38 96.51 591.68 95.76 592.98 95.36 593.81 95.16 594.28 94.53 595.58 93.95 596.88 93.63 598.18 93.62 598.52 93.74 599.48 94.22 600.78 94.86 602.08 95.36 603.17 95.46 603.38 96.16 604.68 96.91 605.98 97.39 607.28 97.44 607.82 97.44 608.58 97.44 609.88 97.43 611.18 97.42 612.48 97.42 613.36 97.39 613.78 97.04 615.08 96.38 616.38 95.57 617.68 94.85 618.77 94.7 618.98 93.6 620.28 92.23 621.58 90.8 622.88 90.02 623.63 89.46 624.18 105.54 624.18 104.98 623.63 104.2 622.88 102.77 621.58 101.4 620.28 100.3 618.98 100.15 618.77 99.43 617.68 98.62 616.38 97.96 615.08 97.61 613.78 97.58 613.36 97.58 612.48 97.57 611.18 97.56 609.88 97.56 608.58 97.56 607.82 97.61 607.28 98.09 605.98 98.84 604.68 99.54 603.38 99.64 603.17 100.14 602.08 100.78 600.78 101.26 599.48 101.38 598.52 101.37 598.18 101.05 596.88 100.47 595.58 99.84 594.28 99.64 593.81 99.24 592.98 98.49 591.68 97.83 590.38 97.56 589.09 97.56 589.08 97.56 588.95 97.81 587.78 98.34 586.48 98.42 586.25 98.79 585.18 99.14 583.88 99.16 583.54 99.16 582.58 99.13 581.28 99.07 579.98 99 578.68 98.92 577.38 98.83 576.08 98.73 574.78 98.63 573.48 98.54 572.18 98.45 570.88 98.42 570.37 98.36 569.58 98.27 568.28 98.17 566.98 98.06 565.68 97.95 564.38 97.85 563.08 97.75 561.78 97.67 560.48 97.61 559.18 97.57 557.88 97.56 557.19 97.55 556.58 97.54 555.28 97.53 553.98 97.52 552.68 97.51 551.38 97.5 550.08 97.5 548.78 97.5 547.48Z" fill="#e9c07c" stroke="#0d0d0d" stroke-width="0.55" stroke-linejoin="round"/>
<line x1="58.4" y1="557.8" x2="58.4" y2="593.2" stroke="#fff" stroke-width="1.6" opacity="0.62"/>
<line x1="58.4" y1="604.1" x2="58.4" y2="617.4" stroke="#fff" stroke-width="1.6" opacity="0.62"/>
<path d="M34.6 544.2V628.2H120.8" fill="none" stroke="#2a2a2a" stroke-width="0.8"/>
<line x1="58.4" y1="628.2" x2="58.4" y2="629.6" stroke="#2a2a2a" stroke-width="0.6" />
<line x1="97.5" y1="628.2" x2="97.5" y2="629.6" stroke="#2a2a2a" stroke-width="0.6" />
<path d="M58.4 544.8V541.3H97.5V544.8" fill="none" stroke="#555" stroke-width="0.5"/>
<text font-size="8.5" text-anchor="start" fill="#222" class="sf" transform="translate(60.3 537.9)" textLength="43" lengthAdjust="spacingAndGlyphs">p = 1.10e-22</text>
<text font-size="8.82" text-anchor="end" fill="#1a1a1a" transform="translate(31.7 552.9) scale(0.85 1)" stroke="#1a1a1a" stroke-width="0.12">2.0</text>
<line x1="33.3" y1="550.4" x2="34.6" y2="550.4" stroke="#2a2a2a" stroke-width="0.6" />
<text font-size="8.82" text-anchor="end" fill="#1a1a1a" transform="translate(31.7 571.8) scale(0.85 1)" stroke="#1a1a1a" stroke-width="0.12">1.5</text>
<line x1="33.3" y1="569.3" x2="34.6" y2="569.3" stroke="#2a2a2a" stroke-width="0.6" />
<text font-size="8.82" text-anchor="end" fill="#1a1a1a" transform="translate(31.7 589.8) scale(0.85 1)" stroke="#1a1a1a" stroke-width="0.12">1.0</text>
<line x1="33.3" y1="587.3" x2="34.6" y2="587.3" stroke="#2a2a2a" stroke-width="0.6" />
<text font-size="8.82" text-anchor="end" fill="#1a1a1a" transform="translate(31.7 608.5) scale(0.85 1)" stroke="#1a1a1a" stroke-width="0.12">0.5</text>
<line x1="33.3" y1="606" x2="34.6" y2="606" stroke="#2a2a2a" stroke-width="0.6" />
<text font-size="8.82" text-anchor="end" fill="#1a1a1a" transform="translate(31.7 627.2) scale(0.85 1)" stroke="#1a1a1a" stroke-width="0.12">0.0</text>
<line x1="33.3" y1="624.7" x2="34.6" y2="624.7" stroke="#2a2a2a" stroke-width="0.6" />
<path d="M152.5 556.91 152.16 558.05 151.75 559.19 151.26 560.33 151.11 560.66 150.7 561.47 150.04 562.61 149.28 563.75 148.47 564.89 147.61 566.04 146.95 566.9 146.74 567.18 145.76 568.32 144.69 569.46 143.58 570.6 142.49 571.74 141.47 572.88 140.71 573.83 140.58 574.02 139.67 575.16 138.76 576.3 137.96 577.44 137.41 578.58 137.24 579.38 137.22 579.72 137.14 580.86 137.08 582 137.03 583.14 136.99 584.28 136.97 585.42 136.97 586.32 136.97 586.56 137.06 587.7 137.27 588.84 137.55 589.98 137.9 591.12 138.29 592.26 138.63 593.25 138.68 593.4 139.19 594.54 139.85 595.68 140.6 596.82 141.39 597.96 142.14 599.1 142.79 600.19 142.82 600.24 143.47 601.38 144.14 602.52 144.76 603.66 145.27 604.8 145.57 605.74 145.61 605.94 145.8 607.08 145.94 608.22 146.13 609.36 146.26 609.9 146.53 610.5 147.45 611.64 148.6 612.78 149.63 613.92 149.73 614.06 150.5 615.06 151.25 616.2 151.39 616.83 151.33 617.34 150.92 618.48 150.42 619.6 150.41 619.62 149.99 620.76 149.54 621.9 149.09 623.04 148.62 624.18 156.38 624.18 155.91 623.04 155.46 621.9 155.01 620.76 154.59 619.62 154.58 619.6 154.08 618.48 153.67 617.34 153.61 616.83 153.75 616.2 154.5 615.06 155.27 614.06 155.37 613.92 156.4 612.78 157.55 611.64 158.47 610.5 158.74 609.9 158.87 609.36 159.06 608.22 159.2 607.08 159.39 605.94 159.43 605.74 159.73 604.8 160.24 603.66 160.86 602.52 161.53 601.38 162.18 600.24 162.21 600.19 162.86 599.1 163.61 597.96 164.4 596.82 165.15 595.68 165.81 594.54 166.32 593.4 166.37 593.25 166.71 592.26 167.1 591.12 167.45 589.98 167.73 588.84 167.94 587.7 168.03 586.56 168.03 586.32 168.03 585.42 168.01 584.28 167.97 583.14 167.92 582 167.86 580.86 167.78 579.72 167.76 579.38 167.59 578.58 167.04 577.44 166.24 576.3 165.33 575.16 164.42 574.02 164.29 573.83 163.53 572.88 162.51 571.74 161.42 570.6 160.31 569.46 159.24 568.32 158.26 567.18 158.05 566.9 157.39 566.04 156.53 564.89 155.72 563.75 154.96 562.61 154.3 561.47 153.89 560.66 153.74 560.33 153.25 559.19 152.84 558.05 152.5 556.91Z" fill="#f9afae" stroke="#0d0d0d" stroke-width="0.55" stroke-linejoin="round"/>
<path d="M191.6 547.48 191.54 548.78 191.38 550.08 191.15 551.38 190.85 552.68 190.77 553.03 190.4 553.98 189.6 555.28 188.61 556.58 188.13 557.19 187.56 557.88 186.31 559.18 184.93 560.48 183.54 561.78 182.58 562.74 182.26 563.08 181 564.38 179.74 565.68 178.52 566.98 177.4 568.28 176.41 569.58 176.34 569.67 175.44 570.88 174.48 572.18 173.78 573.48 173.57 574.53 173.58 574.78 173.79 576.08 174.22 577.38 174.77 578.68 175.34 579.98 175.65 580.77 175.83 581.28 176.29 582.58 176.76 583.88 177.26 585.18 177.82 586.48 178.42 587.7 178.47 587.78 179.31 589.08 180.33 590.38 181.41 591.68 182.4 592.98 182.58 593.25 183.36 594.28 184.31 595.58 184.67 596.72 184.65 596.88 183.91 598.18 183.56 599.08 183.63 599.48 184.6 600.78 185.36 601.57 185.94 602.08 187.85 603.38 188.55 604.35 188.46 604.68 187.15 605.98 186.33 607.12 186.33 607.28 186.61 608.58 187.16 609.88 187.16 609.9 188.47 611.18 190.06 612.48 190.21 612.67 191 613.78 191.32 614.75 191.32 615.08 191.32 616.38 191.32 617.68 191.32 618.22 191.23 618.98 190.77 620.28 190.49 620.99 190.25 621.58 189.6 622.88 188.83 624.18 194.37 624.18 193.6 622.88 192.95 621.58 192.71 620.99 192.43 620.28 191.97 618.98 191.88 618.22 191.88 617.68 191.88 616.38 191.88 615.08 191.88 614.75 192.2 613.78 192.99 612.67 193.14 612.48 194.73 611.18 196.04 609.9 196.04 609.88 196.59 608.58 196.87 607.28 196.87 607.12 196.05 605.98 194.74 604.68 194.65 604.35 195.35 603.38 197.26 602.08 197.84 601.57 198.6 600.78 199.57 599.48 199.64 599.08 199.29 598.18 198.55 596.88 198.53 596.72 198.89 595.58 199.84 594.28 200.62 593.25 200.8 592.98 201.79 591.68 202.87 590.38 203.89 589.08 204.73 587.78 204.78 587.7 205.38 586.48 205.94 585.18 206.44 583.88 206.91 582.58 207.37 581.28 207.55 580.77 207.86 579.98 208.43 578.68 208.98 577.38 209.41 576.08 209.62 574.78 209.63 574.53 209.42 573.48 208.72 572.18 207.76 570.88 206.86 569.67 206.79 569.58 205.8 568.28 204.68 566.98 203.46 565.68 202.2 564.38 200.94 563.08 200.62 562.74 199.66 561.78 198.27 560.48 196.89 559.18 195.64 557.88 195.07 557.19 194.59 556.58 193.6 555.28 192.8 553.98 192.43 553.03 192.35 552.68 192.05 551.38 191.82 550.08 191.66 548.78 191.6 547.48Z" fill="#e9c07c" stroke="#0d0d0d" stroke-width="0.55" stroke-linejoin="round"/>
<path d="M128.7 544.2V628.2H214.6" fill="none" stroke="#2a2a2a" stroke-width="0.8"/>
<line x1="152.5" y1="628.2" x2="152.5" y2="629.6" stroke="#2a2a2a" stroke-width="0.6" />
<line x1="191.6" y1="628.2" x2="191.6" y2="629.6" stroke="#2a2a2a" stroke-width="0.6" />
<path d="M152.5 544.8V541.3H191.6V544.8" fill="none" stroke="#555" stroke-width="0.5"/>
<text font-size="8.5" text-anchor="start" fill="#222" class="sf" transform="translate(154.5 537.9)" textLength="43.7" lengthAdjust="spacingAndGlyphs">p = 1.35e-37</text>
<text font-size="8.82" text-anchor="end" fill="#1a1a1a" transform="translate(125.8 557.5) scale(0.85 1)" stroke="#1a1a1a" stroke-width="0.12">3</text>
<line x1="127.4" y1="555" x2="128.7" y2="555" stroke="#2a2a2a" stroke-width="0.6" />
<text font-size="8.82" text-anchor="end" fill="#1a1a1a" transform="translate(125.8 580.9) scale(0.85 1)" stroke="#1a1a1a" stroke-width="0.12">2</text>
<line x1="127.4" y1="578.4" x2="128.7" y2="578.4" stroke="#2a2a2a" stroke-width="0.6" />
<text font-size="8.82" text-anchor="end" fill="#1a1a1a" transform="translate(125.8 603.4) scale(0.85 1)" stroke="#1a1a1a" stroke-width="0.12">1</text>
<line x1="127.4" y1="600.9" x2="128.7" y2="600.9" stroke="#2a2a2a" stroke-width="0.6" />
<text font-size="8.82" text-anchor="end" fill="#1a1a1a" transform="translate(125.8 626.7) scale(0.85 1)" stroke="#1a1a1a" stroke-width="0.12">0</text>
<line x1="127.4" y1="624.2" x2="128.7" y2="624.2" stroke="#2a2a2a" stroke-width="0.6" />
<path d="M246.4 547.76 246.15 549.06 245.77 550.35 245.29 551.64 245.29 551.65 244.61 552.94 243.7 554.24 242.71 555.53 241.77 556.83 241.55 557.19 240.96 558.12 240.11 559.42 239.29 560.71 238.57 562.01 238.02 563.3 237.8 564.13 237.71 564.6 237.5 565.89 237.32 567.19 237.18 568.48 237.06 569.78 236.97 571.06 236.97 571.08 236.88 572.37 236.79 573.67 236.73 574.96 236.69 576.26 236.69 576.61 236.84 577.55 237.42 578.85 238.24 580.14 239.07 581.44 239.47 582.16 239.75 582.73 240.4 584.03 241.05 585.32 241.7 586.62 242.31 587.91 242.87 589.21 243.35 590.48 243.36 590.5 243.81 591.8 244.24 593.09 244.63 594.39 244.97 595.69 245.23 596.98 245.29 597.41 245.41 598.28 245.57 599.57 245.73 600.87 245.86 602.16 245.97 603.46 246.06 604.75 246.11 606.05 246.12 607.12 246.12 607.34 246.12 608.64 246.12 609.93 246.12 611.23 246.12 612.52 246.12 613.82 246.12 615.11 246.12 616.14 246.11 616.41 245.87 617.71 245.47 619 245.29 619.6 245.1 620.3 244.73 621.59 244.33 622.89 243.9 624.18 248.9 624.18 248.47 622.89 248.07 621.59 247.7 620.3 247.51 619.6 247.33 619 246.93 617.71 246.69 616.41 246.68 616.14 246.68 615.11 246.68 613.82 246.68 612.52 246.68 611.23 246.68 609.93 246.68 608.64 246.68 607.34 246.68 607.12 246.69 606.05 246.74 604.75 246.83 603.46 246.94 602.16 247.07 600.87 247.23 599.57 247.39 598.28 247.51 597.41 247.57 596.98 247.83 595.69 248.17 594.39 248.56 593.09 248.99 591.8 249.44 590.5 249.45 590.48 249.93 589.21 250.49 587.91 251.1 586.62 251.75 585.32 252.4 584.03 253.05 582.73 253.33 582.16 253.73 581.44 254.56 580.14 255.38 578.85 255.96 577.55 256.11 576.61 256.11 576.26 256.07 574.96 256.01 573.67 255.92 572.37 255.83 571.08 255.83 571.06 255.74 569.78 255.62 568.48 255.48 567.19 255.3 565.89 255.09 564.6 255 564.13 254.78 563.3 254.23 562.01 253.51 560.71 252.69 559.42 251.84 558.12 251.25 557.19 251.03 556.83 250.09 555.53 249.1 554.24 248.19 552.94 247.51 551.65 247.51 551.64 247.03 550.35 246.65 549.06 246.4 547.76Z" fill="#f9afae" stroke="#0d0d0d" stroke-width="0.55" stroke-linejoin="round"/>
<path d="M285.7 573.14 285.67 574.01 285.59 574.87 285.47 575.74 285.31 576.6 285.13 577.47 285.01 578 284.91 578.33 284.51 579.2 283.95 580.06 283.28 580.93 282.55 581.79 282.23 582.16 281.77 582.66 280.85 583.52 279.79 584.39 278.65 585.25 277.46 586.12 276.26 586.98 275.3 587.7 275.1 587.85 273.75 588.71 272.2 589.58 270.64 590.44 269.24 591.31 268.2 592.17 267.69 593.04 267.67 593.25 267.85 593.9 268.54 594.77 269.55 595.63 270.7 596.5 271.78 597.36 271.83 597.41 272.79 598.23 273.91 599.09 275.08 599.96 276.24 600.82 277.35 601.69 278.35 602.55 278.77 602.96 279.21 603.42 280.04 604.28 280.83 605.15 281.57 606.01 282.23 606.88 282.8 607.75 283.2 608.51 283.25 608.61 283.64 609.48 283.99 610.34 284.31 611.21 284.59 612.07 284.81 612.94 284.97 613.8 285.01 614.06 285.08 614.67 285.18 615.53 285.26 616.4 285.33 617.26 285.38 618.13 285.42 618.99 285.42 619.6 285.4 619.86 285.09 620.72 284.64 621.59 284.59 621.69 284.21 622.45 283.73 623.32 283.2 624.18 288.2 624.18 287.67 623.32 287.19 622.45 286.81 621.69 286.76 621.59 286.31 620.72 286 619.86 285.98 619.6 285.98 618.99 286.02 618.13 286.07 617.26 286.14 616.4 286.22 615.53 286.32 614.67 286.39 614.06 286.43 613.8 286.59 612.94 286.81 612.07 287.09 611.21 287.41 610.34 287.76 609.48 288.15 608.61 288.2 608.51 288.6 607.75 289.17 606.88 289.83 606.01 290.57 605.15 291.36 604.28 292.19 603.42 292.63 602.96 293.05 602.55 294.05 601.69 295.16 600.82 296.32 599.96 297.49 599.09 298.61 598.23 299.57 597.41 299.62 597.36 300.7 596.5 301.85 595.63 302.86 594.77 303.55 593.9 303.73 593.25 303.71 593.04 303.2 592.17 302.16 591.31 300.76 590.44 299.2 589.58 297.65 588.71 296.3 587.85 296.1 587.7 295.14 586.98 293.94 586.12 292.75 585.25 291.61 584.39 290.55 583.52 289.63 582.66 289.17 582.16 288.85 581.79 288.12 580.93 287.45 580.06 286.89 579.2 286.49 578.33 286.39 578 286.27 577.47 286.09 576.6 285.93 575.74 285.81 574.87 285.73 574.01 285.7 573.14Z" fill="#e9c07c" stroke="#0d0d0d" stroke-width="0.55" stroke-linejoin="round"/>
<path d="M222.5 544.2V628.2H308.5" fill="none" stroke="#2a2a2a" stroke-width="0.8"/>
<line x1="246.4" y1="628.2" x2="246.4" y2="629.6" stroke="#2a2a2a" stroke-width="0.6" />
<line x1="285.7" y1="628.2" x2="285.7" y2="629.6" stroke="#2a2a2a" stroke-width="0.6" />
<path d="M246.4 544.8V541.3H285.7V544.8" fill="none" stroke="#555" stroke-width="0.5"/>
<text font-size="8.5" text-anchor="start" fill="#222" class="sf" transform="translate(247.9 537.9)" textLength="43.8" lengthAdjust="spacingAndGlyphs">p = 2.03e-88</text>
<text font-size="8.82" text-anchor="end" fill="#1a1a1a" transform="translate(219.6 564.3) scale(0.85 1)" stroke="#1a1a1a" stroke-width="0.12">3</text>
<line x1="221.2" y1="561.8" x2="222.5" y2="561.8" stroke="#2a2a2a" stroke-width="0.6" />
<text font-size="8.82" text-anchor="end" fill="#1a1a1a" transform="translate(219.6 584.7) scale(0.85 1)" stroke="#1a1a1a" stroke-width="0.12">2</text>
<line x1="221.2" y1="582.2" x2="222.5" y2="582.2" stroke="#2a2a2a" stroke-width="0.6" />
<text font-size="8.82" text-anchor="end" fill="#1a1a1a" transform="translate(219.6 605.7) scale(0.85 1)" stroke="#1a1a1a" stroke-width="0.12">1</text>
<line x1="221.2" y1="603.2" x2="222.5" y2="603.2" stroke="#2a2a2a" stroke-width="0.6" />
<text font-size="8.82" text-anchor="end" fill="#1a1a1a" transform="translate(219.6 626.7) scale(0.85 1)" stroke="#1a1a1a" stroke-width="0.12">0</text>
<line x1="221.2" y1="624.2" x2="222.5" y2="624.2" stroke="#2a2a2a" stroke-width="0.6" />
<text font-size="9.67" text-anchor="middle" fill="#111" font-style="italic" transform="translate(18.2 698.5) rotate(-90) scale(0.9 1)" stroke="#111" stroke-width="0.12">Rora</text>
<path d="M58.4 668.3 58.4 669.41 58.4 670.52 58.39 671.63 58.38 672.74 58.37 673.85 58.36 674.96 58.35 676.07 58.34 676.21 58.3 677.18 58.19 678.29 58.13 678.98 58.1 679.4 57.98 680.51 57.92 681.62 57.91 681.75 57.95 682.73 58.04 683.83 58.13 684.88 58.14 684.94 58.23 686.05 58.32 687.16 58.34 688 58.34 688.27 58.34 689.38 58.34 690.49 58.34 691.6 58.34 692.71 58.34 693.82 58.34 694.93 58.34 696.04 58.34 696.32 58.08 697.15 57.32 698.26 57.03 698.74 56.67 699.37 56.06 700.48 55.9 701.17 55.96 701.59 56.5 702.7 57.03 703.6 57.14 703.81 57.91 704.92 58.34 706.03 58.34 707.14 58.34 708.25 58.34 709.36 58.34 710.46 58.34 711.57 58.34 712.68 58.34 713.79 58.34 714.9 58.34 716.01 58.34 717.12 58.34 718.23 58.34 719.34 58.34 720.45 58.33 721.56 58.33 722.67 58.33 723.78 58.33 724.89 58.32 726 58.32 727.11 58.32 727.94 58.24 728.22 56.6 729.33 53.72 730.44 52.54 730.85 49.76 731.55 44.01 732.66 41.89 733.21 40.65 733.77 76.15 733.77 74.91 733.21 72.79 732.66 67.04 731.55 64.26 730.85 63.08 730.44 60.2 729.33 58.56 728.22 58.48 727.94 58.48 727.11 58.48 726 58.47 724.89 58.47 723.78 58.47 722.67 58.47 721.56 58.46 720.45 58.46 719.34 58.46 718.23 58.46 717.12 58.46 716.01 58.46 714.9 58.46 713.79 58.46 712.68 58.46 711.57 58.46 710.46 58.46 709.36 58.46 708.25 58.46 707.14 58.46 706.03 58.89 704.92 59.66 703.81 59.77 703.6 60.3 702.7 60.84 701.59 60.9 701.17 60.74 700.48 60.13 699.37 59.77 698.74 59.48 698.26 58.72 697.15 58.46 696.32 58.46 696.04 58.46 694.93 58.46 693.82 58.46 692.71 58.46 691.6 58.46 690.49 58.46 689.38 58.46 688.27 58.46 688 58.48 687.16 58.57 686.05 58.66 684.94 58.67 684.88 58.76 683.83 58.85 682.73 58.89 681.75 58.88 681.62 58.82 680.51 58.7 679.4 58.67 678.98 58.61 678.29 58.5 677.18 58.46 676.21 58.45 676.07 58.44 674.96 58.43 673.85 58.42 672.74 58.41 671.63 58.4 670.52 58.4 669.41 58.4 668.3Z" fill="#f9afae" stroke="#0d0d0d" stroke-width="0.55" stroke-linejoin="round"/>
<path d="M97.5 657.21 97.5 658.5 97.49 659.8 97.49 661.1 97.48 662.4 97.47 663.69 97.45 664.99 97.44 665.8 97.44 666.29 97.39 667.59 97.3 668.88 97.21 670.18 97.1 671.48 97.01 672.78 96.97 673.43 96.93 674.07 96.83 675.37 96.73 676.67 96.64 677.97 96.57 679.27 96.53 680.56 96.53 681.06 96.55 681.86 96.64 683.16 96.78 684.46 96.92 685.75 96.97 686.26 97.05 687.05 97.2 688.35 97.35 689.65 97.44 690.94 97.44 691.46 97.44 692.16 97.44 692.24 97.11 693.54 96.42 694.84 95.74 696.13 95.67 696.32 95.17 697.43 94.58 698.73 94.2 700.03 94.17 700.48 94.25 701.32 94.61 702.62 95.12 703.92 95.63 705.22 95.67 705.33 96.16 706.52 96.78 707.81 97.28 709.11 97.44 710.19 97.44 710.41 97.44 711.71 97.44 713 97.44 714.3 97.44 715.6 97.44 716.9 97.44 718.19 97.43 719.49 97.43 720.79 97.42 722.09 97.42 723.36 97.42 723.38 97.14 724.68 96.45 725.98 95.52 727.28 94.52 728.56 94.52 728.58 93.27 729.87 91.68 731.17 90.01 732.47 89.12 733.21 88.48 733.77 106.52 733.77 105.88 733.21 104.99 732.47 103.32 731.17 101.73 729.87 100.48 728.58 100.48 728.56 99.48 727.28 98.55 725.98 97.86 724.68 97.58 723.38 97.58 723.36 97.58 722.09 97.57 720.79 97.57 719.49 97.56 718.19 97.56 716.9 97.56 715.6 97.56 714.3 97.56 713 97.56 711.71 97.56 710.41 97.56 710.19 97.72 709.11 98.22 707.81 98.84 706.52 99.33 705.33 99.37 705.22 99.88 703.92 100.39 702.62 100.75 701.32 100.83 700.48 100.8 700.03 100.42 698.73 99.83 697.43 99.33 696.32 99.26 696.13 98.58 694.84 97.89 693.54 97.56 692.24 97.56 692.16 97.56 691.46 97.56 690.94 97.65 689.65 97.8 688.35 97.95 687.05 98.03 686.26 98.08 685.75 98.22 684.46 98.36 683.16 98.45 681.86 98.47 681.06 98.47 680.56 98.43 679.27 98.36 677.97 98.27 676.67 98.17 675.37 98.07 674.07 98.03 673.43 97.99 672.78 97.9 671.48 97.79 670.18 97.7 668.88 97.61 667.59 97.56 666.29 97.56 665.8 97.55 664.99 97.53 663.69 97.52 662.4 97.51 661.1 97.51 659.8 97.5 658.5 97.5 657.21Z" fill="#e9c07c" stroke="#0d0d0d" stroke-width="0.55" stroke-linejoin="round"/>
<line x1="58.4" y1="667.8" x2="58.4" y2="696.3" stroke="#fff" stroke-width="1.6" opacity="0.62"/>
<line x1="58.4" y1="705.8" x2="58.4" y2="727.4" stroke="#fff" stroke-width="1.6" opacity="0.62"/>
<path d="M34.6 654V738H120.8" fill="none" stroke="#2a2a2a" stroke-width="0.8"/>
<line x1="58.4" y1="738" x2="58.4" y2="739.4" stroke="#2a2a2a" stroke-width="0.6" />
<line x1="97.5" y1="738" x2="97.5" y2="739.4" stroke="#2a2a2a" stroke-width="0.6" />
<path d="M58.4 654.8V651.2H97.5V654.8" fill="none" stroke="#555" stroke-width="0.5"/>
<text font-size="8.5" text-anchor="start" fill="#222" class="sf" transform="translate(60.3 647.9)" textLength="43" lengthAdjust="spacingAndGlyphs">p = 7.17e-15</text>
<text font-size="8.82" text-anchor="end" fill="#1a1a1a" transform="translate(31.7 664.7) scale(0.85 1)" stroke="#1a1a1a" stroke-width="0.12">1.5</text>
<line x1="33.3" y1="662.2" x2="34.6" y2="662.2" stroke="#2a2a2a" stroke-width="0.6" />
<text font-size="8.82" text-anchor="end" fill="#1a1a1a" transform="translate(31.7 688.5) scale(0.85 1)" stroke="#1a1a1a" stroke-width="0.12">1.0</text>
<line x1="33.3" y1="686" x2="34.6" y2="686" stroke="#2a2a2a" stroke-width="0.6" />
<text font-size="8.82" text-anchor="end" fill="#1a1a1a" transform="translate(31.7 712.6) scale(0.85 1)" stroke="#1a1a1a" stroke-width="0.12">0.5</text>
<line x1="33.3" y1="710.1" x2="34.6" y2="710.1" stroke="#2a2a2a" stroke-width="0.6" />
<text font-size="8.82" text-anchor="end" fill="#1a1a1a" transform="translate(31.7 736) scale(0.85 1)" stroke="#1a1a1a" stroke-width="0.12">0.0</text>
<line x1="33.3" y1="733.5" x2="34.6" y2="733.5" stroke="#2a2a2a" stroke-width="0.6" />
<path d="M152.5 670.24 152.35 671.33 152.1 672.41 151.81 673.43 151.79 673.49 151.37 674.58 150.81 675.66 150.11 676.74 150 676.9 149.15 677.83 147.8 678.91 146.29 680 144.87 681.06 144.85 681.08 143.38 682.16 141.79 683.25 140.26 684.33 138.94 685.41 138 686.5 137.94 686.61 137.42 687.58 136.94 688.67 136.54 689.75 136.2 690.83 135.92 691.92 135.86 692.16 135.65 693 135.38 694.08 135.13 695.17 134.93 696.25 134.8 697.34 134.75 698.4 134.75 698.42 135.1 699.5 135.95 700.59 137.06 701.67 138.18 702.75 138.63 703.25 139.13 703.84 140.1 704.92 141.09 706.01 142.07 707.09 142.99 708.17 143.48 708.8 143.83 709.26 144.63 710.34 145.38 711.42 146.11 712.51 146.78 713.59 147.23 714.35 147.42 714.67 148.03 715.76 148.61 716.84 149.15 717.93 149.65 719.01 150 719.9 150.08 720.09 150.48 721.18 150.85 722.26 151.18 723.34 151.47 724.43 151.67 725.44 151.68 725.51 151.86 726.6 152.01 727.68 152.08 728.76 152.08 728.91 151.86 729.85 151.41 730.93 151.39 730.99 151.07 732.01 150.74 733.1 150.42 734.18 154.58 734.18 154.26 733.1 153.93 732.01 153.61 730.99 153.59 730.93 153.14 729.85 152.92 728.91 152.92 728.76 152.99 727.68 153.14 726.6 153.32 725.51 153.33 725.44 153.53 724.43 153.82 723.34 154.15 722.26 154.52 721.18 154.92 720.09 155 719.9 155.35 719.01 155.85 717.93 156.39 716.84 156.97 715.76 157.58 714.67 157.77 714.35 158.22 713.59 158.89 712.51 159.62 711.42 160.37 710.34 161.17 709.26 161.52 708.8 162.01 708.17 162.93 707.09 163.91 706.01 164.9 704.92 165.87 703.84 166.37 703.25 166.82 702.75 167.94 701.67 169.05 700.59 169.9 699.5 170.25 698.42 170.25 698.4 170.2 697.34 170.07 696.25 169.87 695.17 169.62 694.08 169.35 693 169.14 692.16 169.08 691.92 168.8 690.83 168.46 689.75 168.06 688.67 167.58 687.58 167.06 686.61 167 686.5 166.06 685.41 164.74 684.33 163.21 683.25 161.62 682.16 160.15 681.08 160.13 681.06 158.71 680 157.2 678.91 155.85 677.83 155 676.9 154.89 676.74 154.19 675.66 153.63 674.58 153.21 673.49 153.19 673.43 152.9 672.41 152.65 671.33 152.5 670.24Z" fill="#f9afae" stroke="#0d0d0d" stroke-width="0.55" stroke-linejoin="round"/>
<path d="M191.6 657.21 190.72 658.51 190.49 658.87 189.92 659.81 189.17 661.12 188.46 662.42 188.13 663.03 187.76 663.73 187.05 665.03 186.34 666.34 185.68 667.64 185.08 668.95 184.67 669.97 184.56 670.25 184.12 671.56 183.72 672.86 183.36 674.17 183 675.47 182.62 676.78 182.58 676.9 182.22 678.08 181.81 679.38 181.41 680.69 181.01 681.99 180.64 683.3 180.5 683.83 180.3 684.6 179.91 685.91 179.54 687.21 179.26 688.52 179.12 689.82 179.12 690.08 179.18 691.13 179.42 692.43 179.76 693.74 180.15 695.04 180.5 696.32 180.51 696.35 180.86 697.65 181.23 698.96 181.62 700.26 182.03 701.56 182.44 702.87 182.85 704.17 183 704.64 183.27 705.48 183.69 706.78 184.13 708.09 184.57 709.39 185.01 710.7 185.45 712 185.77 712.96 185.89 713.31 186.33 714.61 186.76 715.92 187.2 717.22 187.65 718.53 188.11 719.83 188.13 719.9 188.6 721.13 189.13 722.44 189.64 723.74 190.09 725.05 190.21 725.44 190.5 726.35 190.88 727.66 191.05 728.91 191.04 728.96 190.65 730.27 190.49 730.99 190.49 731.57 190.49 732.88 190.49 734.18 192.71 734.18 192.71 732.88 192.71 731.57 192.71 730.99 192.55 730.27 192.16 728.96 192.15 728.91 192.32 727.66 192.7 726.35 192.99 725.44 193.11 725.05 193.56 723.74 194.07 722.44 194.6 721.13 195.07 719.9 195.09 719.83 195.55 718.53 196 717.22 196.44 715.92 196.87 714.61 197.31 713.31 197.43 712.96 197.75 712 198.19 710.7 198.63 709.39 199.07 708.09 199.51 706.78 199.93 705.48 200.2 704.64 200.35 704.17 200.76 702.87 201.17 701.56 201.58 700.26 201.97 698.96 202.34 697.65 202.69 696.35 202.7 696.32 203.05 695.04 203.44 693.74 203.78 692.43 204.02 691.13 204.08 690.08 204.08 689.82 203.94 688.52 203.66 687.21 203.29 685.91 202.9 684.6 202.7 683.83 202.56 683.3 202.19 681.99 201.79 680.69 201.39 679.38 200.98 678.08 200.62 676.9 200.58 676.78 200.2 675.47 199.84 674.17 199.48 672.86 199.08 671.56 198.64 670.25 198.53 669.97 198.12 668.95 197.52 667.64 196.86 666.34 196.15 665.03 195.44 663.73 195.07 663.03 194.74 662.42 194.03 661.12 193.28 659.81 192.71 658.87 192.48 658.51 191.6 657.21Z" fill="#e9c07c" stroke="#0d0d0d" stroke-width="0.55" stroke-linejoin="round"/>
<path d="M128.7 654V738H214.6" fill="none" stroke="#2a2a2a" stroke-width="0.8"/>
<line x1="152.5" y1="738" x2="152.5" y2="739.4" stroke="#2a2a2a" stroke-width="0.6" />
<line x1="191.6" y1="738" x2="191.6" y2="739.4" stroke="#2a2a2a" stroke-width="0.6" />
<path d="M152.5 654.8V651.2H191.6V654.8" fill="none" stroke="#555" stroke-width="0.5"/>
<text font-size="8.5" text-anchor="start" fill="#222" class="sf" transform="translate(155 647.9)" textLength="43.8" lengthAdjust="spacingAndGlyphs">p = 1.08e-50</text>
<text font-size="8.82" text-anchor="end" fill="#1a1a1a" transform="translate(125.8 667.5) scale(0.85 1)" stroke="#1a1a1a" stroke-width="0.12">4</text>
<line x1="127.4" y1="665" x2="128.7" y2="665" stroke="#2a2a2a" stroke-width="0.6" />
<text font-size="8.82" text-anchor="end" fill="#1a1a1a" transform="translate(125.8 685.1) scale(0.85 1)" stroke="#1a1a1a" stroke-width="0.12">3</text>
<line x1="127.4" y1="682.6" x2="128.7" y2="682.6" stroke="#2a2a2a" stroke-width="0.6" />
<text font-size="8.82" text-anchor="end" fill="#1a1a1a" transform="translate(125.8 702) scale(0.85 1)" stroke="#1a1a1a" stroke-width="0.12">2</text>
<line x1="127.4" y1="699.5" x2="128.7" y2="699.5" stroke="#2a2a2a" stroke-width="0.6" />
<text font-size="8.82" text-anchor="end" fill="#1a1a1a" transform="translate(125.8 719.2) scale(0.85 1)" stroke="#1a1a1a" stroke-width="0.12">1</text>
<line x1="127.4" y1="716.7" x2="128.7" y2="716.7" stroke="#2a2a2a" stroke-width="0.6" />
<text font-size="8.82" text-anchor="end" fill="#1a1a1a" transform="translate(125.8 736.1) scale(0.85 1)" stroke="#1a1a1a" stroke-width="0.12">0</text>
<line x1="127.4" y1="733.6" x2="128.7" y2="733.6" stroke="#2a2a2a" stroke-width="0.6" />
<path d="M246.4 656.93 245.29 657.48 244.49 658.24 243.9 658.87 243.14 659.55 241.55 660.86 239.87 662.17 238.77 663.03 238.2 663.47 236.42 664.78 234.63 666.09 233.03 667.4 232.53 667.88 231.67 668.71 230.27 670.02 229.15 671.33 228.65 672.64 228.65 672.74 228.78 673.95 229.14 675.26 229.63 676.57 229.76 676.9 230.27 677.88 231.29 679.19 232.57 680.5 233.96 681.81 235.32 683.12 236 683.83 236.54 684.42 237.77 685.73 239.02 687.04 240.24 688.35 241.37 689.66 242.24 690.77 242.39 690.97 243.43 692.28 244.42 693.59 245.12 694.9 245.29 695.62 245.35 696.21 245.45 697.52 245.52 698.83 245.58 700.14 245.63 701.45 245.68 702.76 245.71 703.25 245.75 704.07 245.84 705.38 245.92 706.68 246 707.99 246.07 709.3 246.11 710.61 246.12 711.57 246.12 711.92 246.12 713.23 246.12 714.54 246.12 715.85 246.12 717.16 246.12 718.47 246.12 719.78 246.12 721.09 246.12 722.4 246.12 723.71 246.12 725.02 246.12 726.33 246.12 726.83 246.04 727.63 245.69 728.94 245.3 730.25 245.29 730.3 245.01 731.56 244.73 732.87 244.46 734.18 248.34 734.18 248.07 732.87 247.79 731.56 247.51 730.3 247.5 730.25 247.11 728.94 246.76 727.63 246.68 726.83 246.68 726.33 246.68 725.02 246.68 723.71 246.68 722.4 246.68 721.09 246.68 719.78 246.68 718.47 246.68 717.16 246.68 715.85 246.68 714.54 246.68 713.23 246.68 711.92 246.68 711.57 246.69 710.61 246.73 709.3 246.8 707.99 246.88 706.68 246.96 705.38 247.05 704.07 247.09 703.25 247.12 702.76 247.17 701.45 247.22 700.14 247.28 698.83 247.35 697.52 247.45 696.21 247.51 695.62 247.68 694.9 248.38 693.59 249.37 692.28 250.41 690.97 250.56 690.77 251.43 689.66 252.56 688.35 253.78 687.04 255.03 685.73 256.26 684.42 256.8 683.83 257.48 683.12 258.84 681.81 260.23 680.5 261.51 679.19 262.53 677.88 263.04 676.9 263.17 676.57 263.66 675.26 264.02 673.95 264.15 672.74 264.15 672.64 263.65 671.33 262.53 670.02 261.13 668.71 260.27 667.88 259.77 667.4 258.17 666.09 256.38 664.78 254.6 663.47 254.03 663.03 252.93 662.17 251.25 660.86 249.66 659.55 248.9 658.87 248.31 658.24 247.51 657.48 246.4 656.93Z" fill="#f9afae" stroke="#0d0d0d" stroke-width="0.55" stroke-linejoin="round"/>
<path d="M285.7 672.05 285.15 673.1 284.5 674.15 284.04 674.82 283.74 675.21 282.82 676.26 281.78 677.31 280.71 678.36 279.69 679.42 279.46 679.67 278.7 680.47 277.62 681.52 276.56 682.58 275.65 683.63 275.04 684.68 274.88 685.22 274.8 685.74 274.66 686.79 274.55 687.84 274.47 688.9 274.39 689.95 274.33 690.77 274.31 691 274.22 692.06 274.15 693.11 274.08 694.16 274 695.22 273.92 696.27 273.91 696.32 273.8 697.32 273.66 698.37 273.54 699.43 273.49 700.48 273.49 700.48 273.6 701.53 273.88 702.59 274.28 703.64 274.73 704.69 275.19 705.75 275.3 706.03 275.62 706.8 276.1 707.85 276.63 708.91 277.18 709.96 277.75 711.01 278.31 712.07 278.77 712.96 278.84 713.12 279.38 714.17 279.92 715.22 280.46 716.28 280.99 717.33 281.52 718.38 282.02 719.44 282.23 719.9 282.51 720.49 283.04 721.54 283.56 722.6 284.03 723.65 284.4 724.7 284.59 725.44 284.65 725.76 284.85 726.81 285.02 727.86 285.12 728.92 285.15 729.6 285.1 729.97 284.72 731.02 284.59 731.69 284.59 732.08 284.59 733.13 284.59 734.18 286.81 734.18 286.81 733.13 286.81 732.08 286.81 731.69 286.68 731.02 286.3 729.97 286.25 729.6 286.28 728.92 286.38 727.86 286.55 726.81 286.75 725.76 286.81 725.44 287 724.7 287.37 723.65 287.84 722.6 288.36 721.54 288.89 720.49 289.17 719.9 289.38 719.44 289.88 718.38 290.41 717.33 290.94 716.28 291.48 715.22 292.02 714.17 292.56 713.12 292.63 712.96 293.09 712.07 293.65 711.01 294.22 709.96 294.77 708.91 295.3 707.85 295.78 706.8 296.1 706.03 296.21 705.75 296.67 704.69 297.12 703.64 297.52 702.59 297.8 701.53 297.91 700.48 297.91 700.48 297.86 699.43 297.74 698.37 297.6 697.32 297.49 696.32 297.48 696.27 297.4 695.22 297.32 694.16 297.25 693.11 297.18 692.06 297.09 691 297.07 690.77 297.01 689.95 296.93 688.9 296.85 687.84 296.74 686.79 296.6 685.74 296.52 685.22 296.36 684.68 295.75 683.63 294.84 682.58 293.78 681.52 292.7 680.47 291.94 679.67 291.71 679.42 290.69 678.36 289.62 677.31 288.58 676.26 287.66 675.21 287.36 674.82 286.9 674.15 286.25 673.1 285.7 672.05Z" fill="#e9c07c" stroke="#0d0d0d" stroke-width="0.55" stroke-linejoin="round"/>
<path d="M222.5 654V738H308.5" fill="none" stroke="#2a2a2a" stroke-width="0.8"/>
<line x1="246.4" y1="738" x2="246.4" y2="739.4" stroke="#2a2a2a" stroke-width="0.6" />
<line x1="285.7" y1="738" x2="285.7" y2="739.4" stroke="#2a2a2a" stroke-width="0.6" />
<path d="M246.4 654.8V651.2H285.7V654.8" fill="none" stroke="#555" stroke-width="0.5"/>
<text font-size="8.5" text-anchor="start" fill="#222" class="sf" transform="translate(249.3 647.9)" textLength="47.9" lengthAdjust="spacingAndGlyphs">p = 1.61e-103</text>
<text font-size="8.82" text-anchor="end" fill="#1a1a1a" transform="translate(219.6 661.1) scale(0.85 1)" stroke="#1a1a1a" stroke-width="0.12">4</text>
<line x1="221.2" y1="658.6" x2="222.5" y2="658.6" stroke="#2a2a2a" stroke-width="0.6" />
<text font-size="8.82" text-anchor="end" fill="#1a1a1a" transform="translate(219.6 680.1) scale(0.85 1)" stroke="#1a1a1a" stroke-width="0.12">3</text>
<line x1="221.2" y1="677.6" x2="222.5" y2="677.6" stroke="#2a2a2a" stroke-width="0.6" />
<text font-size="8.82" text-anchor="end" fill="#1a1a1a" transform="translate(219.6 698.8) scale(0.85 1)" stroke="#1a1a1a" stroke-width="0.12">2</text>
<line x1="221.2" y1="696.3" x2="222.5" y2="696.3" stroke="#2a2a2a" stroke-width="0.6" />
<text font-size="8.82" text-anchor="end" fill="#1a1a1a" transform="translate(219.6 717.8) scale(0.85 1)" stroke="#1a1a1a" stroke-width="0.12">1</text>
<line x1="221.2" y1="715.3" x2="222.5" y2="715.3" stroke="#2a2a2a" stroke-width="0.6" />
<text font-size="8.82" text-anchor="end" fill="#1a1a1a" transform="translate(219.6 736.1) scale(0.85 1)" stroke="#1a1a1a" stroke-width="0.12">0</text>
<line x1="221.2" y1="733.6" x2="222.5" y2="733.6" stroke="#2a2a2a" stroke-width="0.6" />
<text font-size="9.5" text-anchor="middle" fill="#111" transform="translate(57.8 748.9) scale(0.8 1)" stroke="#111" stroke-width="0.12">AS</text>
<text font-size="9.5" text-anchor="middle" fill="#111" transform="translate(97.1 748.9) scale(0.8 1)" stroke="#111" stroke-width="0.12">L5</text>
<text font-size="9.5" text-anchor="middle" fill="#111" transform="translate(151.9 748.9) scale(0.8 1)" stroke="#111" stroke-width="0.12">AS</text>
<text font-size="9.5" text-anchor="middle" fill="#111" transform="translate(191.2 748.9) scale(0.8 1)" stroke="#111" stroke-width="0.12">L5</text>
<text font-size="9.5" text-anchor="middle" fill="#111" transform="translate(245.8 748.9) scale(0.8 1)" stroke="#111" stroke-width="0.12">AS</text>
<text font-size="9.5" text-anchor="middle" fill="#111" transform="translate(285.3 748.9) scale(0.8 1)" stroke="#111" stroke-width="0.12">L5</text>
<defs><g id="cl" fill="none" stroke="#404040" stroke-width="0.45"><circle cx="-0.6" cy="-1.6" r="2.4"/><circle cx="-0.6" cy="110.4" r="2.3"/><circle cx="-0.3" cy="17.4" r="1.8"/><circle cx="-1.5" cy="50.1" r="1.9"/><circle cx="-0.6" cy="29.0" r="1.9"/><circle cx="-0.7" cy="20.3" r="2.0"/><circle cx="-0.5" cy="87.9" r="2.2"/><circle cx="-0.9" cy="47.3" r="1.9"/><circle cx="-2.5" cy="95.8" r="2.1"/><circle cx="-2.6" cy="40.2" r="2.0"/><circle cx="-1.0" cy="14.6" r="1.8"/><circle cx="-2.7" cy="54.1" r="2.0"/><circle cx="-2.2" cy="32.1" r="1.9"/><circle cx="-2.9" cy="66.8" r="2.4"/><circle cx="-0.4" cy="7.9" r="1.8"/><circle cx="-0.4" cy="23.6" r="1.9"/><circle cx="-1.7" cy="105.3" r="2.4"/><circle cx="-0.6" cy="91.7" r="1.9"/><circle cx="-1.1" cy="83.9" r="2.5"/><circle cx="-0.7" cy="99.0" r="1.8"/><circle cx="-1.9" cy="11.1" r="1.9"/><circle cx="-0.9" cy="62.7" r="2.4"/><circle cx="-2.8" cy="77.4" r="2.4"/><circle cx="167.4" cy="-1.6" r="2.2"/><circle cx="102.8" cy="-2.0" r="2.2"/><circle cx="87.3" cy="-2.3" r="2.4"/><circle cx="133.8" cy="-2.4" r="2.2"/><circle cx="107.4" cy="-1.3" r="2.3"/><circle cx="53.2" cy="-1.0" r="2.7"/><circle cx="71.1" cy="-2.3" r="2.4"/><circle cx="117.6" cy="-0.4" r="1.9"/><circle cx="114.6" cy="-0.1" r="2.2"/><circle cx="2.6" cy="0.0" r="2.4"/><circle cx="35.6" cy="-2.4" r="2.3"/><circle cx="20.0" cy="-2.6" r="2.3"/><circle cx="111.6" cy="-1.8" r="2.1"/><circle cx="63.8" cy="-3.0" r="2.2"/><circle cx="75.2" cy="-0.1" r="2.8"/><circle cx="163.3" cy="-2.9" r="2.5"/><circle cx="91.8" cy="-2.8" r="2.2"/><circle cx="138.8" cy="-1.5" r="2.7"/><circle cx="144.4" cy="-1.5" r="2.5"/><circle cx="26.4" cy="-1.4" r="2.4"/><circle cx="129.2" cy="-1.7" r="2.3"/><circle cx="120.1" cy="-2.5" r="2.0"/><circle cx="48.2" cy="-2.8" r="2.8"/><circle cx="123.8" cy="-2.2" r="2.1"/><circle cx="83.0" cy="-0.1" r="3.1"/><circle cx="66.7" cy="-1.6" r="2.4"/><circle cx="14.4" cy="-2.2" r="2.8"/><circle cx="40.2" cy="-1.6" r="2.0"/><circle cx="151.5" cy="-1.8" r="2.5"/><circle cx="15.1" cy="28.7" r="2.8"/><circle cx="135.1" cy="62.0" r="2.8"/><circle cx="13.6" cy="48.3" r="2.5"/><circle cx="82.3" cy="19.0" r="1.8"/><circle cx="123.6" cy="13.0" r="2.2"/><circle cx="66.8" cy="60.0" r="2.8"/><circle cx="72.2" cy="65.9" r="2.6"/><circle cx="126.7" cy="106.8" r="2.5"/><circle cx="48.0" cy="72.9" r="2.9"/><circle cx="115.8" cy="32.7" r="1.3"/><circle cx="167.4" cy="110.4" r="2.2"/><circle cx="50.4" cy="35.3" r="1.7"/><circle cx="149.0" cy="64.8" r="2.3"/><circle cx="78.7" cy="88.2" r="2.4"/><circle cx="5.3" cy="80.1" r="2.1"/><circle cx="63.3" cy="10.2" r="2.4"/><circle cx="112.4" cy="103.9" r="2.4"/><circle cx="35.9" cy="68.5" r="2.2"/><circle cx="50.6" cy="82.9" r="1.5"/><circle cx="121.9" cy="21.6" r="2.4"/><circle cx="140.7" cy="72.6" r="2.3"/><circle cx="116.3" cy="94.7" r="2.7"/><circle cx="72.2" cy="85.9" r="2.1"/><circle cx="146.4" cy="10.7" r="1.4"/><circle cx="141.2" cy="43.4" r="2.3"/><circle cx="80.7" cy="16.2" r="1.5"/><circle cx="118.2" cy="33.3" r="1.4"/><circle cx="146.8" cy="33.5" r="2.3"/><circle cx="94.1" cy="44.3" r="2.2"/><circle cx="102.9" cy="24.5" r="2.6"/><circle cx="31.3" cy="84.3" r="1.8"/><circle cx="125.2" cy="63.5" r="2.4"/><circle cx="154.6" cy="24.3" r="2.1"/><circle cx="142.8" cy="20.7" r="2.4"/><circle cx="164.0" cy="72.2" r="2.5"/><circle cx="102.8" cy="110.0" r="2.4"/><circle cx="132.3" cy="86.4" r="2.6"/><circle cx="11.4" cy="41.1" r="2.8"/><circle cx="14.4" cy="20.5" r="2.0"/><circle cx="36.2" cy="98.4" r="3.0"/><circle cx="19.5" cy="31.9" r="2.6"/><circle cx="83.5" cy="95.8" r="2.8"/><circle cx="162.6" cy="80.3" r="2.5"/><circle cx="37.0" cy="63.2" r="2.1"/><circle cx="117.9" cy="6.4" r="1.9"/><circle cx="114.5" cy="41.4" r="2.4"/><circle cx="97.7" cy="74.0" r="2.2"/><circle cx="110.5" cy="56.8" r="2.6"/><circle cx="92.3" cy="20.2" r="2.4"/><circle cx="82.5" cy="13.8" r="1.7"/><circle cx="80.2" cy="59.2" r="2.5"/><circle cx="129.7" cy="45.9" r="2.6"/><circle cx="1.3" cy="59.1" r="2.3"/><circle cx="34.8" cy="84.0" r="2.1"/><circle cx="65.6" cy="41.7" r="2.3"/><circle cx="151.1" cy="40.0" r="2.8"/><circle cx="58.3" cy="38.8" r="2.6"/><circle cx="78.4" cy="10.2" r="2.5"/><circle cx="91.4" cy="103.3" r="1.9"/><circle cx="95.0" cy="82.1" r="2.2"/><circle cx="160.9" cy="95.0" r="2.3"/><circle cx="125.5" cy="92.7" r="2.6"/><circle cx="135.8" cy="28.7" r="2.8"/><circle cx="81.5" cy="37.5" r="2.4"/><circle cx="45.1" cy="64.0" r="1.8"/><circle cx="53.4" cy="71.3" r="2.8"/><circle cx="97.6" cy="13.9" r="2.2"/><circle cx="74.8" cy="44.3" r="2.7"/><circle cx="116.8" cy="11.1" r="2.5"/><circle cx="28.2" cy="56.6" r="1.9"/><circle cx="66.6" cy="72.7" r="1.8"/><circle cx="55.1" cy="21.6" r="2.2"/><circle cx="156.4" cy="28.4" r="2.7"/><circle cx="24.7" cy="29.8" r="2.6"/><circle cx="57.0" cy="25.8" r="2.0"/><circle cx="88.9" cy="105.1" r="2.2"/><circle cx="22.0" cy="47.7" r="1.9"/><circle cx="111.3" cy="97.8" r="2.4"/><circle cx="167.7" cy="17.4" r="1.8"/><circle cx="90.6" cy="98.0" r="2.0"/><circle cx="6.5" cy="68.0" r="2.7"/><circle cx="28.9" cy="86.1" r="1.9"/><circle cx="158.4" cy="60.4" r="1.5"/><circle cx="0.3" cy="4.5" r="2.1"/><circle cx="70.8" cy="96.1" r="2.2"/><circle cx="40.3" cy="76.1" r="2.5"/><circle cx="67.6" cy="31.2" r="2.5"/><circle cx="118.9" cy="37.2" r="2.3"/><circle cx="63.9" cy="85.2" r="2.6"/><circle cx="81.9" cy="89.3" r="2.2"/><circle cx="88.0" cy="18.7" r="2.3"/><circle cx="74.8" cy="97.1" r="2.7"/><circle cx="95.7" cy="108.7" r="2.3"/><circle cx="2.0" cy="39.1" r="2.2"/><circle cx="128.6" cy="77.2" r="2.0"/><circle cx="92.8" cy="72.3" r="3.0"/><circle cx="145.0" cy="77.3" r="2.3"/><circle cx="92.2" cy="61.9" r="2.6"/><circle cx="113.3" cy="36.6" r="2.0"/><circle cx="114.0" cy="68.3" r="2.1"/><circle cx="133.9" cy="56.6" r="2.5"/><circle cx="3.5" cy="63.6" r="2.7"/><circle cx="144.6" cy="71.9" r="2.6"/><circle cx="106.4" cy="44.9" r="2.2"/><circle cx="60.8" cy="81.1" r="2.2"/><circle cx="11.9" cy="96.4" r="1.8"/><circle cx="143.5" cy="106.4" r="2.4"/><circle cx="22.1" cy="14.8" r="2.3"/><circle cx="149.3" cy="43.9" r="2.5"/><circle cx="45.4" cy="44.1" r="2.5"/><circle cx="110.3" cy="17.8" r="2.1"/><circle cx="84.7" cy="71.9" r="3.1"/><circle cx="121.8" cy="1.2" r="1.7"/><circle cx="134.2" cy="47.1" r="2.1"/><circle cx="74.0" cy="62.5" r="2.2"/><circle cx="47.5" cy="101.1" r="2.7"/><circle cx="36.7" cy="60.0" r="1.8"/><circle cx="28.2" cy="68.9" r="2.0"/><circle cx="151.9" cy="98.6" r="1.6"/><circle cx="20.9" cy="70.2" r="2.4"/><circle cx="150.7" cy="23.3" r="2.0"/><circle cx="69.7" cy="79.6" r="1.9"/><circle cx="125.3" cy="50.8" r="2.6"/><circle cx="108.4" cy="75.8" r="2.5"/><circle cx="57.9" cy="73.2" r="2.2"/><circle cx="96.3" cy="78.1" r="2.8"/><circle cx="86.2" cy="35.5" r="2.6"/><circle cx="71.8" cy="101.4" r="2.7"/><circle cx="31.2" cy="17.3" r="2.3"/><circle cx="2.7" cy="96.3" r="1.8"/><circle cx="163.5" cy="28.2" r="2.5"/><circle cx="44.8" cy="23.0" r="3.0"/><circle cx="101.0" cy="54.2" r="1.8"/><circle cx="135.7" cy="24.0" r="2.7"/><circle cx="145.9" cy="52.0" r="2.2"/><circle cx="135.5" cy="88.7" r="2.1"/><circle cx="153.2" cy="55.0" r="1.9"/><circle cx="101.5" cy="64.0" r="2.6"/><circle cx="31.8" cy="55.3" r="1.9"/><circle cx="156.8" cy="103.7" r="1.9"/><circle cx="4.4" cy="72.7" r="2.8"/><circle cx="55.8" cy="16.1" r="2.3"/><circle cx="23.1" cy="89.3" r="2.4"/><circle cx="161.2" cy="59.4" r="1.6"/><circle cx="64.7" cy="56.6" r="1.9"/><circle cx="142.0" cy="82.4" r="2.5"/><circle cx="10.3" cy="23.1" r="2.2"/><circle cx="144.9" cy="56.1" r="2.4"/><circle cx="109.2" cy="86.8" r="2.7"/><circle cx="107.4" cy="81.8" r="2.7"/><circle cx="90.9" cy="26.4" r="1.9"/><circle cx="30.9" cy="1.1" r="2.7"/><circle cx="1.0" cy="75.8" r="2.3"/><circle cx="150.5" cy="27.4" r="2.3"/><circle cx="9.1" cy="45.8" r="2.6"/><circle cx="55.6" cy="53.5" r="3.4"/><circle cx="71.2" cy="105.9" r="2.3"/><circle cx="18.6" cy="106.2" r="2.2"/><circle cx="8.4" cy="104.3" r="1.6"/><circle cx="56.3" cy="80.1" r="1.7"/><circle cx="166.5" cy="50.1" r="1.8"/><circle cx="115.8" cy="74.1" r="2.9"/><circle cx="136.1" cy="16.8" r="2.2"/><circle cx="67.4" cy="66.8" r="2.6"/><circle cx="6.4" cy="94.0" r="2.3"/><circle cx="69.4" cy="27.4" r="2.0"/><circle cx="37.5" cy="73.1" r="2.3"/><circle cx="6.3" cy="26.7" r="2.2"/><circle cx="48.8" cy="28.6" r="2.4"/><circle cx="122.2" cy="65.2" r="2.3"/><circle cx="152.1" cy="78.6" r="2.7"/><circle cx="47.6" cy="36.5" r="2.1"/><circle cx="21.3" cy="26.8" r="2.7"/><circle cx="99.9" cy="81.4" r="2.2"/><circle cx="49.9" cy="39.4" r="2.5"/><circle cx="133.0" cy="105.4" r="2.6"/><circle cx="15.7" cy="7.9" r="2.0"/><circle cx="127.2" cy="55.7" r="2.1"/><circle cx="71.7" cy="69.5" r="1.9"/><circle cx="129.4" cy="8.1" r="1.8"/><circle cx="160.4" cy="106.6" r="2.6"/><circle cx="69.1" cy="53.4" r="2.5"/><circle cx="45.2" cy="68.1" r="2.6"/><circle cx="33.8" cy="61.4" r="1.5"/><circle cx="150.4" cy="57.6" r="2.2"/><circle cx="138.7" cy="20.7" r="2.4"/><circle cx="149.0" cy="14.9" r="1.8"/><circle cx="37.6" cy="80.5" r="2.3"/><circle cx="48.8" cy="12.8" r="2.2"/><circle cx="14.8" cy="85.9" r="2.3"/><circle cx="4.4" cy="4.2" r="2.0"/><circle cx="161.6" cy="86.7" r="2.9"/><circle cx="64.5" cy="19.8" r="2.8"/><circle cx="146.4" cy="86.8" r="2.7"/><circle cx="109.8" cy="60.5" r="2.6"/><circle cx="87.3" cy="109.7" r="2.4"/><circle cx="88.8" cy="10.3" r="2.1"/><circle cx="12.6" cy="68.3" r="2.8"/><circle cx="124.1" cy="70.0" r="2.1"/><circle cx="124.8" cy="31.6" r="2.8"/><circle cx="60.9" cy="28.8" r="2.4"/><circle cx="63.6" cy="32.1" r="2.4"/><circle cx="140.4" cy="16.6" r="2.2"/><circle cx="34.2" cy="79.0" r="2.1"/><circle cx="67.8" cy="37.6" r="2.7"/><circle cx="164.1" cy="100.6" r="2.5"/><circle cx="36.5" cy="17.9" r="1.8"/><circle cx="84.8" cy="66.7" r="2.6"/><circle cx="58.2" cy="65.1" r="2.1"/><circle cx="111.2" cy="92.9" r="2.4"/><circle cx="42.8" cy="72.2" r="2.7"/><circle cx="8.2" cy="6.9" r="2.4"/><circle cx="8.7" cy="12.0" r="1.9"/><circle cx="131.8" cy="42.3" r="2.1"/><circle cx="83.9" cy="52.1" r="2.3"/><circle cx="35.2" cy="4.1" r="2.7"/><circle cx="30.2" cy="96.8" r="2.9"/><circle cx="55.6" cy="47.8" r="2.9"/><circle cx="45.2" cy="81.7" r="1.7"/><circle cx="119.0" cy="41.9" r="2.4"/><circle cx="87.9" cy="44.1" r="2.5"/><circle cx="95.4" cy="67.4" r="2.6"/><circle cx="97.1" cy="98.6" r="2.3"/><circle cx="158.7" cy="6.2" r="1.5"/><circle cx="65.4" cy="4.4" r="2.6"/><circle cx="64.0" cy="91.1" r="2.7"/><circle cx="114.5" cy="63.9" r="2.3"/><circle cx="15.5" cy="90.6" r="1.7"/><circle cx="104.3" cy="33.4" r="2.0"/><circle cx="131.4" cy="4.9" r="2.0"/><circle cx="32.3" cy="88.5" r="2.1"/><circle cx="7.9" cy="15.2" r="1.9"/><circle cx="85.7" cy="80.0" r="2.4"/><circle cx="100.6" cy="5.3" r="1.7"/><circle cx="45.8" cy="77.5" r="2.7"/><circle cx="59.0" cy="19.0" r="2.4"/><circle cx="167.4" cy="29.0" r="2.0"/><circle cx="155.1" cy="5.8" r="2.1"/><circle cx="93.3" cy="100.4" r="1.9"/><circle cx="120.4" cy="29.4" r="2.1"/><circle cx="107.2" cy="14.7" r="2.4"/><circle cx="83.7" cy="30.5" r="2.7"/><circle cx="147.8" cy="96.4" r="1.7"/><circle cx="127.1" cy="42.6" r="2.2"/><circle cx="133.8" cy="109.6" r="2.4"/><circle cx="60.8" cy="56.9" r="2.3"/><circle cx="27.6" cy="10.4" r="2.5"/><circle cx="121.4" cy="6.2" r="1.8"/><circle cx="102.0" cy="13.7" r="2.6"/><circle cx="114.0" cy="83.3" r="2.9"/><circle cx="157.6" cy="44.6" r="2.5"/><circle cx="66.2" cy="45.9" r="2.4"/><circle cx="117.5" cy="87.2" r="2.4"/><circle cx="17.7" cy="36.0" r="2.3"/><circle cx="10.5" cy="26.9" r="2.0"/><circle cx="122.7" cy="104.1" r="2.9"/><circle cx="164.4" cy="7.4" r="1.8"/><circle cx="66.6" cy="98.9" r="2.9"/><circle cx="86.1" cy="39.9" r="2.5"/><circle cx="130.3" cy="97.4" r="2.5"/><circle cx="23.7" cy="58.4" r="1.7"/><circle cx="25.7" cy="21.2" r="2.6"/><circle cx="88.2" cy="29.3" r="2.4"/><circle cx="135.9" cy="42.2" r="2.2"/><circle cx="29.4" cy="72.3" r="2.2"/><circle cx="43.5" cy="4.6" r="2.7"/><circle cx="167.3" cy="20.3" r="2.2"/><circle cx="21.7" cy="52.2" r="1.8"/><circle cx="167.5" cy="87.9" r="2.4"/><circle cx="13.8" cy="2.0" r="2.1"/><circle cx="164.6" cy="58.1" r="2.1"/><circle cx="157.1" cy="100.0" r="1.9"/><circle cx="124.1" cy="2.8" r="1.9"/><circle cx="110.5" cy="7.7" r="2.3"/><circle cx="1.4" cy="94.1" r="1.6"/><circle cx="52.7" cy="84.4" r="1.5"/><circle cx="88.1" cy="88.5" r="1.7"/><circle cx="107.4" cy="110.7" r="2.3"/><circle cx="78.6" cy="94.2" r="2.9"/><circle cx="139.0" cy="65.5" r="2.8"/><circle cx="84.7" cy="47.6" r="2.3"/><circle cx="107.0" cy="22.9" r="2.3"/><circle cx="74.9" cy="74.3" r="2.0"/><circle cx="50.1" cy="24.2" r="2.4"/><circle cx="18.6" cy="89.6" r="2.0"/><circle cx="147.1" cy="91.9" r="2.2"/><circle cx="117.9" cy="67.3" r="2.6"/><circle cx="9.4" cy="98.3" r="2.1"/><circle cx="79.0" cy="75.9" r="2.4"/><circle cx="18.0" cy="81.2" r="3.1"/><circle cx="24.0" cy="107.4" r="2.2"/><circle cx="120.0" cy="60.7" r="2.8"/><circle cx="109.3" cy="26.7" r="2.1"/><circle cx="83.2" cy="9.2" r="2.1"/><circle cx="46.4" cy="31.8" r="2.5"/><circle cx="27.5" cy="45.2" r="2.9"/><circle cx="10.0" cy="1.4" r="2.3"/><circle cx="53.2" cy="111.0" r="2.7"/><circle cx="122.5" cy="47.5" r="2.3"/><circle cx="31.6" cy="13.3" r="2.2"/><circle cx="69.2" cy="72.0" r="1.8"/><circle cx="137.6" cy="54.1" r="2.1"/><circle cx="143.2" cy="89.1" r="2.1"/><circle cx="145.4" cy="38.0" r="2.9"/><circle cx="75.6" cy="14.4" r="2.4"/><circle cx="97.7" cy="4.2" r="1.6"/><circle cx="79.1" cy="18.6" r="1.5"/><circle cx="81.2" cy="22.1" r="2.1"/><circle cx="167.1" cy="47.3" r="1.7"/><circle cx="71.4" cy="59.7" r="2.5"/><circle cx="20.6" cy="57.0" r="1.8"/><circle cx="49.1" cy="8.8" r="1.8"/><circle cx="69.1" cy="75.8" r="1.7"/><circle cx="51.5" cy="76.6" r="2.4"/><circle cx="132.0" cy="1.3" r="1.9"/><circle cx="36.3" cy="32.4" r="2.7"/><circle cx="97.1" cy="56.9" r="2.6"/><circle cx="93.0" cy="9.0" r="1.9"/><circle cx="47.5" cy="18.9" r="2.1"/><circle cx="122.9" cy="77.9" r="2.7"/><circle cx="50.1" cy="96.3" r="2.6"/><circle cx="21.9" cy="1.0" r="2.5"/><circle cx="61.9" cy="73.7" r="2.0"/><circle cx="159.4" cy="57.0" r="1.6"/><circle cx="22.7" cy="66.0" r="2.4"/><circle cx="3.1" cy="91.4" r="1.8"/><circle cx="53.6" cy="12.0" r="2.1"/><circle cx="25.6" cy="93.9" r="2.8"/><circle cx="153.6" cy="19.7" r="2.3"/><circle cx="165.5" cy="95.8" r="2.2"/><circle cx="54.6" cy="6.0" r="2.1"/><circle cx="25.9" cy="48.9" r="2.3"/><circle cx="34.7" cy="19.9" r="1.9"/><circle cx="43.9" cy="96.9" r="2.8"/><circle cx="5.7" cy="104.2" r="1.4"/><circle cx="76.3" cy="83.2" r="2.2"/><circle cx="83.9" cy="104.8" r="2.9"/><circle cx="28.9" cy="28.0" r="2.2"/><circle cx="83.0" cy="55.7" r="2.3"/><circle cx="54.8" cy="36.3" r="2.2"/><circle cx="16.4" cy="56.4" r="1.9"/><circle cx="140.5" cy="100.6" r="2.6"/><circle cx="71.1" cy="109.7" r="2.4"/><circle cx="163.0" cy="33.7" r="2.1"/><circle cx="21.0" cy="93.4" r="2.0"/><circle cx="160.1" cy="74.4" r="2.2"/><circle cx="161.9" cy="54.7" r="1.6"/><circle cx="88.8" cy="6.7" r="2.0"/><circle cx="62.1" cy="102.4" r="2.4"/><circle cx="18.0" cy="14.6" r="2.0"/><circle cx="8.2" cy="54.6" r="2.1"/><circle cx="101.9" cy="59.1" r="2.9"/><circle cx="148.5" cy="75.6" r="2.4"/><circle cx="105.5" cy="67.4" r="2.4"/><circle cx="85.1" cy="5.5" r="2.4"/><circle cx="16.6" cy="70.9" r="2.6"/><circle cx="36.8" cy="45.9" r="2.8"/><circle cx="109.5" cy="65.3" r="2.0"/><circle cx="39.1" cy="27.5" r="2.6"/><circle cx="22.7" cy="74.8" r="2.7"/><circle cx="120.2" cy="16.2" r="2.8"/><circle cx="44.6" cy="16.8" r="2.2"/><circle cx="101.8" cy="30.6" r="2.3"/><circle cx="145.5" cy="29.7" r="2.3"/><circle cx="107.7" cy="71.5" r="2.2"/><circle cx="159.5" cy="81.4" r="2.0"/><circle cx="156.7" cy="65.2" r="1.5"/><circle cx="-0.1" cy="35.7" r="2.0"/><circle cx="123.5" cy="38.3" r="2.7"/><circle cx="112.3" cy="11.9" r="2.4"/><circle cx="108.5" cy="42.0" r="2.0"/><circle cx="159.2" cy="9.6" r="1.7"/><circle cx="59.8" cy="86.1" r="2.1"/><circle cx="66.7" cy="50.6" r="2.2"/><circle cx="56.2" cy="10.3" r="1.9"/><circle cx="55.6" cy="96.0" r="3.1"/><circle cx="128.8" cy="33.0" r="2.6"/><circle cx="112.2" cy="88.8" r="2.1"/><circle cx="135.1" cy="7.9" r="2.8"/><circle cx="28.3" cy="105.6" r="2.3"/><circle cx="47.0" cy="87.8" r="2.1"/><circle cx="106.8" cy="98.1" r="2.1"/><circle cx="14.1" cy="105.5" r="2.1"/><circle cx="146.0" cy="26.6" r="1.8"/><circle cx="117.6" cy="111.6" r="1.9"/><circle cx="145.4" cy="46.8" r="2.1"/><circle cx="125.2" cy="87.7" r="2.4"/><circle cx="5.5" cy="98.1" r="1.9"/><circle cx="17.8" cy="18.3" r="2.2"/><circle cx="78.1" cy="29.9" r="2.4"/><circle cx="109.9" cy="21.0" r="2.0"/><circle cx="104.7" cy="85.7" r="2.3"/><circle cx="161.4" cy="44.5" r="2.1"/><circle cx="48.6" cy="63.8" r="2.0"/><circle cx="109.2" cy="102.4" r="2.2"/><circle cx="98.7" cy="49.4" r="1.4"/><circle cx="49.2" cy="80.2" r="1.8"/><circle cx="104.2" cy="8.8" r="2.3"/><circle cx="51.2" cy="18.2" r="1.8"/><circle cx="82.6" cy="42.3" r="2.2"/><circle cx="26.0" cy="59.7" r="1.6"/><circle cx="111.2" cy="39.3" r="1.9"/><circle cx="140.4" cy="9.3" r="2.5"/><circle cx="12.2" cy="80.6" r="2.0"/><circle cx="95.2" cy="86.2" r="2.2"/><circle cx="156.2" cy="55.9" r="1.6"/><circle cx="137.1" cy="73.7" r="1.9"/><circle cx="88.2" cy="54.7" r="2.5"/><circle cx="165.4" cy="40.2" r="2.1"/><circle cx="72.5" cy="54.8" r="2.6"/><circle cx="106.6" cy="6.0" r="2.0"/><circle cx="110.6" cy="3.0" r="2.4"/><circle cx="62.4" cy="50.3" r="2.3"/><circle cx="96.6" cy="62.3" r="2.8"/><circle cx="102.7" cy="2.9" r="2.2"/><circle cx="55.4" cy="85.0" r="2.0"/><circle cx="72.2" cy="91.4" r="2.8"/><circle cx="89.7" cy="66.8" r="2.9"/><circle cx="114.6" cy="111.9" r="2.1"/><circle cx="1.5" cy="12.6" r="2.0"/><circle cx="15.7" cy="24.1" r="2.4"/><circle cx="2.6" cy="112.0" r="2.3"/><circle cx="24.8" cy="52.1" r="1.7"/><circle cx="149.7" cy="53.4" r="2.1"/><circle cx="40.6" cy="34.7" r="2.1"/><circle cx="70.8" cy="34.7" r="2.5"/><circle cx="78.0" cy="47.1" r="2.1"/><circle cx="14.6" cy="98.6" r="1.9"/><circle cx="163.0" cy="62.8" r="1.9"/><circle cx="16.0" cy="101.1" r="1.9"/><circle cx="61.7" cy="42.1" r="2.4"/><circle cx="39.2" cy="102.6" r="2.7"/><circle cx="115.6" cy="35.4" r="1.6"/><circle cx="61.0" cy="47.5" r="2.4"/><circle cx="64.7" cy="74.9" r="1.7"/><circle cx="159.0" cy="3.0" r="2.0"/><circle cx="142.4" cy="96.1" r="1.8"/><circle cx="35.6" cy="109.6" r="2.3"/><circle cx="147.1" cy="81.8" r="2.7"/><circle cx="18.1" cy="49.9" r="2.4"/><circle cx="127.1" cy="60.0" r="2.2"/><circle cx="10.0" cy="86.1" r="2.5"/><circle cx="68.3" cy="22.1" r="2.6"/><circle cx="59.1" cy="12.7" r="2.2"/><circle cx="61.1" cy="0.5" r="2.5"/><circle cx="167.0" cy="14.6" r="1.6"/><circle cx="59.1" cy="33.8" r="2.3"/><circle cx="77.5" cy="38.8" r="2.5"/><circle cx="148.5" cy="20.5" r="1.9"/><circle cx="0.6" cy="44.6" r="1.7"/><circle cx="164.3" cy="37.4" r="1.8"/><circle cx="11.9" cy="93.6" r="1.7"/><circle cx="25.8" cy="83.5" r="2.0"/><circle cx="146.0" cy="23.5" r="2.2"/><circle cx="52.4" cy="63.5" r="2.4"/><circle cx="145.2" cy="95.5" r="1.6"/><circle cx="81.2" cy="64.0" r="2.4"/><circle cx="132.1" cy="20.0" r="2.8"/><circle cx="157.7" cy="97.1" r="1.9"/><circle cx="39.7" cy="69.0" r="2.3"/><circle cx="120.1" cy="74.6" r="2.9"/><circle cx="11.7" cy="7.3" r="1.6"/><circle cx="37.7" cy="11.6" r="2.1"/><circle cx="81.4" cy="82.7" r="2.7"/><circle cx="97.2" cy="102.3" r="1.8"/><circle cx="80.4" cy="50.6" r="2.4"/><circle cx="20.0" cy="109.4" r="2.2"/><circle cx="111.6" cy="110.2" r="2.3"/><circle cx="155.8" cy="10.5" r="2.2"/><circle cx="105.0" cy="54.5" r="2.7"/><circle cx="127.3" cy="2.3" r="2.2"/><circle cx="110.5" cy="68.4" r="1.9"/><circle cx="62.5" cy="15.4" r="2.6"/><circle cx="114.4" cy="5.5" r="2.6"/><circle cx="56.1" cy="1.9" r="2.1"/><circle cx="52.5" cy="26.9" r="1.9"/><circle cx="104.6" cy="77.0" r="2.3"/><circle cx="117.4" cy="46.4" r="2.4"/><circle cx="125.5" cy="73.6" r="2.3"/><circle cx="91.4" cy="86.2" r="2.1"/><circle cx="165.3" cy="54.1" r="2.0"/><circle cx="160.9" cy="70.2" r="1.9"/><circle cx="62.9" cy="53.5" r="2.2"/><circle cx="109.8" cy="35.0" r="2.0"/><circle cx="155.2" cy="40.0" r="2.6"/><circle cx="106.4" cy="94.7" r="2.4"/><circle cx="140.6" cy="77.3" r="2.4"/><circle cx="119.7" cy="81.9" r="3.4"/><circle cx="99.5" cy="46.4" r="1.8"/><circle cx="150.9" cy="17.5" r="1.9"/><circle cx="22.6" cy="37.1" r="2.7"/><circle cx="38.9" cy="106.8" r="2.0"/><circle cx="86.5" cy="99.7" r="2.6"/><circle cx="93.5" cy="24.0" r="1.9"/><circle cx="145.1" cy="99.4" r="2.1"/><circle cx="19.6" cy="86.1" r="2.3"/><circle cx="96.2" cy="18.2" r="2.7"/><circle cx="57.8" cy="82.9" r="1.6"/><circle cx="32.8" cy="67.0" r="2.1"/><circle cx="91.0" cy="58.2" r="2.6"/><circle cx="31.6" cy="92.7" r="2.8"/><circle cx="89.6" cy="75.8" r="3.1"/><circle cx="105.1" cy="37.0" r="2.2"/><circle cx="123.8" cy="44.1" r="2.5"/><circle cx="154.2" cy="51.3" r="2.2"/><circle cx="31.7" cy="51.3" r="2.1"/><circle cx="66.9" cy="104.5" r="2.6"/><circle cx="52.1" cy="100.4" r="2.4"/><circle cx="4.4" cy="14.6" r="1.7"/><circle cx="47.8" cy="83.6" r="1.7"/><circle cx="103.5" cy="48.0" r="2.6"/><circle cx="67.1" cy="93.7" r="2.6"/><circle cx="36.6" cy="89.6" r="2.5"/><circle cx="62.4" cy="78.2" r="2.0"/><circle cx="138.4" cy="46.8" r="2.3"/><circle cx="33.9" cy="26.9" r="2.3"/><circle cx="40.5" cy="9.0" r="2.1"/><circle cx="72.1" cy="72.9" r="1.6"/><circle cx="63.8" cy="109.0" r="2.0"/><circle cx="156.8" cy="86.6" r="2.2"/><circle cx="133.7" cy="32.7" r="2.4"/><circle cx="127.9" cy="5.6" r="1.6"/><circle cx="4.0" cy="8.1" r="2.1"/><circle cx="53.2" cy="80.5" r="1.9"/><circle cx="5.0" cy="43.0" r="2.6"/><circle cx="98.1" cy="93.4" r="2.4"/><circle cx="93.4" cy="29.4" r="2.2"/><circle cx="12.8" cy="56.5" r="1.9"/><circle cx="134.3" cy="93.7" r="1.9"/><circle cx="103.8" cy="18.5" r="2.7"/><circle cx="12.5" cy="5.0" r="1.7"/><circle cx="46.8" cy="59.9" r="2.1"/><circle cx="25.2" cy="70.4" r="2.4"/><circle cx="54.1" cy="89.7" r="2.4"/><circle cx="87.9" cy="84.2" r="2.2"/><circle cx="42.5" cy="64.2" r="1.5"/><circle cx="148.7" cy="1.9" r="2.4"/><circle cx="155.0" cy="67.8" r="2.1"/><circle cx="165.8" cy="32.1" r="2.1"/><circle cx="83.3" cy="76.5" r="2.4"/><circle cx="99.5" cy="69.1" r="2.7"/><circle cx="146.0" cy="18.1" r="2.1"/><circle cx="119.5" cy="50.7" r="2.3"/><circle cx="155.3" cy="107.5" r="2.3"/><circle cx="73.7" cy="39.4" r="2.4"/><circle cx="152.6" cy="104.4" r="1.9"/><circle cx="128.7" cy="101.8" r="3.1"/><circle cx="158.3" cy="53.6" r="1.7"/><circle cx="61.5" cy="5.8" r="2.1"/><circle cx="73.8" cy="22.9" r="1.8"/><circle cx="120.8" cy="69.4" r="1.9"/><circle cx="157.2" cy="77.4" r="2.5"/><circle cx="40.9" cy="43.9" r="2.5"/><circle cx="85.5" cy="61.7" r="2.6"/><circle cx="157.2" cy="70.4" r="1.9"/><circle cx="55.7" cy="32.0" r="1.9"/><circle cx="95.9" cy="10.6" r="1.9"/><circle cx="79.3" cy="101.0" r="3.2"/><circle cx="153.2" cy="64.3" r="1.8"/><circle cx="91.5" cy="37.8" r="2.5"/><circle cx="101.3" cy="50.9" r="1.7"/><circle cx="109.2" cy="106.8" r="2.1"/><circle cx="128.0" cy="15.4" r="2.7"/><circle cx="28.8" cy="76.5" r="2.7"/><circle cx="165.1" cy="66.8" r="2.2"/><circle cx="140.4" cy="30.7" r="2.2"/><circle cx="43.6" cy="0.3" r="2.8"/><circle cx="148.9" cy="49.1" r="2.2"/><circle cx="138.1" cy="69.7" r="2.3"/><circle cx="132.0" cy="65.4" r="1.9"/><circle cx="115.4" cy="107.2" r="2.4"/><circle cx="72.6" cy="81.6" r="2.2"/><circle cx="162.5" cy="4.4" r="1.8"/><circle cx="43.1" cy="39.7" r="2.2"/><circle cx="93.4" cy="53.6" r="2.3"/><circle cx="157.3" cy="20.9" r="2.4"/><circle cx="52.2" cy="8.4" r="1.8"/><circle cx="28.5" cy="65.8" r="2.2"/><circle cx="10.1" cy="107.5" r="2.1"/><circle cx="126.8" cy="10.6" r="2.0"/><circle cx="133.4" cy="13.7" r="2.6"/><circle cx="85.3" cy="24.2" r="2.7"/><circle cx="29.3" cy="59.9" r="1.7"/><circle cx="148.7" cy="9.0" r="1.6"/><circle cx="36.6" cy="52.3" r="2.5"/><circle cx="160.1" cy="40.2" r="2.6"/><circle cx="146.9" cy="60.5" r="2.6"/><circle cx="75.5" cy="87.9" r="2.4"/><circle cx="32.0" cy="59.1" r="1.6"/><circle cx="6.1" cy="59.3" r="1.8"/><circle cx="167.6" cy="7.9" r="1.9"/><circle cx="16.9" cy="65.0" r="2.8"/><circle cx="156.3" cy="62.3" r="1.5"/><circle cx="160.0" cy="36.6" r="2.1"/><circle cx="167.6" cy="23.6" r="2.1"/><circle cx="128.3" cy="36.8" r="1.8"/><circle cx="140.3" cy="4.2" r="2.8"/><circle cx="51.6" cy="105.1" r="2.7"/><circle cx="130.3" cy="55.1" r="2.3"/><circle cx="61.5" cy="106.5" r="2.3"/><circle cx="31.3" cy="21.4" r="2.2"/><circle cx="10.2" cy="73.1" r="2.7"/><circle cx="153.9" cy="14.3" r="2.3"/><circle cx="128.1" cy="84.9" r="2.5"/><circle cx="34.9" cy="57.1" r="1.9"/><circle cx="95.8" cy="6.2" r="1.8"/><circle cx="158.3" cy="15.4" r="2.6"/><circle cx="23.7" cy="78.9" r="2.5"/><circle cx="84.5" cy="86.0" r="2.0"/><circle cx="107.8" cy="10.9" r="2.1"/><circle cx="75.2" cy="111.9" r="2.9"/><circle cx="51.6" cy="21.0" r="1.9"/><circle cx="151.6" cy="8.8" r="2.2"/><circle cx="69.8" cy="2.5" r="2.7"/><circle cx="143.8" cy="15.2" r="2.1"/><circle cx="13.0" cy="52.7" r="2.4"/><circle cx="116.1" cy="90.5" r="2.3"/><circle cx="32.6" cy="47.6" r="2.4"/><circle cx="74.9" cy="33.9" r="2.4"/><circle cx="115.2" cy="59.9" r="2.4"/><circle cx="68.3" cy="87.7" r="2.4"/><circle cx="50.2" cy="68.0" r="2.4"/><circle cx="133.1" cy="38.9" r="1.8"/><circle cx="6.5" cy="0.4" r="2.3"/><circle cx="131.3" cy="91.0" r="2.5"/><circle cx="118.8" cy="3.0" r="2.0"/><circle cx="43.8" cy="106.7" r="2.6"/><circle cx="92.0" cy="48.1" r="2.2"/><circle cx="163.3" cy="109.1" r="2.4"/><circle cx="41.6" cy="80.0" r="2.3"/><circle cx="136.0" cy="95.8" r="1.7"/><circle cx="152.2" cy="83.5" r="2.5"/><circle cx="13.0" cy="35.7" r="2.7"/><circle cx="33.2" cy="71.7" r="2.0"/><circle cx="91.8" cy="109.2" r="2.2"/><circle cx="41.0" cy="15.1" r="2.1"/><circle cx="5.0" cy="22.3" r="2.4"/><circle cx="150.4" cy="68.9" r="2.5"/><circle cx="39.9" cy="65.4" r="1.9"/><circle cx="107.5" cy="38.6" r="1.9"/><circle cx="1.7" cy="80.2" r="2.1"/><circle cx="99.8" cy="9.0" r="2.3"/><circle cx="84.6" cy="17.1" r="2.1"/><circle cx="67.8" cy="83.0" r="2.3"/><circle cx="99.5" cy="38.7" r="2.6"/><circle cx="130.0" cy="27.0" r="3.2"/><circle cx="109.1" cy="31.7" r="2.3"/><circle cx="106.2" cy="62.3" r="2.4"/><circle cx="102.0" cy="93.8" r="2.0"/><circle cx="138.8" cy="110.5" r="2.9"/><circle cx="37.9" cy="1.4" r="2.3"/><circle cx="114.3" cy="15.8" r="2.6"/><circle cx="1.9" cy="25.8" r="2.1"/><circle cx="76.4" cy="70.7" r="2.3"/><circle cx="151.1" cy="92.9" r="2.2"/><circle cx="153.8" cy="96.4" r="1.9"/><circle cx="144.4" cy="110.5" r="2.6"/><circle cx="126.4" cy="19.6" r="2.7"/><circle cx="95.5" cy="49.9" r="1.6"/><circle cx="112.9" cy="30.8" r="2.3"/><circle cx="154.7" cy="34.0" r="2.8"/><circle cx="77.4" cy="20.0" r="1.5"/><circle cx="153.7" cy="101.0" r="1.8"/><circle cx="160.1" cy="25.4" r="2.5"/><circle cx="56.8" cy="102.3" r="2.9"/><circle cx="149.0" cy="12.4" r="1.6"/><circle cx="77.4" cy="4.4" r="2.7"/><circle cx="139.7" cy="94.2" r="1.7"/><circle cx="157.2" cy="90.6" r="2.5"/><circle cx="70.3" cy="42.3" r="2.4"/><circle cx="108.9" cy="48.9" r="2.4"/><circle cx="161.9" cy="51.6" r="1.8"/><circle cx="79.2" cy="108.3" r="2.8"/><circle cx="44.3" cy="36.3" r="2.2"/><circle cx="11.8" cy="102.3" r="2.1"/><circle cx="88.7" cy="50.3" r="2.5"/><circle cx="149.6" cy="102.1" r="2.1"/><circle cx="35.0" cy="14.4" r="1.9"/><circle cx="147.6" cy="106.7" r="1.9"/><circle cx="90.8" cy="80.8" r="2.6"/><circle cx="1.7" cy="55.3" r="1.9"/><circle cx="13.6" cy="15.7" r="2.1"/><circle cx="9.7" cy="59.2" r="2.1"/><circle cx="96.6" cy="46.3" r="1.9"/><circle cx="120.9" cy="10.1" r="2.3"/><circle cx="40.3" cy="20.9" r="2.6"/><circle cx="85.3" cy="91.0" r="2.2"/><circle cx="30.8" cy="101.5" r="2.8"/><circle cx="58.8" cy="23.0" r="1.8"/><circle cx="42.2" cy="88.5" r="2.5"/><circle cx="3.5" cy="47.4" r="2.2"/><circle cx="50.6" cy="57.2" r="2.9"/><circle cx="68.6" cy="9.0" r="2.8"/><circle cx="26.4" cy="110.6" r="2.5"/><circle cx="95.1" cy="104.7" r="1.9"/><circle cx="160.3" cy="67.1" r="1.9"/><circle cx="153.4" cy="47.0" r="2.8"/><circle cx="50.3" cy="91.9" r="2.8"/><circle cx="56.4" cy="28.9" r="1.9"/><circle cx="80.1" cy="44.3" r="2.4"/><circle cx="160.8" cy="101.2" r="2.3"/><circle cx="122.1" cy="98.8" r="3.1"/><circle cx="43.8" cy="27.4" r="2.5"/><circle cx="55.8" cy="67.5" r="2.1"/><circle cx="4.8" cy="11.0" r="2.0"/><circle cx="43.4" cy="9.7" r="1.8"/><circle cx="44.1" cy="12.8" r="2.2"/><circle cx="49.4" cy="50.0" r="3.6"/><circle cx="94.8" cy="90.4" r="2.3"/><circle cx="49.6" cy="44.3" r="2.6"/><circle cx="144.7" cy="2.8" r="2.2"/><circle cx="87.7" cy="14.0" r="2.0"/><circle cx="2.2" cy="99.6" r="1.8"/><circle cx="109.4" cy="52.9" r="2.4"/><circle cx="138.5" cy="105.1" r="2.8"/><circle cx="97.6" cy="52.5" r="1.8"/><circle cx="166.3" cy="105.3" r="2.3"/><circle cx="130.9" cy="11.2" r="2.1"/><circle cx="74.9" cy="28.3" r="1.6"/><circle cx="159.0" cy="32.6" r="2.6"/><circle cx="25.3" cy="99.8" r="2.6"/><circle cx="51.3" cy="15.2" r="1.9"/><circle cx="11.3" cy="18.7" r="1.9"/><circle cx="72.4" cy="29.9" r="2.1"/><circle cx="115.7" cy="99.4" r="2.6"/><circle cx="26.3" cy="4.1" r="2.5"/><circle cx="128.8" cy="73.5" r="1.7"/><circle cx="144.2" cy="12.0" r="1.9"/><circle cx="116.1" cy="30.0" r="1.6"/><circle cx="31.5" cy="42.2" r="2.8"/><circle cx="142.3" cy="92.2" r="1.9"/><circle cx="141.3" cy="26.0" r="2.6"/><circle cx="75.3" cy="21.3" r="1.7"/><circle cx="38.8" cy="93.9" r="2.8"/><circle cx="19.2" cy="102.2" r="2.2"/><circle cx="162.5" cy="48.4" r="2.2"/><circle cx="99.5" cy="107.3" r="2.3"/><circle cx="121.4" cy="87.7" r="2.3"/><circle cx="124.6" cy="7.2" r="1.9"/><circle cx="132.0" cy="80.9" r="2.6"/><circle cx="58.2" cy="4.5" r="1.7"/><circle cx="58.4" cy="61.8" r="1.8"/><circle cx="62.9" cy="63.9" r="2.5"/><circle cx="66.1" cy="79.0" r="2.1"/><circle cx="157.2" cy="-0.1" r="2.6"/><circle cx="105.7" cy="90.7" r="2.3"/><circle cx="4.2" cy="51.3" r="1.9"/><circle cx="136.0" cy="77.7" r="2.2"/><circle cx="63.3" cy="36.9" r="2.5"/><circle cx="5.2" cy="56.2" r="1.9"/><circle cx="138.0" cy="91.7" r="1.9"/><circle cx="120.2" cy="55.0" r="2.3"/><circle cx="41.5" cy="31.2" r="2.2"/><circle cx="28.8" cy="38.2" r="2.8"/><circle cx="0.7" cy="52.1" r="1.7"/><circle cx="132.3" cy="36.1" r="1.9"/><circle cx="142.9" cy="62.6" r="2.8"/><circle cx="129.2" cy="110.3" r="2.2"/><circle cx="16.0" cy="44.7" r="2.5"/><circle cx="27.4" cy="16.1" r="2.2"/><circle cx="120.1" cy="109.5" r="2.1"/><circle cx="101.0" cy="103.0" r="2.5"/><circle cx="72.7" cy="77.3" r="1.9"/><circle cx="22.7" cy="83.9" r="2.3"/><circle cx="128.6" cy="65.8" r="2.0"/><circle cx="152.3" cy="60.8" r="1.9"/><circle cx="99.0" cy="0.3" r="2.2"/><circle cx="139.1" cy="39.2" r="2.4"/><circle cx="115.8" cy="55.3" r="2.4"/><circle cx="28.0" cy="52.8" r="2.1"/><circle cx="154.8" cy="73.5" r="2.2"/><circle cx="17.8" cy="60.3" r="2.3"/><circle cx="152.3" cy="3.3" r="2.4"/><circle cx="167.4" cy="91.7" r="1.8"/><circle cx="99.2" cy="85.2" r="2.3"/><circle cx="54.9" cy="60.2" r="2.3"/><circle cx="24.9" cy="12.8" r="1.9"/><circle cx="94.0" cy="95.2" r="2.4"/><circle cx="89.2" cy="1.9" r="2.5"/><circle cx="166.9" cy="83.9" r="2.7"/><circle cx="61.8" cy="23.7" r="2.2"/><circle cx="43.4" cy="101.8" r="2.5"/><circle cx="78.9" cy="13.8" r="1.8"/><circle cx="30.3" cy="6.4" r="2.7"/><circle cx="158.2" cy="49.5" r="2.3"/><circle cx="73.4" cy="7.7" r="3.3"/><circle cx="44.9" cy="92.2" r="2.7"/><circle cx="142.2" cy="49.4" r="2.4"/><circle cx="48.2" cy="109.2" r="3.1"/><circle cx="52.8" cy="30.5" r="1.6"/><circle cx="24.3" cy="55.3" r="1.8"/><circle cx="139.6" cy="58.6" r="3.1"/><circle cx="137.4" cy="35.3" r="2.4"/><circle cx="116.1" cy="20.2" r="2.7"/><circle cx="79.5" cy="33.8" r="2.4"/><circle cx="50.5" cy="86.8" r="2.1"/><circle cx="39.3" cy="56.2" r="2.5"/><circle cx="61.0" cy="97.4" r="2.8"/><circle cx="38.4" cy="39.8" r="2.6"/><circle cx="121.3" cy="33.3" r="2.2"/><circle cx="123.8" cy="109.8" r="2.3"/><circle cx="59.6" cy="59.2" r="2.0"/><circle cx="5.1" cy="88.4" r="2.3"/><circle cx="63.6" cy="68.8" r="2.3"/><circle cx="34.1" cy="75.6" r="2.3"/><circle cx="83.0" cy="111.9" r="3.1"/><circle cx="159.7" cy="63.7" r="1.8"/><circle cx="29.4" cy="33.0" r="2.2"/><circle cx="91.0" cy="90.2" r="1.9"/><circle cx="149.4" cy="98.2" r="1.8"/><circle cx="130.2" cy="50.3" r="2.5"/><circle cx="98.6" cy="29.1" r="2.2"/><circle cx="94.0" cy="40.9" r="2.7"/><circle cx="92.1" cy="5.0" r="2.0"/><circle cx="16.6" cy="75.7" r="2.8"/><circle cx="71.5" cy="24.2" r="1.8"/><circle cx="164.0" cy="1.4" r="2.4"/><circle cx="156.0" cy="93.7" r="2.1"/><circle cx="167.3" cy="99.0" r="1.8"/><circle cx="119.1" cy="24.4" r="2.4"/><circle cx="117.6" cy="103.9" r="2.6"/><circle cx="11.1" cy="32.3" r="2.3"/><circle cx="21.0" cy="97.8" r="2.6"/><circle cx="21.0" cy="10.2" r="2.6"/><circle cx="16.6" cy="96.1" r="1.8"/><circle cx="34.3" cy="105.0" r="2.7"/><circle cx="8.3" cy="50.3" r="2.4"/><circle cx="22.2" cy="19.1" r="2.4"/><circle cx="31.3" cy="63.3" r="2.1"/><circle cx="34.8" cy="37.5" r="2.8"/><circle cx="144.5" cy="67.4" r="2.8"/><circle cx="3.1" cy="29.2" r="1.8"/><circle cx="101.1" cy="35.2" r="1.9"/><circle cx="16.4" cy="11.3" r="2.1"/><circle cx="59.7" cy="69.6" r="2.1"/><circle cx="80.4" cy="26.0" r="2.4"/><circle cx="25.5" cy="34.6" r="2.3"/><circle cx="145.8" cy="6.9" r="2.3"/><circle cx="11.7" cy="9.9" r="1.8"/><circle cx="94.4" cy="1.4" r="2.4"/><circle cx="51.7" cy="33.2" r="1.9"/><circle cx="70.9" cy="47.9" r="2.4"/><circle cx="141.8" cy="34.5" r="2.2"/><circle cx="27.0" cy="88.9" r="2.4"/><circle cx="38.2" cy="15.8" r="1.8"/><circle cx="2.8" cy="107.2" r="2.2"/><circle cx="111.8" cy="72.7" r="2.3"/><circle cx="14.9" cy="93.4" r="1.4"/><circle cx="12.8" cy="77.6" r="2.4"/><circle cx="141.0" cy="53.2" r="2.2"/><circle cx="31.2" cy="108.8" r="2.4"/><circle cx="8.0" cy="30.2" r="1.9"/><circle cx="103.4" cy="71.0" r="2.2"/><circle cx="32.6" cy="31.3" r="2.1"/><circle cx="66.7" cy="110.4" r="2.4"/><circle cx="166.1" cy="11.1" r="2.0"/><circle cx="145.0" cy="42.7" r="2.1"/><circle cx="42.3" cy="49.6" r="3.0"/><circle cx="9.7" cy="82.3" r="2.1"/><circle cx="117.1" cy="27.1" r="2.2"/><circle cx="4.9" cy="84.2" r="2.3"/><circle cx="163.6" cy="16.5" r="2.4"/><circle cx="167.1" cy="62.7" r="2.4"/><circle cx="38.3" cy="85.9" r="2.1"/><circle cx="128.1" cy="39.7" r="1.9"/><circle cx="97.5" cy="24.4" r="2.3"/><circle cx="99.5" cy="20.9" r="2.3"/><circle cx="60.1" cy="92.1" r="2.5"/><circle cx="134.0" cy="74.0" r="1.6"/><circle cx="151.6" cy="88.1" r="2.6"/><circle cx="101.4" cy="75.1" r="2.2"/><circle cx="23.0" cy="6.5" r="2.5"/><circle cx="40.8" cy="84.0" r="2.0"/><circle cx="163.8" cy="23.2" r="2.3"/><circle cx="163.4" cy="91.3" r="2.3"/><circle cx="26.4" cy="62.8" r="1.9"/><circle cx="44.1" cy="84.6" r="1.9"/><circle cx="58.4" cy="44.0" r="2.2"/><circle cx="96.3" cy="34.2" r="2.9"/><circle cx="134.1" cy="67.4" r="2.0"/><circle cx="7.8" cy="63.2" r="2.0"/><circle cx="75.5" cy="105.0" r="2.6"/><circle cx="161.7" cy="8.0" r="1.7"/><circle cx="128.2" cy="69.2" r="2.2"/><circle cx="84.5" cy="12.0" r="1.6"/><circle cx="150.5" cy="72.6" r="2.3"/><circle cx="104.9" cy="106.3" r="2.4"/><circle cx="23.1" cy="41.5" r="2.7"/><circle cx="6.2" cy="33.0" r="2.2"/><circle cx="0.3" cy="41.9" r="1.8"/><circle cx="138.4" cy="97.6" r="1.8"/><circle cx="89.1" cy="93.8" r="2.6"/><circle cx="37.2" cy="7.3" r="2.2"/><circle cx="33.3" cy="9.8" r="2.1"/><circle cx="17.0" cy="2.9" r="2.1"/><circle cx="12.3" cy="12.8" r="1.8"/><circle cx="91.0" cy="33.2" r="2.5"/><circle cx="0.4" cy="69.8" r="2.7"/><circle cx="156.4" cy="82.3" r="2.3"/><circle cx="150.4" cy="106.3" r="1.6"/><circle cx="65.0" cy="26.2" r="2.3"/><circle cx="14.4" cy="109.8" r="2.6"/><circle cx="40.2" cy="110.4" r="1.9"/><circle cx="121.1" cy="93.4" r="2.5"/><circle cx="7.3" cy="101.1" r="1.8"/><circle cx="12.4" cy="89.7" r="1.9"/><circle cx="6.4" cy="108.1" r="2.1"/><circle cx="8.0" cy="18.7" r="2.1"/><circle cx="74.5" cy="18.0" r="1.7"/><circle cx="17.2" cy="40.3" r="2.8"/><circle cx="11.4" cy="64.3" r="2.4"/><circle cx="123.7" cy="56.6" r="2.5"/><circle cx="95.7" cy="27.4" r="1.6"/><circle cx="79.7" cy="68.9" r="2.6"/><circle cx="155.5" cy="58.8" r="1.9"/><circle cx="164.7" cy="44.3" r="2.1"/><circle cx="103.0" cy="80.8" r="2.2"/><circle cx="17.9" cy="93.5" r="1.5"/><circle cx="138.3" cy="12.8" r="2.3"/><circle cx="112.2" cy="45.6" r="2.4"/><circle cx="28.3" cy="24.4" r="2.6"/><circle cx="23.6" cy="103.7" r="2.2"/><circle cx="136.7" cy="82.2" r="2.7"/><circle cx="31.2" cy="80.6" r="2.0"/><circle cx="44.9" cy="54.6" r="3.0"/><circle cx="3.9" cy="102.5" r="1.7"/><circle cx="56.7" cy="76.5" r="2.3"/><circle cx="20.0" cy="22.8" r="2.2"/><circle cx="126.3" cy="80.9" r="2.7"/><circle cx="101.7" cy="42.5" r="2.7"/><circle cx="105.3" cy="101.8" r="2.1"/><circle cx="139.1" cy="88.5" r="1.8"/><circle cx="75.4" cy="50.5" r="2.7"/><circle cx="150.9" cy="32.8" r="2.9"/><circle cx="89.1" cy="23.2" r="2.2"/><circle cx="76.1" cy="25.4" r="1.9"/><circle cx="145.0" cy="102.7" r="2.1"/><circle cx="57.8" cy="89.7" r="2.3"/><circle cx="134.7" cy="100.3" r="2.6"/><circle cx="125.2" cy="25.4" r="2.8"/><circle cx="105.8" cy="28.9" r="2.3"/><circle cx="81.2" cy="4.8" r="2.5"/><circle cx="1.0" cy="102.8" r="1.7"/><circle cx="77.2" cy="55.7" r="3.0"/><circle cx="106.1" cy="2.3" r="2.2"/><circle cx="112.2" cy="79.0" r="2.8"/><circle cx="9.0" cy="91.1" r="2.4"/><circle cx="86.1" cy="58.4" r="2.2"/><circle cx="49.9" cy="3.4" r="2.7"/><circle cx="36.3" cy="23.6" r="2.3"/><circle cx="134.2" cy="70.2" r="1.6"/><circle cx="161.0" cy="19.8" r="2.3"/><circle cx="131.9" cy="75.9" r="2.0"/><circle cx="77.2" cy="79.6" r="2.3"/><circle cx="28.1" cy="81.3" r="2.0"/><circle cx="43.1" cy="58.7" r="2.1"/><circle cx="113.2" cy="24.9" r="2.8"/><circle cx="162.0" cy="12.5" r="2.3"/><circle cx="151.5" cy="110.2" r="2.6"/><circle cx="135.4" cy="51.1" r="2.3"/><circle cx="131.5" cy="71.3" r="1.9"/><circle cx="165.2" cy="77.4" r="2.4"/><circle cx="21.5" cy="62.0" r="2.2"/><circle cx="13.5" cy="60.4" r="2.1"/><circle cx="18.4" cy="53.8" r="1.9"/><circle cx="135.7" cy="2.8" r="2.2"/><circle cx="58.7" cy="8.2" r="1.8"/><circle cx="54.0" cy="42.2" r="2.7"/><circle cx="4.0" cy="36.0" r="2.1"/><circle cx="114.3" cy="50.8" r="2.8"/><circle cx="20.9" cy="44.7" r="2.1"/><circle cx="3.6" cy="18.0" r="2.1"/><circle cx="71.2" cy="16.6" r="2.9"/><circle cx="92.3" cy="14.4" r="2.6"/><circle cx="128.4" cy="94.3" r="2.2"/><circle cx="139.4" cy="85.5" r="2.2"/><circle cx="101.5" cy="98.2" r="2.3"/><circle cx="19.4" cy="5.4" r="2.0"/><circle cx="56.9" cy="107.9" r="2.9"/><circle cx="77.3" cy="63.1" r="2.4"/><circle cx="41.4" cy="61.1" r="1.8"/><circle cx="130.5" cy="61.6" r="2.3"/><circle cx="7.3" cy="38.4" r="2.5"/><circle cx="67.8" cy="14.2" r="3.1"/><circle cx="7.1" cy="77.2" r="2.4"/><circle cx="2.2" cy="32.5" r="1.9"/><circle cx="100.7" cy="88.9" r="2.7"/><circle cx="46.3" cy="8.1" r="2.1"/><circle cx="121.8" cy="113.2" r="1.7"/><circle cx="30.9" cy="113.1" r="2.6"/><circle cx="13.8" cy="114.0" r="2.1"/><circle cx="124.1" cy="114.8" r="1.9"/><circle cx="10.0" cy="113.4" r="2.4"/><circle cx="132.0" cy="113.3" r="2.1"/><circle cx="21.9" cy="113.0" r="2.5"/><circle cx="102.7" cy="114.9" r="2.0"/><circle cx="61.1" cy="112.5" r="2.8"/><circle cx="127.3" cy="114.3" r="2.1"/><circle cx="56.1" cy="113.9" r="2.2"/><circle cx="148.7" cy="113.9" r="2.4"/><circle cx="43.6" cy="112.3" r="2.6"/><circle cx="69.8" cy="114.5" r="2.9"/><circle cx="6.5" cy="112.4" r="2.1"/><circle cx="37.9" cy="113.4" r="2.5"/><circle cx="144.7" cy="114.8" r="2.4"/><circle cx="157.2" cy="111.9" r="2.8"/><circle cx="99.0" cy="112.3" r="2.5"/><circle cx="89.2" cy="113.9" r="2.6"/><circle cx="164.0" cy="113.4" r="2.3"/><circle cx="94.4" cy="113.4" r="2.4"/><circle cx="17.0" cy="114.9" r="2.4"/><circle cx="106.1" cy="114.3" r="2.2"/><circle cx="135.7" cy="114.8" r="2.3"/><circle cx="170.6" cy="0.0" r="2.3"/><circle cx="169.3" cy="59.1" r="2.3"/><circle cx="168.3" cy="4.5" r="2.2"/><circle cx="170.0" cy="39.1" r="2.1"/><circle cx="170.7" cy="96.3" r="1.7"/><circle cx="169.0" cy="75.8" r="2.4"/><circle cx="169.4" cy="94.1" r="1.6"/><circle cx="167.9" cy="35.7" r="2.1"/><circle cx="169.5" cy="12.6" r="1.9"/><circle cx="170.6" cy="112.0" r="2.1"/><circle cx="168.6" cy="44.6" r="1.8"/><circle cx="169.7" cy="80.2" r="2.3"/><circle cx="169.9" cy="25.8" r="2.2"/><circle cx="169.7" cy="55.3" r="2.2"/><circle cx="170.2" cy="99.6" r="1.7"/><circle cx="168.7" cy="52.1" r="1.8"/><circle cx="170.8" cy="107.2" r="2.0"/><circle cx="168.3" cy="41.9" r="1.7"/><circle cx="168.4" cy="69.8" r="3.0"/><circle cx="169.0" cy="102.8" r="2.0"/><circle cx="170.2" cy="32.5" r="1.8"/></g></defs>
<svg x="335.8" y="407.6" width="167.2" height="111.2" viewBox="0 0 167.2 111.2" overflow="hidden">
<rect width="167.2" height="111.2" fill="#000"/>
<use href="#cl" transform=""/>
<ellipse cx="126.8" cy="60.5" rx="3" ry="2.5" transform="rotate(144.2 126.8 60.5)" fill="#000"/>
<ellipse cx="129.8" cy="63.5" rx="4.1" ry="3.2" transform="rotate(108.7 129.8 63.5)" fill="#000"/>
<ellipse cx="134" cy="64.1" rx="4.3" ry="3.6" transform="rotate(127.3 134 64.1)" fill="#000"/>
<ellipse cx="138.7" cy="61.6" rx="2.6" ry="2.4" transform="rotate(63.6 138.7 61.6)" fill="#000"/>
<ellipse cx="36" cy="79.9" rx="3.1" ry="1.8" transform="rotate(83.1 36 79.9)" fill="#000"/>
<ellipse cx="39.5" cy="78.9" rx="4.1" ry="2.2" transform="rotate(146 39.5 78.9)" fill="#000"/>
<ellipse cx="43.4" cy="75.7" rx="3.3" ry="3" transform="rotate(175.4 43.4 75.7)" fill="#000"/>
<ellipse cx="20.6" cy="52.3" rx="2.5" ry="2.6" transform="rotate(12.8 20.6 52.3)" fill="#000"/>
<ellipse cx="23.6" cy="56.6" rx="4" ry="2.7" transform="rotate(165.8 23.6 56.6)" fill="#000"/>
<ellipse cx="25.9" cy="59.9" rx="2.5" ry="3.3" transform="rotate(27 25.9 59.9)" fill="#000"/>
<ellipse cx="47.2" cy="79.6" rx="2.3" ry="3" transform="rotate(77.7 47.2 79.6)" fill="#000"/>
<ellipse cx="47.3" cy="85" rx="4" ry="3.2" transform="rotate(123.1 47.3 85)" fill="#000"/>
<ellipse cx="45.6" cy="88.7" rx="4.5" ry="3.2" transform="rotate(150.4 45.6 88.7)" fill="#000"/>
<ellipse cx="47.1" cy="92.3" rx="3" ry="3.4" transform="rotate(99.8 47.1 92.3)" fill="#000"/>
<ellipse cx="78.6" cy="50.9" rx="4.2" ry="3.5" transform="rotate(143.7 78.6 50.9)" fill="#000"/>
<ellipse cx="75.2" cy="53.1" rx="2.9" ry="2" transform="rotate(174.3 75.2 53.1)" fill="#000"/>
<ellipse cx="19.7" cy="45.1" rx="3.1" ry="2.6" transform="rotate(178.8 19.7 45.1)" fill="#000"/>
<ellipse cx="21.1" cy="48.5" rx="3.1" ry="2.6" transform="rotate(56.6 21.1 48.5)" fill="#000"/>
<ellipse cx="26.1" cy="50.8" rx="2.4" ry="3.1" transform="rotate(98.2 26.1 50.8)" fill="#000"/>
<ellipse cx="28.5" cy="55" rx="2.4" ry="1.8" transform="rotate(15.6 28.5 55)" fill="#000"/>
<ellipse cx="32" cy="43.8" rx="3.9" ry="3" transform="rotate(142.1 32 43.8)" fill="#000"/>
<ellipse cx="33.9" cy="47" rx="4.1" ry="3.3" transform="rotate(92.8 33.9 47)" fill="#000"/>
<ellipse cx="32.1" cy="101.9" rx="4.2" ry="3" transform="rotate(112.6 32.1 101.9)" fill="#000"/>
<ellipse cx="30.8" cy="105.3" rx="2.4" ry="3" transform="rotate(108.6 30.8 105.3)" fill="#000"/>
<ellipse cx="31.6" cy="110.5" rx="4.3" ry="3.2" transform="rotate(22.5 31.6 110.5)" fill="#000"/>
<ellipse cx="29.6" cy="114.2" rx="4.1" ry="3.2" transform="rotate(112.2 29.6 114.2)" fill="#000"/>
<ellipse cx="87.3" cy="62.4" rx="4.2" ry="3.5" transform="rotate(132 87.3 62.4)" fill="#000"/>
<ellipse cx="91" cy="64.8" rx="3.9" ry="2.8" transform="rotate(60.2 91 64.8)" fill="#000"/>
<ellipse cx="96.2" cy="65.4" rx="2.5" ry="3.3" transform="rotate(177 96.2 65.4)" fill="#000"/>
<path d="M11.2 11.3L9.5 10.5L9.2 6.9L11.3 6.3L12.8 9.2ZM17.8 17.4L17.3 15.7L19.2 13.8L20.5 14.1L21.7 16.1L21.5 17L18.6 18.1ZM2.4 23.8L1.7 20.8L4.1 19.6L5.3 21.6L4.1 23.6ZM70 10.8L69.5 11.9L66.8 12.2L65.5 11.5L65.3 10L67.3 8.9L69 9.6ZM134.9 7.8L131.9 8.9L129.4 8L129.6 6.1L132.7 5.4ZM114.7 16.4L112.8 16.7L110.7 15.4L110.1 13.7L111.1 12.3L113.6 13.3L114.4 14.1ZM142.8 21.6L140.7 22.2L139.2 21.6L138.1 20.2L138.8 18.7L141.3 18.4L142.4 19.6ZM149.3 31.4L148.2 29.7L150.1 27L151.5 27.2L152.1 28.8L150.5 31.2ZM144.5 38.5L142.3 38.7L140.8 36.9L141.6 34.9L144.7 36.5ZM55.1 30.4L52.5 30.9L51.5 29L52.5 27L54.8 27.2L55.8 29.3ZM39.3 34.4L37.2 33L36.2 30.8L37.5 29.1L40.8 29.1L41.6 31.1L40.8 33.1ZM34.9 35.8L33.7 37.7L32.2 37.9L30.2 36.2L31.1 34.3L31.9 33.8L33.9 34.1ZM66.5 29.8L64.2 29.9L62.8 27.6L63.5 25.1L65.3 25.6L66.7 28.5ZM81.6 31.9L79.1 32.1L77 30.6L78 28.8L80.9 29.5ZM90.4 28.4L90.9 26.4L93.1 25.7L94.6 26.6L94.6 28L92 29.6ZM100.1 40.4L100.1 38.5L100.8 37.2L102.7 36.4L103.8 37.8L103.1 39.2L101.6 40.1ZM159.6 54.1L157.9 55L156.5 55L154.8 53L155 52.1L156.8 51.7L159 52.6ZM17.9 56.3L15.7 56.2L15 52.9L16.3 51.5L19.2 52.4L19.7 54.3ZM18.9 64.3L17.7 65.3L16.1 64.8L14.9 63L15.9 62.1L17.5 62.2L18.8 63.1ZM64.7 61.4L63.8 59.4L64.8 57.2L66.4 57.6L66.6 59.9ZM72.5 65.7L70.4 65.1L69.5 63.2L70 61.4L71.3 60.7L72.9 62.1L73.3 64.3ZM129.2 61.9L129.2 59.3L131.7 58.3L133.3 60.2L131.8 61.8ZM60 70.5L57.1 70.6L56.2 67.3L58.4 66.3L60.4 68.4ZM51.7 76.2L51.5 73.9L52.8 72.3L54.8 73.2L54.1 75.3ZM5.3 77.3L5.4 75.8L6.5 74.4L8.7 73.9L9.4 75L9 75.9L6.5 77.8ZM34.7 82.6L34.4 80.9L36.2 79.9L37.5 79.8L38.3 81.4L37.9 83.3L35.6 83.6ZM51.9 87.8L49.9 90L47.3 89.3L47.1 86.5L49 85.1L51.4 86.4ZM115.1 84L113.5 82.4L113.4 81.1L115.3 79.4L116.9 80.8L117.1 82.4ZM122.7 84.5L123.6 81.6L125.5 81L127.3 82.3L126.7 84.6L124.9 85ZM141 87.8L139.6 86.5L139.2 84.3L140.9 82.4L142.6 82.7L143.8 84.7L142.9 87.2ZM91.3 87.1L90.5 85.8L91.5 83.4L93.3 82.8L94.3 85.1L93 87.1ZM92.9 94.5L91.3 93.5L91.5 90.7L93 90.5L93.9 93.2ZM74.7 94.6L74.7 92.8L76 92L78.1 91.4L79.4 92.2L78.5 94.4L77.2 95.4ZM158.5 93.2L157.2 91.6L158.1 89.5L160.1 88.7L162 89.8L162 91.8L160 93.3ZM18.6 98.2L18.6 96.6L19.7 94.8L22.9 94.1L23.4 95.3L22.9 96.8L20.7 98.2ZM140.5 101.6L141.2 99.7L143 99.1L144.2 99.4L144.7 101.1L143.1 102.2L141.8 102.4ZM140.5 105.2L139.3 105.7L137.8 104L137.5 102.2L138.1 101.3L140 102.5L140.8 104.3Z" fill="none" stroke="#f2f2f2" stroke-width="0.55" stroke-linejoin="round"/>
<path d="M69.1 7.2h0M71.4 13.1h0M106.2 10.7h0M111.4 10.7h0M113.8 13.1h0M116.4 16.6h0M59.7 19.8h0M49.5 21.8h0M53 28.2h0M51 32h0M31.7 32.9h0M34.6 32h0M92.2 29.1h0M99.7 36.4h0M141.5 38.5h0M13.9 55.4h0M61.8 60.4h0M74.3 61.8h0M156.7 58.9h0M56.8 69.4h0M51 72.9h0M37.3 78.2h0M48.1 84.6h0M92.4 84h0M89.8 91.3h0M22.4 95.7h0M161.1 80.2h0M164 77.9h0M165.4 78.8h0" stroke="#0a14ff" stroke-width="2.8" stroke-linecap="round" fill="none"/>
</svg>
<svg x="507" y="407.6" width="167" height="111.2" viewBox="0 0 167 111.2" overflow="hidden">
<rect width="167" height="111.2" fill="#000"/>
<use href="#cl" transform="translate(168 0) scale(-1 1)"/>
<ellipse cx="98.7" cy="81.3" rx="2.6" ry="2.6" transform="rotate(92.3 98.7 81.3)" fill="#000"/>
<ellipse cx="103.2" cy="84" rx="3.2" ry="3.2" transform="rotate(82.4 103.2 84)" fill="#000"/>
<ellipse cx="105.4" cy="87.8" rx="4" ry="3.4" transform="rotate(83.3 105.4 87.8)" fill="#000"/>
<ellipse cx="70.2" cy="102.2" rx="3.7" ry="2.9" transform="rotate(132.5 70.2 102.2)" fill="#000"/>
<ellipse cx="72.9" cy="98.8" rx="3.9" ry="3.4" transform="rotate(136.4 72.9 98.8)" fill="#000"/>
<ellipse cx="57.6" cy="56.2" rx="3.3" ry="3.3" transform="rotate(27.8 57.6 56.2)" fill="#000"/>
<ellipse cx="56.8" cy="60.4" rx="3.5" ry="2" transform="rotate(26 56.8 60.4)" fill="#000"/>
<ellipse cx="57.4" cy="64.3" rx="4.4" ry="2.7" transform="rotate(123.4 57.4 64.3)" fill="#000"/>
<ellipse cx="45.2" cy="71.5" rx="3.1" ry="2.8" transform="rotate(49.3 45.2 71.5)" fill="#000"/>
<ellipse cx="44.2" cy="66.7" rx="3.5" ry="2.2" transform="rotate(21.5 44.2 66.7)" fill="#000"/>
<ellipse cx="35.2" cy="84.9" rx="2.7" ry="3.5" transform="rotate(160.6 35.2 84.9)" fill="#000"/>
<ellipse cx="34.4" cy="89.5" rx="4.6" ry="3.1" transform="rotate(37.1 34.4 89.5)" fill="#000"/>
<ellipse cx="31.9" cy="92.2" rx="3.2" ry="3.6" transform="rotate(124.4 31.9 92.2)" fill="#000"/>
<ellipse cx="146.8" cy="79.5" rx="3.7" ry="2.2" transform="rotate(146.3 146.8 79.5)" fill="#000"/>
<ellipse cx="147.5" cy="84.1" rx="3.8" ry="3.1" transform="rotate(85.8 147.5 84.1)" fill="#000"/>
<ellipse cx="147.6" cy="88.1" rx="4.1" ry="2.9" transform="rotate(34.6 147.6 88.1)" fill="#000"/>
<ellipse cx="150.4" cy="90.5" rx="3.7" ry="2.7" transform="rotate(151.5 150.4 90.5)" fill="#000"/>
<ellipse cx="49.2" cy="45.3" rx="4.5" ry="2.8" transform="rotate(72.5 49.2 45.3)" fill="#000"/>
<ellipse cx="49.6" cy="49" rx="3.7" ry="2.4" transform="rotate(91 49.6 49)" fill="#000"/>
<ellipse cx="49.1" cy="52.9" rx="4.5" ry="2.2" transform="rotate(12.8 49.1 52.9)" fill="#000"/>
<ellipse cx="20.6" cy="16.1" rx="2.2" ry="2.7" transform="rotate(24.9 20.6 16.1)" fill="#000"/>
<ellipse cx="24.4" cy="12.6" rx="3" ry="3.2" transform="rotate(74.6 24.4 12.6)" fill="#000"/>
<ellipse cx="27.6" cy="10.3" rx="3.7" ry="3.2" transform="rotate(80.3 27.6 10.3)" fill="#000"/>
<ellipse cx="29.7" cy="24.3" rx="3.5" ry="3.1" transform="rotate(71.6 29.7 24.3)" fill="#000"/>
<ellipse cx="31" cy="28.3" rx="3.3" ry="2.5" transform="rotate(127.6 31 28.3)" fill="#000"/>
<path d="M24.4 7.4L23.1 5.1L25.3 3.2L27.4 4.3L27.1 6.9ZM48.7 12.9L48.4 10L51.1 8.9L52.9 10.7L50.8 13.5ZM55.3 17.7L54.7 16.3L56 14.1L57.9 13.7L59.1 14.7L58.9 16.7L56.7 18.5ZM69.5 13.4L69.9 11.4L71.1 10.3L73.5 10.7L74.4 11.6L72.7 13.6L70.8 14ZM76 14.6L74.5 16.1L72.8 15.6L71.9 13.5L73 12.2L74.2 12L76.1 13.9ZM111.7 2.6L110 4.3L107.5 3.7L106.5 2.1L108 -0.6L110.1 -0.3ZM47 20.8L47.6 18.7L49.9 17.6L52.2 18.6L51.7 21.6L48.9 23ZM29.6 28.1L27.8 29L26.2 27.6L27.5 24.9L29.8 25.5ZM50.1 31.3L48 31.4L46.7 29.2L48.2 27.5L50.3 27.9L50.9 29.6ZM88.3 16.4L88.9 14.7L90.2 13.9L92.2 15L92.3 16.6L90.8 18.3L89.6 18.3ZM98.9 23.7L97.8 21.7L99.2 19.7L101.2 20.1L100.9 22.4ZM151.7 15.6L150.4 15.1L149.3 13.3L150.2 11.7L151.9 12.1L152.6 13.8ZM158.7 14.8L157.5 16L154.7 15.5L153.6 14.4L154.1 12.7L155.9 11.6L158.3 12.5ZM161 18L161.7 16.7L163.8 16.2L164.8 17.1L164 18.6L162.3 18.8ZM152.3 26.4L150.7 28.2L149.1 28.4L147.7 27.5L147.9 24.7L149.5 23.9L151.2 24.5ZM130.3 36.2L130.7 33.9L132.6 33.8L134.4 35.2L133.7 36.8L131.5 37.6ZM33.2 38.6L34.5 36.3L36.4 36.3L37.4 38.4L35.2 39.5ZM46.5 41.9L46.1 40.3L47.7 38.3L49.6 38.6L50.4 41.3L49 42.9ZM28.8 41.5L27.9 40.3L28 38.1L29.4 36.9L30.5 37.5L31.1 38.8L30 40.7ZM72.6 48L71.7 45.9L73.1 43.8L75.6 44.5L76.3 45.9L74.6 47.9ZM83.3 56.6L80 57.4L78.6 54.8L79.1 53.1L82.4 53.8ZM74.8 63.1L73.3 63.4L71.7 62.1L71.9 59.9L73.8 59.7L75 61.6ZM3 62.9L3.5 61.7L5.3 61L7.3 61.6L7.4 63.8L5.8 64.9L3.5 64.7ZM41.4 58.3L40 60.3L37.5 60.2L36.8 58.1L37.6 56.6L39.8 56.7ZM145.4 56.1L143.2 56.1L141.9 55L142 52.9L144 51.4L146.1 52.5L146.7 53.7ZM27.8 69.6L28.2 67.2L31 65.9L32.1 67.7L30.6 70.5ZM55.9 75.2L54.6 74.5L54.2 72L55 70.5L56.3 71L57 71.7L57.1 74ZM66.8 74.6L66.2 73.6L66.8 71.8L68.2 71L69.2 71.5L69.4 72.8L67.9 74.6ZM80.2 73.9L80.9 72L83.8 72.3L84.2 74L81.9 75ZM109.1 79.5L107.4 77.5L108.1 75.4L110.6 74.3L111.8 76.4L111.1 78.7ZM141.6 80.2L140.1 80.9L138.6 79.9L137.9 77.4L139 76.2L141 76.4L142.5 78.1ZM13 77.7L13.1 76.4L15.5 75.7L16.3 76.8L14.4 78.3ZM22 86.4L19.2 87.5L17.1 84.4L18.9 82.9L22.4 83.7ZM27.9 83.5L27.8 84.6L25.9 85.3L24.2 84.2L24.1 82L24.9 81.2L27.3 81.3ZM28.5 88.3L27.1 88L26.7 85.5L27.9 84.1L29.4 85L29.4 87.7ZM33.7 100.5L32.4 101.6L30.3 101L29.3 99.4L30.3 98.3L31.8 98.1L33.2 98.9ZM45.3 97.4L43.6 97.9L41.3 96.8L40.7 94.9L41.2 94.1L42.9 93.8L45.1 95.4ZM54.5 94.9L51.9 93.8L52.1 90.8L53.9 89.9L56.2 91.9ZM56.9 106.9L55.6 107L53.8 104.7L54.3 102.7L56 103L57.6 105.6ZM66.3 105.7L65.5 107.4L62.9 107.5L61.2 106.5L61.7 104.5L62.8 104.1L66.3 104.7ZM84 102.2L82 100.6L82.4 98.2L84.1 98L84.9 100.4ZM8.1 90.4L6.3 90.3L5.5 88L6.5 86.9L7.9 86.7L8.6 89.3Z" fill="none" stroke="#f2f2f2" stroke-width="0.55" stroke-linejoin="round"/>
<path d="M24.6 6.7h0M50.5 4h0M51.1 10.2h0M57 16.7h0M75.9 2.7h0M85.6 2.7h0M119.1 1.8h0M121.3 6.7h0M140.2 10.8h0M139.6 17.5h0M151 10.8h0M161.8 13.5h0M165.8 8.1h0M88.9 15.6h0M91.6 16.7h0M98.3 16.2h0M95.1 21.6h0M97 24.3h0M85.4 20.2h0M86.2 24.8h0M53 25.6h0M55.7 27h0M58.4 25.6h0M57 28.8h0M64.6 27h0M68.1 31.5h0M28.1 28.3h0M16 34.5h0M13.3 39.1h0M14.1 41.3h0M45.1 38.3h0M48.4 39.1h0M30.8 43.2h0M24.1 44.5h0M21.4 48h0M25.4 49.4h0M26.8 52.6h0M27.3 55.3h0M56.5 49.9h0M57.8 52.6h0M73.2 44.5h0M75.9 46.4h0M131.3 31.8h0M151.5 25.6h0M165.3 28.3h0M141.5 45.1h0M142.9 53.4h0M140.7 55.3h0M145.6 57.5h0M10.6 60.7h0M13.3 62.1h0M6.5 64.8h0M37.6 58h0M76.7 58h0M82.1 57.2h0M30 68.8h0M54.6 71.5h0M57.8 73.4h0M66.7 74.2h0M72.1 71.5h0M86.7 78.3h0M115.3 80.4h0M140.2 78.3h0M144.2 79.6h0M12.7 76.9h0M16 76.9h0M6.5 81.8h0M5.2 86.4h0M7.9 88.5h0M9.2 90.4h0M17.3 87.7h0M18.7 90.4h0M20 85h0M23.2 93.1h0M24.9 95.8h0M23.2 99.9h0M25.4 100.4h0M33.5 100.4h0M43 97.2h0M53 100.4h0M57.8 98.5h0M62.7 103.9h0M68.6 107.4h0M83.5 102h0M86.2 100.4h0M82.1 109.3h0M52.4 4.3h0M52.5 11.2h0M121.4 9.3h0M141.3 17.1h0M159.7 13h0M86.6 14.8h0M96.6 17.1h0M95.4 19.8h0M82.8 20.4h0M52.7 23.8h0M69.1 33.2h0M26.5 26.6h0M16.4 41.7h0M32.5 42.6h0M25.5 54.8h0M57.8 54.6h0M75.4 44.7h0M132.4 33.9h0M139.5 43.6h0M145 53.3h0M5.3 65.9h0M80 56.9h0M116.4 82.4h0M142.9 80.8h0M15.5 78.2h0M8.3 83h0M4.4 84.8h0M7.1 86.1h0M21 98.9h0M81.6 103.7h0" stroke="#ff1414" stroke-width="3.1" stroke-linecap="round" fill="none"/>
</svg>
<svg x="335.8" y="524" width="167.2" height="111.1" viewBox="0 0 167.2 111.1" overflow="hidden">
<rect width="167.2" height="111.1" fill="#000"/>
<use href="#cl" transform="translate(0 112) scale(1 -1)"/>
<ellipse cx="116.5" cy="14.5" rx="3.4" ry="3" transform="rotate(63.4 116.5 14.5)" fill="#000"/>
<ellipse cx="119.6" cy="18" rx="3.5" ry="2.7" transform="rotate(24.1 119.6 18)" fill="#000"/>
<ellipse cx="123.2" cy="20.8" rx="2.6" ry="2" transform="rotate(110.4 123.2 20.8)" fill="#000"/>
<ellipse cx="32.1" cy="25" rx="2.7" ry="1.9" transform="rotate(56.5 32.1 25)" fill="#000"/>
<ellipse cx="32.4" cy="29.2" rx="3.7" ry="3" transform="rotate(120.6 32.4 29.2)" fill="#000"/>
<ellipse cx="33.6" cy="33.9" rx="4.4" ry="2" transform="rotate(89.7 33.6 33.9)" fill="#000"/>
<ellipse cx="33.1" cy="38.2" rx="2.3" ry="2" transform="rotate(161.8 33.1 38.2)" fill="#000"/>
<ellipse cx="54.7" cy="94.8" rx="2.6" ry="2.1" transform="rotate(156.1 54.7 94.8)" fill="#000"/>
<ellipse cx="58" cy="98.7" rx="2.3" ry="3" transform="rotate(3.7 58 98.7)" fill="#000"/>
<ellipse cx="63.1" cy="100.2" rx="3.3" ry="2.1" transform="rotate(83.4 63.1 100.2)" fill="#000"/>
<ellipse cx="143.4" cy="34.7" rx="2.5" ry="3.2" transform="rotate(136.8 143.4 34.7)" fill="#000"/>
<ellipse cx="147.7" cy="36.8" rx="3.7" ry="1.8" transform="rotate(112.4 147.7 36.8)" fill="#000"/>
<ellipse cx="152.9" cy="38.3" rx="2.8" ry="1.9" transform="rotate(125.3 152.9 38.3)" fill="#000"/>
<ellipse cx="156.9" cy="36.4" rx="4.3" ry="2.5" transform="rotate(15.4 156.9 36.4)" fill="#000"/>
<ellipse cx="118.4" cy="45.8" rx="4.5" ry="3.2" transform="rotate(45.1 118.4 45.8)" fill="#000"/>
<ellipse cx="115" cy="42.9" rx="4.4" ry="3.1" transform="rotate(134.7 115 42.9)" fill="#000"/>
<ellipse cx="115.2" cy="38.6" rx="2.5" ry="3.5" transform="rotate(82.1 115.2 38.6)" fill="#000"/>
<ellipse cx="116.1" cy="33.6" rx="2.6" ry="2.8" transform="rotate(62.8 116.1 33.6)" fill="#000"/>
<ellipse cx="27.4" cy="51.5" rx="4.6" ry="2.6" transform="rotate(167.2 27.4 51.5)" fill="#000"/>
<ellipse cx="32.1" cy="53.7" rx="2.9" ry="3" transform="rotate(143.2 32.1 53.7)" fill="#000"/>
<ellipse cx="97.6" cy="9.4" rx="3.1" ry="2.3" transform="rotate(178.3 97.6 9.4)" fill="#000"/>
<ellipse cx="100.5" cy="13.1" rx="2.8" ry="3" transform="rotate(31.4 100.5 13.1)" fill="#000"/>
<ellipse cx="66.8" cy="67.4" rx="3.1" ry="3.5" transform="rotate(68.4 66.8 67.4)" fill="#000"/>
<ellipse cx="67.8" cy="72.7" rx="3.4" ry="3.5" transform="rotate(106.1 67.8 72.7)" fill="#000"/>
<ellipse cx="37.9" cy="82.8" rx="2.8" ry="2" transform="rotate(127 37.9 82.8)" fill="#000"/>
<ellipse cx="35.9" cy="78.1" rx="4.2" ry="2.9" transform="rotate(120.3 35.9 78.1)" fill="#000"/>
<path d="M5.1 6.9L6.1 4.5L8.2 4L10.6 6.6L9.4 8.4L7.2 8.9ZM44.8 5.5L43.6 6.4L42 6.3L41 4.7L41.8 3.5L44.3 4ZM152.1 2.7L150 2.5L148.7 -0.9L150.2 -1.7L152.9 0.4ZM160.1 10.8L161.5 8.7L164.3 8.9L164.5 12L161.9 13.4ZM19.5 25.7L17.9 26L16.2 24.2L16.5 22.6L18.7 22.3L19.7 23.2ZM43.6 28.5L43.7 26.3L45.6 25.1L46.9 26.3L45.5 28.5ZM45 34.4L42.7 34.9L41.2 33.2L41.7 30.9L44.1 30.7L45.6 31.8ZM46.6 21L47.2 19L49.3 18.3L50.5 20.6L49 22ZM136.9 22.7L135.7 24.2L133.7 24L132.7 23.2L132.9 21.5L134.8 20.6L136.5 21.1ZM65.5 32.3L64 32.9L62.3 31.8L62.5 30L64.4 29.8L65.8 31.2ZM72.2 37.6L70.1 36.3L70.1 34.5L71.6 33.9L72.9 36.2ZM55.3 44.2L53.4 44.5L51.8 42.6L52.4 41.3L54.8 42.3ZM85 48L83.3 46.9L83.8 44.4L85.8 43.6L87 44.7L87 47ZM99.4 46.5L97.8 46.4L96.2 44.3L97.6 41.8L98.9 42.4L100.3 44.8ZM126.4 36.6L127.9 34.4L130.4 33.8L131.1 35.2L129.6 37.3ZM153.1 38.5L152.2 39.4L150.6 39.8L148.3 38.3L148.5 37.1L150.1 36L152.5 36.7ZM158.5 42.3L157.1 41.7L156.4 39.4L157.4 38.2L158.3 37.7L159.7 39.4L159.6 41.1ZM110.8 51.6L109.8 50.7L109.6 48.2L110.9 46.3L112.4 46.6L113.1 48.6L112.3 50.7ZM122.9 55.7L120.8 57.9L118 56.8L118 55.1L120.7 53.9ZM131 55.6L129.4 54.2L129.4 51.7L131.5 49.9L133.5 50.4L134.3 52.9L133.6 54.3ZM145.5 53L143.1 54L141.1 51.8L142.9 49.6L145 49.9ZM154.2 45.9L154.7 44.5L156.7 44.5L158 44.9L158.3 46.4L156.9 47.2L154.8 47.4ZM156.4 56.4L155.9 54.7L158.4 52.2L160.3 53.4L159.5 56.2ZM25 53.5L23.3 52.3L23.3 49.5L24.9 48L27.1 49.4L27.3 52ZM41.5 60L39.7 60.5L38.2 59L37.8 57.7L38.7 56.4L41 56.9L41.9 58.3ZM43.7 62.1L44.4 60L47.1 59.9L47.9 61.4L45.2 63.2ZM57.1 57.1L56 57.8L53.9 57.9L52.1 56.2L52.4 54.8L54.1 54L56 54.5ZM72.5 54.6L74.3 52.1L76.6 52.4L77.1 54.1L74.4 55.4ZM99.9 64.5L99.1 62.3L100.1 60.5L102.1 60.1L103.2 61.6L101.8 64.5ZM111.3 65.1L108.9 64L108.1 61.7L109.4 60.2L111.6 62.1ZM113.5 63.9L112.1 61.7L114.3 58.3L116.6 59.2L116.2 63.1ZM138.4 66.2L135.5 67.2L134.2 66.1L134.4 63.2L136.6 62.7L138 63.8ZM139.8 63.2L137.9 61.1L138.6 58.4L140.9 57.6L142.8 59.2L142.9 62ZM147.8 77.8L146.3 76.3L146.4 74L148.7 72L150.3 72.9L150.9 74.7L149.2 77.6ZM29.8 69.8L28.8 68.4L29.9 66.1L31.9 66.8L31.9 68.7ZM74.1 74.3L72.7 74.5L71.5 73.4L71.1 71.1L72.5 70.9L73.9 71.8L74.6 73.4ZM80.5 72.3L79.5 72.9L77.3 71.9L77.4 69.7L78.6 68.5L80.2 68.5L81.6 70.5ZM89.3 78.4L87.8 78.7L85.8 77.6L85.5 76.9L87 76.1L89 76.8ZM13.4 85.5L11.8 86.6L9.9 85.3L9.8 83.8L10.9 83L13 83.9ZM51.7 84L52.5 82.9L53.4 82.4L55.5 83.4L55.6 84.2L54.5 84.9L52.1 84.8ZM139.6 85.1L138.4 86.5L136.5 86.2L135.6 84.3L136.2 83.4L138.4 83.1L139.3 83.8ZM128.3 92.4L126.7 90.7L126.7 89.1L129.2 86.9L130.2 87.5L131.1 90.1L129.8 91.6ZM123.1 93.5L122.4 91.9L124.2 90.1L125.7 90L126.6 91.4L126.2 93L124.7 94.1ZM77.1 99L77.6 96.9L80.2 96.4L81.7 98.8L79.1 100.6ZM66.8 106.6L67.3 104.4L68.4 103.7L70.3 103.7L71.6 105.6L70.5 107.1L68.1 107.9ZM63.7 109.4L62.4 110.2L60.6 109.7L59.7 108.7L59.6 107.7L61.6 107.1L63.6 108ZM38.8 108.3L37.1 108.5L35.5 107.5L35.5 105.8L36.6 105.7L38.5 106.8ZM127.1 102.7L127.9 100.7L130.1 100.3L130.9 102.4L129.4 103.5ZM134.7 110.7L133.9 109.1L134.8 106.7L135.9 106.3L137.5 108.2L136.6 110.5ZM148.1 109.8L146.7 108.6L147 106.3L149.5 105.9L150.4 106.9L149.4 109.8ZM158.8 106.6L157.6 107.4L156 106.7L155.6 105.1L156.3 104.2L158.8 104.8Z" fill="none" stroke="#f2f2f2" stroke-width="0.55" stroke-linejoin="round"/>
<path d="M159.6 1.2h0M156.7 10.8h0M154.3 15.2h0M42.2 16.7h0M49.2 21.9h0M79.9 14.3h0M82.2 15.2h0M82.8 18.1h0M134.2 24h0M62.7 26.9h0M61.8 32.7h0M70.6 34.2h0M85.1 44.4h0M109.4 46.4h0M112.3 52.6h0M123.1 48.2h0M154.3 45.9h0M158.7 54.6h0M134.8 63.4h0M146.5 72.1h0M148.8 73h0M32.6 69.2h0M71.1 71.3h0M79.9 69.2h0M77 89.1h0M78.7 94h0M81.4 92h0M67 98.4h0M38.4 104.2h0M125.1 93.2h0M124 107.2h0M128.9 109.2h0M138.6 106.6h0" stroke="#0a14ff" stroke-width="2.8" stroke-linecap="round" fill="none"/>
</svg>
<svg x="507" y="524" width="167" height="111.1" viewBox="0 0 167 111.1" overflow="hidden">
<rect width="167" height="111.1" fill="#000"/>
<use href="#cl" transform="translate(168 112) scale(-1 -1)"/>
<ellipse cx="67" cy="75.4" rx="2.8" ry="2.2" transform="rotate(78 67 75.4)" fill="#000"/>
<ellipse cx="62.5" cy="72.3" rx="3.2" ry="3.6" transform="rotate(114.7 62.5 72.3)" fill="#000"/>
<ellipse cx="58.7" cy="71.6" rx="3.4" ry="2.9" transform="rotate(82.8 58.7 71.6)" fill="#000"/>
<ellipse cx="54.1" cy="70" rx="2.7" ry="3.4" transform="rotate(143.8 54.1 70)" fill="#000"/>
<ellipse cx="130" cy="19.8" rx="4.3" ry="3.3" transform="rotate(171.6 130 19.8)" fill="#000"/>
<ellipse cx="126.6" cy="23.4" rx="2.3" ry="1.9" transform="rotate(91.3 126.6 23.4)" fill="#000"/>
<ellipse cx="125.7" cy="26.7" rx="3.5" ry="2.1" transform="rotate(176.8 125.7 26.7)" fill="#000"/>
<ellipse cx="111.6" cy="70.3" rx="3.8" ry="2.1" transform="rotate(164.7 111.6 70.3)" fill="#000"/>
<ellipse cx="115.2" cy="67.9" rx="2.4" ry="2.9" transform="rotate(10.2 115.2 67.9)" fill="#000"/>
<ellipse cx="117.4" cy="63.3" rx="3.4" ry="2.2" transform="rotate(103.7 117.4 63.3)" fill="#000"/>
<ellipse cx="73.4" cy="67.3" rx="2.9" ry="2.7" transform="rotate(72.9 73.4 67.3)" fill="#000"/>
<ellipse cx="75.4" cy="62.2" rx="3.3" ry="1.9" transform="rotate(158.7 75.4 62.2)" fill="#000"/>
<ellipse cx="80.2" cy="60.7" rx="2.8" ry="2.3" transform="rotate(152.4 80.2 60.7)" fill="#000"/>
<ellipse cx="69.2" cy="67.4" rx="4.3" ry="3.3" transform="rotate(135.6 69.2 67.4)" fill="#000"/>
<ellipse cx="73.1" cy="65.4" rx="2.9" ry="2.7" transform="rotate(67.7 73.1 65.4)" fill="#000"/>
<ellipse cx="76.5" cy="63.4" rx="2.9" ry="2.7" transform="rotate(20 76.5 63.4)" fill="#000"/>
<ellipse cx="44.5" cy="33.4" rx="4.4" ry="2" transform="rotate(53.8 44.5 33.4)" fill="#000"/>
<ellipse cx="48.8" cy="30.3" rx="2.3" ry="2.2" transform="rotate(139.9 48.8 30.3)" fill="#000"/>
<ellipse cx="51.5" cy="27.8" rx="3.7" ry="2.1" transform="rotate(110.5 51.5 27.8)" fill="#000"/>
<ellipse cx="47.8" cy="43" rx="4.6" ry="2.1" transform="rotate(178.4 47.8 43)" fill="#000"/>
<ellipse cx="45.5" cy="39.9" rx="3" ry="3.2" transform="rotate(139 45.5 39.9)" fill="#000"/>
<ellipse cx="42" cy="37.5" rx="2.3" ry="1.9" transform="rotate(137.2 42 37.5)" fill="#000"/>
<ellipse cx="38" cy="38.4" rx="3.6" ry="3.1" transform="rotate(106.5 38 38.4)" fill="#000"/>
<ellipse cx="143" cy="17.8" rx="3" ry="2.1" transform="rotate(128.5 143 17.8)" fill="#000"/>
<ellipse cx="139.1" cy="15.7" rx="3.4" ry="2.6" transform="rotate(163.2 139.1 15.7)" fill="#000"/>
<ellipse cx="135" cy="13.7" rx="2.2" ry="2.3" transform="rotate(10.3 135 13.7)" fill="#000"/>
<ellipse cx="135" cy="39.6" rx="3.3" ry="2.8" transform="rotate(70.9 135 39.6)" fill="#000"/>
<ellipse cx="132.1" cy="37" rx="3.3" ry="2.2" transform="rotate(11.7 132.1 37)" fill="#000"/>
<path d="M10.7 12.7L9 11.4L9.1 9.2L9.9 7.7L11.2 7.7L12.3 9.9L11.8 11.5ZM31.5 7.1L31.9 5.4L33.9 4.3L37 6L36.3 7.9L34.8 9L32.7 9ZM46.3 11.9L46.9 10.1L49.8 7.8L51.5 9.6L50 12.1ZM63.3 13.2L62.7 11.6L64.1 9.7L65.7 10L66.7 12.1L64.4 13.8ZM107.7 7.5L107.3 5.5L109.6 4.2L111.1 6.5L109.3 8.3ZM86.2 22.7L84.7 23.7L83.7 23.8L82.1 23.1L81.8 21.7L83.8 21L85.8 21.7ZM114 23.8L112.8 22.5L114.1 19.7L116.6 19.4L117.8 21.7L116.6 23.8ZM49.6 28.9L47.7 28.1L47.2 25.5L49 24.1L50.8 25.4L51 27.8ZM102.5 37.4L100.5 36.2L100 33.8L100.5 32.1L102.1 32.1L103.8 33.7L103.7 35.7ZM110.1 34.5L107.7 35.1L106 34.1L105.7 31.4L107.5 31.1L109.8 32.3ZM158.2 24.5L156.1 25L154.3 22.8L154.1 20.8L155.3 20.2L158.1 21.3L158.6 22.9ZM28.2 51.7L27.6 49.8L29.4 48.3L31.1 48.7L30.8 50.6L30 51.6ZM45.9 54L43.8 52.8L43.5 50.5L45.5 49.3L46.9 51.6ZM25.2 60.3L23.4 60.6L21.9 59.6L22.6 57.4L23.5 57L25.2 58.6ZM4.5 64.5L4.7 63.5L7 62.6L8.7 63.7L8.1 65.4L7.2 66L5.6 66ZM45.4 65.4L44 63.8L44.3 62.1L46.5 60.2L48.1 61L48.3 62.9L47.9 64.7ZM51.6 73.8L48.5 74.3L47.3 71.7L48.4 69.2L52.2 70.5ZM64.7 76.2L65.3 73.6L66.4 73.1L69.3 73.5L70 75.3L68.8 76.5L67 77.4ZM83.3 73.3L83.6 70.9L85 70.1L86.8 71.3L85.6 73ZM102.6 67L103.1 65.7L104.8 64.9L106.6 65.3L105.9 66.9L104.4 67.7ZM107.6 73.4L107.9 71.7L109.8 70.5L111.3 70.8L112.2 72.2L111.3 73.9L109.7 74.6ZM117.6 75.4L116.1 76L115 75.7L114.1 74.2L114.4 73.4L116 73.3L117.6 74.5ZM103.4 81.5L103.5 80.1L105.1 79L106.5 79.3L106.6 80.8L105 82.1ZM129 87.5L127.7 88.1L125.3 86.1L125.1 84.2L127.2 84L129 84.8ZM59.7 91.1L58.3 90.6L58 89.6L58.5 87.4L59.9 87L61.5 88.2L61.4 90.4ZM155.3 93.6L155.5 91.3L157.4 89.9L159 90.2L160.2 91.7L159.2 94.4L157.3 94.9ZM137.1 108.9L135.5 107.7L135.2 105.7L137.2 104.8L138.3 105.2L138.4 108ZM7.1 28.6L5.4 27.8L4.6 26.4L5.9 24.8L6.9 24.6L8.4 25.8L8.1 27.6ZM158.6 14.5L157.2 14.9L155.4 13L155.1 12.3L156.4 11.1L157.7 11.7L158.6 12.9ZM147 11.6L145.1 13.7L143.4 13.9L141.7 12L141.8 10.3L143.3 9.5L146.1 10Z" fill="none" stroke="#f2f2f2" stroke-width="0.55" stroke-linejoin="round"/>
<path d="M16 7.6h0M13.3 11.7h0M17.3 13h0M16 15.7h0M32.2 6.3h0M34.9 6.8h0M44.3 6.3h0M38.9 11.7h0M45.1 11.7h0M49.7 7.6h0M51.1 11.7h0M24.9 20.3h0M30 20.3h0M51.1 18.4h0M53 21.1h0M51.9 25.2h0M54.6 27.9h0M57.3 27.9h0M53.8 30.6h0M49.7 35.4h0M5.2 25.2h0M6.5 29.2h0M26.8 29.2h0M26.8 32.4h0M44.3 32.4h0M64 9h0M65.9 11.7h0M68.6 13h0M65.9 2.2h0M98.3 5.4h0M106.4 13h0M109.1 9.8h0M91.6 20.3h0M95.1 19.2h0M97.8 18.4h0M112.6 18.4h0M101 34.6h0M104.5 35.4h0M106.4 37.3h0M109.1 34.6h0M111.8 33.3h0M127.2 4.9h0M129.4 7.6h0M131.5 6.3h0M128 10.3h0M132.1 11.7h0M137.5 7.6h0M140.2 3.6h0M144.2 10.8h0M149.1 12.2h0M145.6 25.2h0M151 26.5h0M155 31.9h0M159.1 33.3h0M162.6 36h0M156.4 21.1h0M13.3 50.8h0M10.6 53.5h0M9.2 54.9h0M11.9 56.8h0M32.7 50.8h0M43.5 50.8h0M28.1 57.6h0M142.9 51.6h0M146.9 51.6h0M6.5 62.4h0M6 65.7h0M1.1 74.3h0M2.5 80h0M98.3 64.3h0M100.5 65.7h0M104.5 67h0M47.6 71.9h0M52.4 75.1h0M56.5 77.8h0M59.2 79.7h0M67.3 76.5h0M84.8 73.8h0M109.1 71.6h0M113.2 76.5h0M109.1 82.4h0M113.2 77.8h0M128 81.9h0M130.7 83.2h0M126.7 87.3h0M129.9 89.4h0M122.1 89.4h0M59.7 88.6h0M30.3 94.8h0M25.4 97.5h0M134.2 108.1h0M12.5 13.7h0M17.1 10.9h0M40.5 10.2h0M47.3 8.1h0M48.5 18.7h0M52.5 19.4h0M52.4 27.5h0M55.2 27h0M29 30.2h0M25.2 34.3h0M64.4 13.3h0M66.8 0.6h0M106.9 11.4h0M110.2 8.8h0M95.5 17.6h0M98.1 20.7h0M103.4 34.8h0M104.4 33.9h0M107.1 38.9h0M111.5 34.6h0M110.1 34h0M127.6 8.4h0M129.1 11.6h0M131.3 12.8h0M149.4 10.3h0M155.4 29.7h0M159.4 34.7h0M164.7 35.1h0M155 19.6h0M13.2 49.2h0M9.4 52.6h0M13 58.9h0M45.4 51.7h0M29.7 55.7h0M96.6 65.3h0M101.1 63.2h0M102.1 66.7h0M50.7 76.4h0M60.4 78.4h0M65.6 77.9h0M86 71.6h0M113.4 73.9h0M108.8 83.9h0M114.2 79.3h0M126.2 85.1h0M130.4 90.9h0M32.2 94.9h0M23.8 99.2h0M132.8 107.8h0" stroke="#ff1414" stroke-width="3.1" stroke-linecap="round" fill="none"/>
</svg>
<svg x="335.8" y="642.1" width="167.2" height="110.9" viewBox="0 0 167.2 110.9" overflow="hidden">
<rect width="167.2" height="110.9" fill="#000"/>
<use href="#cl" transform="translate(168 112) rotate(180) translate(2 1)"/>
<ellipse cx="46.7" cy="15.1" rx="2.7" ry="3.4" transform="rotate(74.8 46.7 15.1)" fill="#000"/>
<ellipse cx="41.8" cy="14.7" rx="3.2" ry="2" transform="rotate(96.1 41.8 14.7)" fill="#000"/>
<ellipse cx="38.8" cy="17.8" rx="3" ry="3.3" transform="rotate(48.6 38.8 17.8)" fill="#000"/>
<ellipse cx="34.4" cy="18.3" rx="4.3" ry="3.1" transform="rotate(139.8 34.4 18.3)" fill="#000"/>
<ellipse cx="107.6" cy="44.5" rx="2.5" ry="2.1" transform="rotate(120.2 107.6 44.5)" fill="#000"/>
<ellipse cx="112.6" cy="43.2" rx="4.5" ry="2.3" transform="rotate(54 112.6 43.2)" fill="#000"/>
<ellipse cx="56.7" cy="26.1" rx="4" ry="2.2" transform="rotate(131.8 56.7 26.1)" fill="#000"/>
<ellipse cx="53.8" cy="29.8" rx="2.6" ry="2.9" transform="rotate(35.7 53.8 29.8)" fill="#000"/>
<ellipse cx="48.8" cy="30.7" rx="4" ry="2" transform="rotate(138.9 48.8 30.7)" fill="#000"/>
<ellipse cx="44.9" cy="32.7" rx="2.3" ry="2.6" transform="rotate(18 44.9 32.7)" fill="#000"/>
<ellipse cx="34.8" cy="87.9" rx="4.3" ry="2.8" transform="rotate(88.9 34.8 87.9)" fill="#000"/>
<ellipse cx="30.5" cy="85.6" rx="3.3" ry="2.3" transform="rotate(104.7 30.5 85.6)" fill="#000"/>
<ellipse cx="29.6" cy="81.9" rx="2.3" ry="3.2" transform="rotate(43.7 29.6 81.9)" fill="#000"/>
<ellipse cx="31.8" cy="78.7" rx="4.4" ry="3" transform="rotate(132.1 31.8 78.7)" fill="#000"/>
<ellipse cx="18" cy="29.9" rx="2.5" ry="3.4" transform="rotate(84 18 29.9)" fill="#000"/>
<ellipse cx="23.1" cy="29.1" rx="2.2" ry="3" transform="rotate(16.9 23.1 29.1)" fill="#000"/>
<ellipse cx="106.3" cy="72.7" rx="2.3" ry="2.3" transform="rotate(21.9 106.3 72.7)" fill="#000"/>
<ellipse cx="101.5" cy="74.8" rx="3.1" ry="2" transform="rotate(6.6 101.5 74.8)" fill="#000"/>
<ellipse cx="99.2" cy="78.8" rx="4.3" ry="2.7" transform="rotate(28.1 99.2 78.8)" fill="#000"/>
<ellipse cx="95.5" cy="82.4" rx="3.2" ry="3.5" transform="rotate(175.6 95.5 82.4)" fill="#000"/>
<ellipse cx="58" cy="46.5" rx="2.4" ry="2.6" transform="rotate(69.5 58 46.5)" fill="#000"/>
<ellipse cx="62.2" cy="46.7" rx="3.3" ry="2.7" transform="rotate(82 62.2 46.7)" fill="#000"/>
<ellipse cx="65.2" cy="48.6" rx="2.6" ry="2.9" transform="rotate(175.5 65.2 48.6)" fill="#000"/>
<ellipse cx="119.6" cy="11.7" rx="3.3" ry="2" transform="rotate(109.6 119.6 11.7)" fill="#000"/>
<ellipse cx="124.4" cy="9.7" rx="2.9" ry="2.7" transform="rotate(104.2 124.4 9.7)" fill="#000"/>
<ellipse cx="129.7" cy="9.6" rx="3.4" ry="2.6" transform="rotate(83.4 129.7 9.6)" fill="#000"/>
<ellipse cx="94.1" cy="79.1" rx="3.5" ry="2.1" transform="rotate(50 94.1 79.1)" fill="#000"/>
<ellipse cx="90.5" cy="77.2" rx="3.7" ry="3.5" transform="rotate(84.3 90.5 77.2)" fill="#000"/>
<path d="M96.9 7.7L98.7 4.5L101.5 4.7L102.5 6.9L101.8 8.8L98.6 9.3ZM25.4 16L23.8 16L22.7 14.5L22.9 12.9L24.4 12.2L25.6 13.2L26.1 14.6ZM33.7 17.2L31.7 16.4L31.1 14.7L32.2 13.7L33.8 15.4ZM40.2 26L40.1 24.2L42.1 22.3L43.9 23.8L43.1 25.9ZM5.8 34.6L5.6 33L7.6 30.7L9.4 30.9L11 33.2L10 34.8L8 35.7ZM30.4 33.1L30.9 31.7L32.8 30.7L34.6 31.5L34.7 32.6L33.2 34.1L31.8 34.1ZM60.7 30.8L57.4 30.4L56.6 27.9L59 26.2L60.8 27.9ZM59.6 34.7L57.3 36.5L55.6 36.5L54.3 34.3L54.4 32.4L56.8 31.7L58.8 32.7ZM60.7 34.7L59.2 34.7L56.9 33.3L57.2 30.6L59.2 29.7L61.3 30.9L61.8 33ZM73.4 20.8L72.8 19.6L73.6 17.8L75.5 17.2L76.7 18.1L76.6 20.1L75.1 21.3ZM110.6 20.4L109.2 20.9L107.1 20.1L106.5 18.2L107.7 18L109.7 18.8ZM115.9 19.3L114 19.8L112.3 17.5L113.4 15.9L116.1 17.1ZM125.4 19.6L125.9 18L128 16.9L129.4 17.4L128.9 19L127 20.2ZM142.2 28.4L140.4 28L139.3 25.2L141.1 24.5L143.1 26.4ZM154.6 26.5L155.4 23.6L157.8 22.9L159.9 25.7L158.1 27.2ZM147.4 37.5L146.5 36.2L146.6 33.7L147.8 31.6L149.2 32.6L149.6 34.1L149.1 36.2ZM33.8 52.4L32.1 52.1L30.8 49.7L32 48.9L34.1 50.5ZM23.5 60.2L21.8 61.7L19.2 61.3L18.1 59L19.3 57.5L22.8 58ZM55.3 58.1L54.9 55.9L56.5 54.6L58.6 55.3L57.9 58.1ZM73.5 57.8L73.3 56.2L74.6 55L76.5 55.3L76.7 56.2L74.9 58.4ZM89.3 59.2L87.1 59.5L85.5 57.6L87 56.2L89.2 57.4ZM93.5 58L93.1 56.8L95.2 54.6L96.5 54.3L97.9 55.6L97.2 56.7L94.8 58.5ZM86.5 49.3L85.1 49.9L83.4 48.2L83.9 46.2L85.6 45.7L86.9 47.7ZM111.6 50.3L109.9 49.6L109.5 47.2L111.9 46.4L113.2 48.4ZM149.5 55L149.5 52.8L151.7 51.6L153.6 52.5L153.4 54.4L150.6 55.9ZM159.8 56.4L158 57L155.4 54.5L156 52.7L158.6 51.9L160.3 54ZM145.6 60L145.8 58.1L147.6 56.7L150.6 58.5L149.8 61.2L148.1 62.2ZM154.6 66.3L154.6 64.2L156.5 62.5L158.8 62.6L158.6 65L157 66.4ZM69.5 69.2L68.9 70.3L66.3 70.4L65.9 68.6L66.3 67.7L68.9 67.5ZM77.9 73.2L76 73L74.6 71.1L76.8 69.2L78.9 69.8L78.9 71.1ZM90.9 76.3L89.3 74.1L90.8 71.1L93.2 71.6L93.7 74.3ZM107 70.6L105.9 68.4L107.2 66L109.6 66.2L110.6 68.7L109.9 70.3ZM136.3 72.9L133.6 73.2L132 71.6L133.3 69.1L135.6 69.7ZM141.1 81L139.4 82.3L136.7 81.8L136.6 78.9L139.4 78.5ZM7.9 72.2L6.1 72.3L4.1 70.6L4.1 69.1L6.3 68.6L8.4 70.4ZM25.5 80.5L24.7 78.7L25.2 77.3L26.7 76.7L27.5 78.1L26.8 79.7ZM46 79.6L45 77.6L46.8 75.5L48.9 76.4L48.7 79.4ZM69.7 80.5L70.2 77.4L73.6 77L74.6 80L71.5 81.6ZM104.9 81.9L105.6 79.5L108.6 78.9L109 81.4L107.2 82.7ZM111.1 86L111.1 85L112.7 83.5L114.1 83.5L114.8 85L114.3 85.8L112.2 86.9ZM101.6 95L99.5 93.8L99.7 92L101.9 91.2L103 93.3ZM91.7 100.6L90 100.6L89.1 99.1L89.8 96.9L91.7 96.6L92.6 97.4L92.9 99.5ZM66.3 98.4L64.5 98.3L63 96.9L63.3 94.8L65.3 95.3L66.5 97.2ZM136.7 97.6L135.5 98L133.4 97.1L133.1 95.8L133 95L134.7 95.2L136.5 96.6ZM165.7 88.8L163.6 87.4L163.9 84.4L166.8 84.5L167.6 86.8ZM124.9 107.9L125.5 105.4L127.9 104.6L129.6 106.1L129.3 108.9L127 109.5Z" fill="none" stroke="#f2f2f2" stroke-width="0.55" stroke-linejoin="round"/>
<path d="M31.7 17.1h0M31.7 21.5h0M36.1 27.3h0M34.1 33.2h0M74.9 18.6h0M76.4 18h0M110 20h0M145 33.7h0M82.2 47.8h0M84.6 46.3h0M112.3 49.2h0M147.3 58.8h0M148.8 60.9h0M157.6 63.2h0M158.7 61.8h0M1.9 71.7h0M25.3 77.5h0M26.8 78.4h0M76.4 73.2h0M79.9 74h0M91.6 72h0M104.7 84.3h0M110.6 83.4h0M116.4 85.7h0M99.2 91.5h0M90.4 98.3h0M91.9 100.3h0M136.8 98h0" stroke="#0a14ff" stroke-width="2.8" stroke-linecap="round" fill="none"/>
</svg>
<svg x="507" y="642.1" width="167" height="110.9" viewBox="0 0 167 110.9" overflow="hidden">
<rect width="167" height="110.9" fill="#000"/>
<use href="#cl" transform="translate(-1.5 0.5)"/>
<ellipse cx="68.7" cy="47.8" rx="2.8" ry="3.5" transform="rotate(55.6 68.7 47.8)" fill="#000"/>
<ellipse cx="64.4" cy="49.4" rx="3.9" ry="2.4" transform="rotate(125.1 64.4 49.4)" fill="#000"/>
<ellipse cx="59.9" cy="49.6" rx="3.2" ry="2.4" transform="rotate(89.8 59.9 49.6)" fill="#000"/>
<ellipse cx="57.1" cy="52.2" rx="3.7" ry="3.5" transform="rotate(141.3 57.1 52.2)" fill="#000"/>
<ellipse cx="86.8" cy="64.2" rx="3.1" ry="3.6" transform="rotate(127.8 86.8 64.2)" fill="#000"/>
<ellipse cx="81.9" cy="65" rx="3.6" ry="2" transform="rotate(73.3 81.9 65)" fill="#000"/>
<ellipse cx="77" cy="66.1" rx="2.9" ry="3.2" transform="rotate(11.5 77 66.1)" fill="#000"/>
<ellipse cx="74.3" cy="68.8" rx="2.5" ry="2.9" transform="rotate(54.8 74.3 68.8)" fill="#000"/>
<ellipse cx="113.5" cy="89.2" rx="4.1" ry="2.8" transform="rotate(50.2 113.5 89.2)" fill="#000"/>
<ellipse cx="116.8" cy="91.4" rx="4.2" ry="3.1" transform="rotate(129 116.8 91.4)" fill="#000"/>
<ellipse cx="120.1" cy="95.2" rx="2.5" ry="2.5" transform="rotate(93 120.1 95.2)" fill="#000"/>
<ellipse cx="151" cy="73.6" rx="3" ry="2.2" transform="rotate(164 151 73.6)" fill="#000"/>
<ellipse cx="154.3" cy="71.6" rx="2.2" ry="3" transform="rotate(25.3 154.3 71.6)" fill="#000"/>
<ellipse cx="155.9" cy="68.1" rx="3.6" ry="3.3" transform="rotate(129.1 155.9 68.1)" fill="#000"/>
<ellipse cx="155.8" cy="63.6" rx="3" ry="2.4" transform="rotate(110.4 155.8 63.6)" fill="#000"/>
<ellipse cx="9.2" cy="58.8" rx="3.3" ry="2.8" transform="rotate(92.9 9.2 58.8)" fill="#000"/>
<ellipse cx="10.4" cy="62.2" rx="2.8" ry="2.5" transform="rotate(88.7 10.4 62.2)" fill="#000"/>
<ellipse cx="137.1" cy="69.6" rx="2.3" ry="3.4" transform="rotate(45.1 137.1 69.6)" fill="#000"/>
<ellipse cx="131.9" cy="70.6" rx="2.5" ry="3.4" transform="rotate(135.7 131.9 70.6)" fill="#000"/>
<ellipse cx="129.5" cy="74.3" rx="3.8" ry="2.1" transform="rotate(65.1 129.5 74.3)" fill="#000"/>
<ellipse cx="143" cy="79.4" rx="4.1" ry="2.9" transform="rotate(71.1 143 79.4)" fill="#000"/>
<ellipse cx="147" cy="76.3" rx="2.9" ry="2.4" transform="rotate(130.6 147 76.3)" fill="#000"/>
<ellipse cx="42.1" cy="34.9" rx="3" ry="2.5" transform="rotate(118.1 42.1 34.9)" fill="#000"/>
<ellipse cx="38.1" cy="35.7" rx="4.5" ry="2.3" transform="rotate(159.3 38.1 35.7)" fill="#000"/>
<ellipse cx="34.1" cy="39" rx="3.8" ry="2.7" transform="rotate(43 34.1 39)" fill="#000"/>
<ellipse cx="146.9" cy="73" rx="3.8" ry="2.6" transform="rotate(22.2 146.9 73)" fill="#000"/>
<ellipse cx="150" cy="76.3" rx="3" ry="2.8" transform="rotate(115.3 150 76.3)" fill="#000"/>
<path d="M38.6 10.7L36.9 8.9L37.4 6.5L39.5 6L41.3 7.7L40.6 9.7ZM76.3 25.3L75.3 26.7L72.4 26.3L71.4 24.1L73 22.2L75.4 22.3ZM81.4 33.1L79.4 32.3L78.7 31.5L78.2 29.4L79.4 28.1L81.5 29.5L82.2 31.2ZM91 31.4L91.7 29.8L94.3 29.6L94.6 32L92.9 33.1ZM102.9 26L102.2 27.3L100.1 27.2L98.8 25.7L100.5 24L101.6 24ZM110.9 22.2L112.6 19.5L114.8 20.4L115 22.8L112.5 23.7ZM126.1 7.1L127.8 5.4L128.7 5.1L131.3 5.9L131.1 7.7L129.6 8.6L127.5 8.5ZM148.1 14L146.6 14.1L144.5 11.5L145.2 9.5L146.1 8.6L148.4 9.6L149.3 12ZM135.2 32.1L135.6 29.6L138.1 29.1L139.6 30L139.7 32.2L137.2 33.3ZM47.7 36.3L45.2 37.7L43.9 36.6L44.7 34.2L46.6 34.6ZM8.9 38.7L6.7 37.7L6.1 35.4L7.5 34.2L9.7 36.4ZM24.6 42.7L24.9 40.6L26 40.2L28 40L29.1 42.3L28.6 43.4L26.3 44.1ZM53.5 41.7L53.1 40.7L55.2 38.8L56.4 38.8L57 40.6L56.4 41.7L54.8 42.3ZM84.1 41.3L82.2 41.9L79.4 40.8L79.7 39.3L82.1 39.3ZM13 59.1L10.9 60L9 59L8.3 57.9L8.9 56.7L10.3 56.5L12.5 57.9ZM44.4 52.9L42.3 54.7L40.8 54.5L39.2 52.6L40.8 50.6L42.6 50.9ZM49.1 54.3L48.3 51.8L50.1 49.6L52.2 49.7L52 53.7ZM57.6 54.2L55.9 53.8L54.9 52.4L55.5 50.4L57.5 49.8L59.2 51.4L58.7 53.4ZM47.5 63L49 60.9L51.3 60.9L51.7 62.2L49.3 63.8ZM75 69L73.6 69.1L72.6 67.3L72.8 66L74.6 66.4L75.4 67.3ZM109.1 59.1L108.1 61L105.7 60.8L105.9 57.9L107.8 57.9ZM102.5 62.2L99.6 62.2L98.7 60.8L101 58.6L103.1 59.7ZM122.6 72.9L120.7 74.7L118.6 74.5L117 73.3L118.8 71.3L121 71.3ZM118.8 83.6L119.1 82.6L120.7 81.6L122.7 83.2L122.8 84.4L121.3 85.6L119.4 85.3ZM131.8 83.6L130.1 85.1L128 83.9L128.2 82L130.7 81.5ZM44.2 82.6L44 80.3L45.1 79.3L47 79.4L47.7 81.1L47.3 81.9L45.6 83ZM76.9 87.8L77.8 86.2L79.3 86.1L80.9 87.2L80.2 88.1L78.3 88.6ZM90.8 89.9L89.5 88.1L89.4 86.9L90.9 84.8L92.6 85.3L94 87.2L93.1 89.3ZM111.5 96.6L111.4 94.5L113.2 93.2L115.2 93.6L115.1 95.5L112.9 97ZM58.7 97.1L58 95.3L58.9 93.8L60.4 93.5L61.3 95L60.3 97ZM66.6 104.2L66.5 102L68.4 100.4L70.3 101.2L70.8 103.5L68.7 104.8ZM27.4 102.9L26.2 103.4L24 102.7L23.4 100.9L24.9 100.3L27.1 101.2ZM151.4 89.6L150.2 90.7L148.1 90.6L146.9 88.4L147.9 87.8L149.9 87.9ZM161.6 47.9L161.6 46.3L164.3 45.3L166 46.7L165 49L162.6 49ZM135.1 41.3L133.4 41.2L132.8 37.8L134.7 37.1L136.4 37.6L136.8 40.4ZM156.2 26L157.3 24.5L159.7 24.7L160.1 26.1L158.1 27Z" fill="none" stroke="#f2f2f2" stroke-width="0.55" stroke-linejoin="round"/>
<path d="M11.9 6.8h0M14.6 6.3h0M38.4 6.3h0M40.3 9.5h0M7.9 21.7h0M10.6 24.9h0M13.3 21.7h0M10.6 25.7h0M41.6 16.3h0M44.3 18.1h0M6.5 36.5h0M7.3 39.2h0M16 37.9h0M18.7 37.3h0M20 39.2h0M21.9 40.6h0M19.2 41.9h0M22.7 43.3h0M26.8 44.6h0M10.6 46h0M2.5 50.6h0M3.8 51.9h0M21.4 51.4h0M45.7 35.2h0M44.3 39.2h0M37.6 41.9h0M40.8 43.8h0M36.2 50h0M37.6 53.5h0M34.9 54.6h0M43.5 56.2h0M44.3 59.5h0M43.5 62.7h0M55.1 37.9h0M51.1 43.3h0M53.8 59.5h0M55.7 56.8h0M67.3 43.8h0M69.4 46.5h0M71.3 51.9h0M73.2 52.7h0M70.8 66.2h0M76.7 37.9h0M82.1 33.8h0M80.8 43.8h0M83.5 44.6h0M97 14.1h0M88.9 20.3h0M91 19.8h0M97 28.4h0M102.4 30.3h0M103.7 32.5h0M101 40.6h0M101 43.8h0M100.2 47.3h0M102.4 62.2h0M114.5 14.9h0M119.9 14.1h0M122.1 15.7h0M118.6 19.8h0M126.1 18.4h0M128 14.9h0M128.8 6.3h0M133.4 27.1h0M134.8 31.1h0M136.1 33h0M128 32.5h0M130.7 51.9h0M152.3 14.9h0M158.3 23h0M165.8 33.8h0M163.7 36.5h0M160.4 39.2h0M165 48.7h0M155 58.1h0M156.4 59.5h0M159.6 58.1h0M162.3 63.5h0M120.7 74.3h0M119.9 75.1h0M91.6 85.1h0M92.9 86.5h0M78.9 88.6h0M45.7 81.1h0M48.9 85.1h0M51.1 87.8h0M14.6 84.6h0M17.3 87.8h0M16 90.5h0M18.7 89.2h0M60 90.5h0M62.7 93.2h0M64.6 90.5h0M109.7 95.9h0M115.9 97.3h0M124.5 87h0M150.4 91.3h0M157.7 90.5h0M158.3 94.6h0M153.7 98.6h0M155 101.3h0M151 105.4h0M25.4 98.6h0M13.3 104.8h0M16 106.7h0M12 8.7h0M9.3 22.4h0M11.6 26h0M12 22.3h0M43.3 15.2h0M17.8 35h0M19.8 41.8h0M20.6 41.1h0M4.2 51.2h0M43.1 37.8h0M39.2 44.6h0M34.1 51.5h0M38.9 53h0M36.3 55h0M41.9 56.1h0M43.4 60.6h0M53 44.4h0M56.2 58.7h0M69.8 44.7h0M69 51.6h0M77 39.5h0M81.8 32.4h0M95.8 13.1h0M90.6 21.4h0M100.5 30.5h0M103.9 34.8h0M100.2 42.7h0M100.6 41.4h0M100 45.2h0M104.5 61.9h0M116.9 15.4h0M120.9 17.6h0M126.4 14.4h0M131.3 5.4h0M126.8 34.3h0M151.7 13.4h0M163.9 38.3h0M166.9 47.2h0M155.2 56.3h0M161.5 57.7h0M122.4 73.7h0M118.5 74.4h0M91.8 82.9h0M94.3 87.1h0M81.1 88h0M45.9 82.7h0M49.4 82.9h0M15.4 82.2h0M19.3 87.1h0M18.4 90.6h0M19.6 90.5h0M62.5 90.2h0M125 85.3h0M154.1 103.4h0M14.5 106h0" stroke="#ff1414" stroke-width="3.1" stroke-linecap="round" fill="none"/>
</svg>
<text font-size="10" text-anchor="end" fill="#fff" transform="translate(500.6 416.7) scale(0.77 1)" stroke="#fff" stroke-width="0.25">CTX</text>
<text font-size="10" text-anchor="end" fill="#fff" transform="translate(671.4 416.7) scale(0.77 1)" stroke="#fff" stroke-width="0.25">CTX</text>
<text font-size="10.47" text-anchor="start" fill="#fff" transform="translate(337.4 513.7) scale(0.75 1)" stroke="#fff" stroke-width="0.25">FOV1</text>
<text font-size="10.47" text-anchor="start" fill="#fff" transform="translate(508.6 513.7) scale(0.75 1)" stroke="#fff" stroke-width="0.25">FOV1</text>
<text font-size="10" text-anchor="end" fill="#fff" transform="translate(500.6 534.2) scale(0.77 1)" stroke="#fff" stroke-width="0.25">CTX</text>
<text font-size="10" text-anchor="end" fill="#fff" transform="translate(671.4 534.2) scale(0.77 1)" stroke="#fff" stroke-width="0.25">CTX</text>
<text font-size="10.47" text-anchor="start" fill="#fff" transform="translate(337.4 631.1) scale(0.75 1)" stroke="#fff" stroke-width="0.25">FOV2</text>
<text font-size="10.47" text-anchor="start" fill="#fff" transform="translate(508.6 631.1) scale(0.75 1)" stroke="#fff" stroke-width="0.25">FOV2</text>
<text font-size="10" text-anchor="end" fill="#fff" transform="translate(500.6 652.2) scale(0.77 1)" stroke="#fff" stroke-width="0.25">CTX</text>
<text font-size="10" text-anchor="end" fill="#fff" transform="translate(671.4 652.2) scale(0.77 1)" stroke="#fff" stroke-width="0.25">CTX</text>
<text font-size="10.47" text-anchor="start" fill="#fff" transform="translate(337.4 749.3) scale(0.75 1)" stroke="#fff" stroke-width="0.25">FOV3</text>
<text font-size="10.47" text-anchor="start" fill="#fff" transform="translate(508.6 749.3) scale(0.75 1)" stroke="#fff" stroke-width="0.25">FOV3</text>
<rect x="643.8" y="747" width="26.2" height="2" fill="#fff"/>
<text font-size="9.67" text-anchor="middle" fill="#1a1a1a" transform="translate(331.2 579.1) rotate(-90) scale(0.9 1)" stroke="#1a1a1a" stroke-width="0.12">CosMx ST Image</text>
<text font-size="8.7" text-anchor="middle" fill="#e60012" transform="translate(684 514) rotate(-90)" stroke="#e60012" stroke-width="0.12" textLength="72" lengthAdjust="spacingAndGlyphs">L5 score in CosMx</text>
<circle cx="681.4" cy="569.4" r="3.3" fill="#e60012"/>
<text font-size="8.7" text-anchor="middle" fill="#00a0e9" transform="translate(684 628.8) rotate(-90)" stroke="#00a0e9" stroke-width="0.12" textLength="73" lengthAdjust="spacingAndGlyphs">AS score in CosMx</text>
<circle cx="681.2" cy="677.6" r="3.3" fill="#00a0e9"/>
<text font-size="8.8" text-anchor="start" fill="#000" font-weight="bold" transform="translate(-1 6.3)" stroke="#000" stroke-width="0.12">a</text>
<text font-size="8.8" text-anchor="start" fill="#000" font-weight="bold" transform="translate(249.8 6.3)" stroke="#000" stroke-width="0.12">b</text>
<text font-size="8.8" text-anchor="start" fill="#000" font-weight="bold" transform="translate(494.6 6.3)" stroke="#000" stroke-width="0.12">c</text>
<text font-size="8.8" text-anchor="start" fill="#000" font-weight="bold" transform="translate(-1 203.8)" stroke="#000" stroke-width="0.12">d</text>
<text font-size="8.8" text-anchor="start" fill="#000" font-weight="bold" transform="translate(200.9 203.8)" stroke="#000" stroke-width="0.12">e</text>
<text font-size="8.8" text-anchor="start" fill="#000" font-weight="bold" transform="translate(424.7 203.8)" stroke="#000" stroke-width="0.12">f</text>
<text font-size="8.8" text-anchor="start" fill="#000" font-weight="bold" transform="translate(-1 404.4)" stroke="#000" stroke-width="0.12">g</text>
<text font-size="8.8" text-anchor="start" fill="#000" font-weight="bold" transform="translate(315.4 404)" stroke="#000" stroke-width="0.12">h</text>
</svg>
</body></html>
